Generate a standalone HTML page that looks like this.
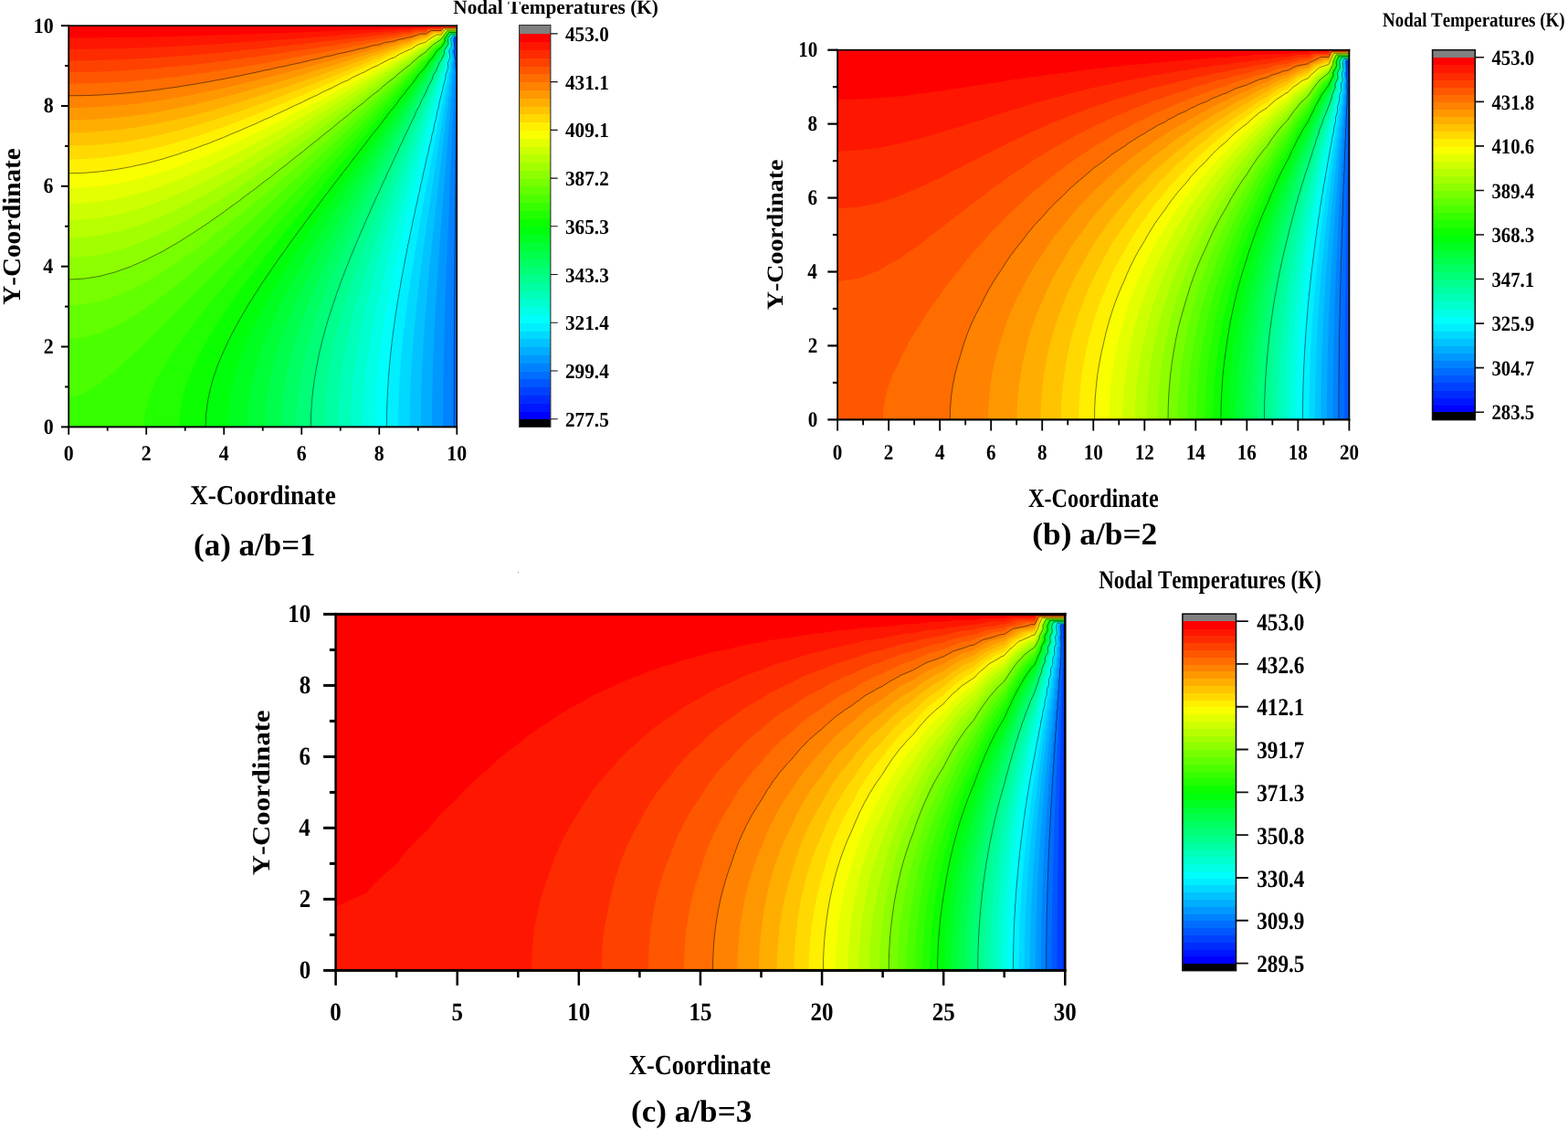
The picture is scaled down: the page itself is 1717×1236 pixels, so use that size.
<!DOCTYPE html>
<html lang="en"><head><meta charset="utf-8"><title>Nodal Temperatures</title>
<style>
html,body{margin:0;padding:0;background:#fff;}
body{width:1717px;height:1236px;overflow:hidden;}
svg{display:block;}
text{font-family:'Liberation Serif','Times New Roman',Times,serif;font-weight:bold;font-size:200px;fill:#000;font-kerning:none;font-variant-ligatures:none;text-rendering:geometricPrecision;}
</style></head><body>
<svg width="1717" height="1236" viewBox="0 0 1717 1236">
<rect width="1717" height="1236" fill="#fff"/>
<clipPath id="cpa"><rect x="75.2" y="28.1" width="425.1" height="439.3"/></clipPath>
<g clip-path="url(#cpa)" shape-rendering="geometricPrecision">
<rect x="74.2" y="27.1" width="427.1" height="441.3" fill="#0000ff"/>
<path fill="#0016ff" d="M500.3 48L499.7 42.2L499.9 41.9L500.3 41.9L500.3 28.9L75.2 28.9L75.2 467.4L500.3 467.4Z"/>
<path fill="#002bff" d="M500.3 53.8L499.2 42.2L499.6 41.6L500.3 41.6L500.3 28.9L75.2 28.9L75.2 467.4L500.3 467.4Z"/>
<path fill="#0041ff" d="M500.3 59.1L499.7 55.5L499.9 55.1L498.6 42.2L499.2 41.4L500.3 41.4L500.3 28.9L75.2 28.9L75.2 467.4L500.3 467.4Z"/>
<path fill="#0057ff" d="M500.3 64.2L498.8 55.5L499.3 54.7L498.1 42.2L498.9 41.1L500.3 41.1L500.3 28.9L75.2 28.9L75.2 467.4L500.3 467.4Z"/>
<path fill="#006dff" d="M500.3 70.6L500.2 68.7L497.9 55.5L498.7 54.2L497.5 42.2L498.5 40.8L500.3 40.8L500.3 28.9L75.2 28.9L75.2 467.4L500.3 467.4Z"/>
<path fill="#0082ff" d="M497.2 467.4L497.3 414.2L497.5 361.1L497.6 359L497.6 347.8L497.7 345.7L497.7 334.5L497.7 332.5L497.7 321.2L497.8 319.3L497.8 307.9L497.9 306.1L497.9 294.7L498 292.9L498 281.4L498.1 279.7L498.1 268.1L498.3 266.5L498.3 254.8L498.4 253.3L498.4 241.5L498.5 240.1L498.5 228.2L498.6 226.9L498.6 214.9L498.7 213.7L498.7 201.6L498.8 200.5L498.8 188.4L498.9 187.3L498.9 175.1L499.1 174.1L499.1 161.8L499.2 160.9L499.2 148.5L499.3 147.7L499.3 135.2L499.4 134.5L499.4 121.9L499.6 121.3L499.6 108.6L499.7 108.1L499.7 95.3L499.8 94.9L499.8 82.1L499.9 81.7L498.7 68.8L499.2 67.9L497 55.5L498.1 53.7L497 42.2L498.2 40.5L500.3 40.5L500.3 28.9L75.2 28.9L75.2 467.4Z"/>
<path fill="#0098ff" d="M485.1 467.4L485.2 440.8L485.5 414.2L486 387.7L486.6 363.7L486.6 361.1L487 350.7L487 347.8L487.4 337.7L487.4 334.5L487.8 324.7L487.8 321.2L488.2 311.8L488.2 307.9L488.7 298.9L488.7 294.7L489.2 286L489.2 281.4L489.7 273.1L489.7 268.1L490.3 260.2L490.3 254.8L490.8 247.4L490.8 241.5L491.4 234.5L491.4 228.2L491.9 221.7L491.9 214.9L492.5 208.8L492.5 201.6L493.1 196L493.1 188.4L493.7 183.2L493.7 175.1L494.3 170.3L494.3 161.8L494.9 157.5L494.9 148.5L495.4 144.7L495.4 135.2L496 131.9L496 121.9L496.6 119.1L496.6 108.6L497.2 106.2L497.2 95.3L497.8 93.4L497.8 82.1L498.4 80.6L497.3 68.8L498.1 67.1L496.1 55.5L497.5 53.3L496.4 42.2L497.8 40.3L500.3 40.3L500.3 28.9L75.2 28.9L75.2 467.4Z"/>
<path fill="#00aeff" d="M473 467.4L473.2 440.8L473.7 414.2L474 407L474.1 401L474.4 394L474.5 387.7L474.9 381.1L475 374.4L475.4 368.2L475.6 361.1L476 355.4L476.3 347.8L476.7 342.7L477 334.5L477.4 329.9L477.8 321.2L478.2 317.2L478.6 307.9L479 304.5L479.5 294.7L479.8 291.9L480.4 281.4L480.6 279.3L481.3 268.1L481.5 266.7L484.3 228.2L485.3 216.5L485.3 214.9L486.3 204L486.3 201.6L487.3 191.5L487.3 188.4L488.4 179.1L488.4 175.1L489.5 166.6L489.5 161.8L490.5 154.1L490.5 148.5L491.6 141.7L491.6 135.2L492.7 129.2L492.7 121.9L493.7 116.8L493.7 108.6L494.8 104.3L494.8 95.3L495.8 91.8L495.8 82.1L496.9 79.4L495.9 68.8L497.1 66.3L495.2 55.5L496.9 52.8L495.8 42.2L497.5 40L500.3 40L500.3 28.9L75.2 28.9L75.2 467.4Z"/>
<path fill="#00c3ff" d="M460.8 467.4L460.9 454.1L461.1 440.8L461.8 414.2L463 387.7L464.6 361.1L466.3 339L467.7 321.2L468.8 309.9L468.9 307.9L470 297.6L470.1 294.7L471.2 285.2L471.4 281.4L472.5 272.9L472.8 268.1L473.8 260.6L474.2 254.8L475.1 248.4L475.6 241.5L476.4 236.1L477 228.2L477.8 223.9L478.5 214.9L479.1 211.7L480 201.6L480.5 199.4L481.6 188.4L481.8 187.2L483.2 175L484.7 162.8L484.7 161.8L486.2 150.8L486.2 148.5L487.7 138.7L487.7 135.2L489.3 126.6L489.3 121.9L490.8 114.5L490.8 108.6L492.3 102.4L492.3 95.3L493.8 90.3L493.8 82.1L495.3 78.2L494.5 68.8L496.1 65.5L494.3 55.5L496.3 52.3L495.3 42.2L497.1 39.7L500.3 39.7L500.3 28.9L75.2 28.9L75.2 467.4Z"/>
<path fill="#00d9ff" d="M448.6 467.4L448.6 454.1L448.9 440.8L449.3 427.5L449.8 414.2L450.6 401L451.4 387.7L452.4 374.4L453.3 364.2L453.5 361.1L454.5 351.9L454.8 347.8L455.7 339.5L456.1 334.5L457 327.3L457.6 321.2L458.4 315.1L459.1 307.9L459.9 302.9L460.7 294.7L461.4 290.8L462.4 281.4L462.9 278.7L464.2 268.1L464.5 266.7L466.1 254.6L467.8 242.7L467.9 241.5L469.6 230.8L469.8 228.2L471.4 218.9L471.7 214.9L473.2 207.1L473.7 201.6L475 195.2L475.7 188.4L476.8 183.3L477.7 175.1L478.6 171.4L479.7 161.8L480.4 159.5L481.8 148.5L482.1 147.5L483.9 135.6L483.9 135.2L485.9 123.9L485.9 121.9L487.9 112.2L487.9 108.6L489.9 100.5L489.9 95.3L491.9 88.7L491.9 82.1L493.8 77L493.1 68.8L495 64.7L493.5 55.5L495.7 51.9L494.7 42.2L496.8 39.4L500.3 39.4L500.3 28.9L75.2 28.9L75.2 467.4Z"/>
<path fill="#00efff" d="M436.1 467.4L436.2 454.1L436.5 440.8L437 427.5L437.7 414.2L438.6 401L439.3 393.1L439.6 387.7L440.4 380.7L440.8 374.4L441.6 368.4L442.2 361.1L442.9 356.1L443.8 347.8L444.4 344L445.5 334.5L445.9 331.9L447.3 321.2L449.3 307.7L451.1 296.1L451.3 294.7L453 284.3L453.3 281.4L455 272.5L455.5 268.1L457 260.8L457.8 254.8L459 249.1L460.1 241.5L461.1 237.4L462.5 228.2L463.1 225.7L464.9 214.9L465.2 214L467.3 202.4L467.4 201.6L469.6 190.9L469.8 188.4L471.8 179.4L472.3 175.1L474 167.8L474.8 161.8L476.3 156.3L477.3 148.5L478.4 144.7L479.8 135.2L480.6 133.1L482.4 121.9L482.6 121.4L485 109.9L485 108.6L487.4 98.6L487.4 95.3L489.9 87.2L489.9 82.1L492.3 75.8L491.6 68.8L494 63.9L492.6 55.5L495.1 51.4L494.2 42.2L496.4 39.1L500.3 39.1L500.3 28.9L75.2 28.9L75.2 467.4Z"/>
<path fill="#00fffa" d="M423.4 467.4L423.5 454.1L423.9 440.8L424.5 427.5L425.3 414.2L426.4 401L426.9 396.7L427.7 387.7L428.1 384.4L429.2 374.4L430.9 361.1L432.7 347.8L434.7 334.5L436.4 324.5L436.9 321.2L438.5 312.8L439.1 307.9L440.6 301.1L441.6 294.7L442.7 289.5L444.1 281.4L444.9 278L446.7 268.1L447.2 266.4L449.5 254.9L451.9 243.6L452.2 241.5L454.4 232.2L455 228.2L456.9 220.9L457.9 214.9L459.4 209.5L460.8 201.6L461.9 198.2L463.8 188.4L464.3 186.8L466.8 175.5L469.5 164.3L469.8 161.8L472.2 153.1L472.8 148.5L474.8 141.8L475.8 135.2L477.4 130.6L478.8 121.9L479.9 119.2L481.9 108.6L482.3 107.8L485 96.7L485 95.3L487.9 85.6L487.9 82.1L490.8 74.6L490.2 68.8L493 63.1L491.7 55.5L494.5 50.9L493.6 42.2L496 38.9L500.3 38.9L500.3 28.9L75.2 28.9L75.2 467.4Z"/>
<path fill="#00ffe4" d="M410.5 467.4L410.7 454.1L411.1 440.8L411.8 427.5L412.8 414.2L414.1 401L415.6 387.7L417.3 374.4L418.9 363.9L419.2 361.1L420.8 352.1L421.3 347.8L422.8 340.4L423.7 334.5L424.9 328.8L426.2 321.2L427.2 317.2L428.9 307.9L429.5 305.8L431.9 294.3L434.4 283.1L434.7 281.4L437.1 271.8L437.8 268.1L439.7 260.6L440.9 254.8L442.4 249.4L444.1 241.5L445.2 238.3L447.5 228.2L447.9 227.1L450.7 216L450.9 214.9L453.6 205L454.2 201.6L456.5 194L457.7 188.4L459.4 183L461.1 175.1L462.3 171.9L464.7 161.8L465.1 160.8L468.1 149.9L468.2 148.5L471.1 139L471.7 135.2L474.1 128.1L475.2 121.9L477.1 117.1L478.7 108.6L479.9 106L482.4 95.3L482.7 94.9L485.9 84.1L485.9 82.1L489.2 73.4L488.8 68.8L492 62.2L490.8 55.5L493.9 50.4L493.1 42.2L495.7 38.6L500.3 38.6L500.3 28.9L75.2 28.9L75.2 467.4Z"/>
<path fill="#00ffce" d="M397.4 467.4L397.6 454.1L398.1 440.8L398.9 427.5L400 414.2L401.4 401L403.1 387.7L404.4 379.2L405 374.4L406.3 367.4L407.3 361.1L408.4 355.7L409.8 347.8L410.6 344.2L412.5 334.5L413 332.7L415.4 321.3L418.1 310.1L418.5 307.9L420.8 299L421.7 294.7L423.6 287.9L425.1 281.4L426.5 276.8L428.6 268.1L429.4 265.8L432.3 254.8L435.4 244L436 241.5L438.6 233.1L439.7 228.2L441.7 222.3L443.6 214.9L444.8 211.5L447.5 201.6L448 200.6L451.2 189.9L451.5 188.4L454.5 179.2L455.4 175.1L457.8 168.4L459.4 161.8L461.1 157.7L463.5 148.5L464.2 146.9L467.5 136.1L467.6 135.2L470.9 125.5L471.6 121.9L474.3 114.9L475.5 108.6L477.6 104.2L479.7 95.3L480.7 93.3L483.9 82.5L483.9 82.1L487.7 72.2L487.4 68.8L490.9 61.4L489.9 55.5L493.3 50L492.5 42.2L495.3 38.3L500.3 38.3L500.3 28.9L75.2 28.9L75.2 467.4Z"/>
<path fill="#00ffb8" d="M383.9 467.4L384.1 454.1L384.6 440.8L385.5 427.5L386.8 414.2L388.4 401L389.4 394.1L390.3 387.7L391.3 382.2L392.6 374.4L393.4 370.5L395.1 361.1L401 334.5L403.4 325.2L404.2 321.2L406.2 314.2L407.7 307.9L409.2 303.2L411.4 294.7L412.2 292.3L415.3 281.4L418.6 270.7L419.2 268.1L421.9 260L423.3 254.8L425.3 249.3L427.5 241.5L428.6 238.6L432 228L435.5 217.5L436.2 214.9L439.1 207L440.6 201.6L442.6 196.4L445.1 188.4L446.1 185.9L449.6 175.3L453.3 165L454.1 161.8L457 154.5L458.6 148.5L460.6 144L463.3 135.2L464.1 133.5L467.7 123L467.9 121.9L471.5 112.7L472.3 108.6L475.2 102.3L476.9 95.3L478.8 91.8L481.7 82.1L482.2 81.2L486.2 71L486 68.8L489.9 60.6L489 55.5L492.7 49.5L492 42.2L495 38L500.3 38L500.3 28.9L75.2 28.9L75.2 467.4Z"/>
<path fill="#00ffa3" d="M369.9 467.4L370.1 454.1L370.7 440.8L371.7 427.5L373.2 414.2L375 401L377.2 387.7L379.7 374.4L382.6 361.1L385.1 350.8L385.7 347.8L387.9 339.7L389.1 334.5L390.8 328.7L392.8 321.2L393.9 317.8L397.1 307L400.4 296.3L400.9 294.7L403.9 285.7L405.1 281.4L407.4 275.2L409.6 268.1L410.9 264.7L414.5 254.2L418.2 243.8L418.9 241.5L422 233.5L423.6 228.2L425.8 223.1L428.6 214.9L429.5 212.8L433.4 202.5L433.6 201.6L437.3 192.3L438.5 188.4L441.2 182.1L443.5 175.1L445.1 171.8L448.9 161.5L453 151.4L453.7 148.5L457 141.2L458.8 135.2L460.9 131L464 121.9L464.7 120.7L468.8 110.6L469.2 108.6L472.9 100.5L474.1 95.3L476.9 90.3L479.3 82.1L480.7 80L484.7 69.8L484.6 68.8L488.9 59.8L488.1 55.5L492.1 49L491.4 42.2L494.6 37.8L500.3 37.8L500.3 28.9L75.2 28.9L75.2 467.4Z"/>
<path fill="#00ff8d" d="M355.4 467.4L355.7 454.1L356.4 440.8L357.5 427.5L359.1 414.2L361.2 401L363.6 387.7L366.4 374.4L368.8 364.6L369.5 361.1L371.6 353.6L373 347.8L374.6 342.6L376.9 334.5L377.8 331.8L381.1 321.1L384.6 310.5L385.3 307.9L388.2 300.1L389.9 294.7L391.9 289.6L394.7 281.4L395.6 279.3L399.7 268.1L403.4 258.8L404.7 254.8L407.4 248.6L409.9 241.5L411.4 238.4L415.4 228.3L419.6 218.3L420.7 214.9L423.7 208.2L426.2 201.6L427.9 198.2L432 188.1L436.3 178.2L437.3 175.1L440.6 168.3L443 161.8L444.8 158.3L449 148.2L453.3 138.4L454.3 135.2L457.7 128.5L459.9 121.9L461.9 118.5L466 108.4L470.6 98.7L471.3 95.3L474.9 88.8L476.9 82.1L479.1 78.8L483.2 68.7L487.9 59L487.2 55.5L491.5 48.6L490.8 42.2L494.3 37.5L500.3 37.5L500.3 28.9L75.2 28.9L75.2 467.4Z"/>
<path fill="#00ff77" d="M340.4 467.4L340.6 454.1L341.4 440.8L342.7 427.5L344.5 414.2L346.8 401L349.4 387.7L352.5 374.4L354.6 366.8L356 361.1L357.6 355.9L359.9 347.8L364.3 334.5L367.9 324L368.7 321.2L371.6 313.7L373.5 307.9L375.4 303.4L378.6 294.7L381.3 288.3L383.9 281.4L387.5 272.9L389.3 268.1L391.7 262.9L395 254.8L395.9 252.9L400.2 243L400.8 241.5L404.6 233.2L406.6 228.2L409 223.3L412.6 214.9L413.4 213.5L417.9 203.7L418.7 201.6L422.5 194L424.7 188.4L427 184.2L431.1 175.1L432.3 172.7L436.1 164.7L437.1 161.8L440.7 155L443.4 148.5L445.2 145.3L449.7 135.5L454.4 125.9L455.8 121.9L459.1 116.3L462.2 108.6L463.6 106.5L466.3 101L468.2 96.8L468.6 95.3L473 87.3L474.5 82.1L477.5 77.5L481 68.8L481.9 67.7L483.3 65.5L486.8 58.2L486.3 55.5L490.9 48.1L490.3 42.2L493.9 37.2L500.3 37.2L500.3 28.9L75.2 28.9L75.2 467.4Z"/>
<path fill="#00ff62" d="M324.6 467.4L324.9 454.1L325.7 440.8L327.2 427.5L329.2 414.2L331.7 401L334.6 387.7L338 374.4L339.8 368.6L341.9 361.1L346.3 347.8L350.9 334.5L354 326.5L355.9 321.2L358 316.3L361.3 307.9L364.3 301.1L366.8 294.7L370.6 286.3L372.6 281.4L375 276.4L378.7 268.1L381.3 262.8L384 256.9L384.8 254.8L388.6 247.2L391.1 241.5L393.2 237.6L397.9 227.9L402.7 218.4L404.1 214.9L407.5 208.8L410.8 201.6L412.2 199.2L417 189.7L417.6 188.4L421.9 180.3L424.3 175.1L426.8 170.8L431.2 161.8L432.3 160L436.5 151.8L437.9 148.5L441.5 142.4L444.8 135.2L446.3 132.9L449.3 127.3L451.2 123.4L451.7 121.9L456.2 114L458.4 108.6L461.1 104.6L465.7 95.3L466.3 94.4L471 85.8L472.1 82.1L476 76.3L479 68.8L480.7 66.7L483.3 62.6L485.8 57.4L485.5 55.5L490.3 47.6L489.7 42.2L493.6 36.9L500.3 36.9L500.3 28.9L75.2 28.9L75.2 467.4Z"/>
<path fill="#00ff4c" d="M307.9 467.4L308.2 454.1L309.2 440.8L310.8 427.5L313.3 413.1L315.7 401L319 387.7L322.8 374.4L327.1 361.1L330.3 352.7L331.9 347.8L335.5 338.6L337 334.5L339.6 328.5L342.5 321.2L347.3 310.8L348.4 307.9L352.6 298.9L354.5 294.7L357.2 289.2L360.9 281.4L364.3 274.8L367.5 268.1L371.5 260.4L374.2 254.8L376.4 251L381.3 241.5L386.3 232.1L388.2 228.2L391.3 222.8L395.4 214.9L398.3 210.1L401.5 204.1L402.7 201.6L406.6 194.9L410 188.4L411.7 185.6L416.9 176.3L417.5 175.1L422.1 167.1L424.8 161.8L427.3 157.9L432.4 148.6L437.7 139.4L439.7 135.2L442.9 130.2L447.4 121.9L449.3 119L453.4 111.8L454.7 108.6L458.6 102.6L462.2 95.3L463.7 93.3L466.3 89.3L469.1 84.2L469.7 82.1L474.4 75.1L476.9 68.8L479.4 65.7L483.3 59.7L484.8 56.6L484.6 55.5L489.6 47.2L489.2 42.2L493.2 36.7L500.3 36.7L500.3 28.9L75.2 28.9L75.2 467.4Z"/>
<path fill="#00ff36" d="M290 467.4L290.3 454.1L291.4 440.8L293.2 427.5L295.7 414.2L298.7 401L302.3 387.7L306.6 374.4L311.4 361.1L313.3 356.7L316.6 347.8L320.1 339.9L322.3 334.5L329 320.2L333.6 310.6L334.8 307.9L338.4 301L341.5 294.7L343.3 291.5L353.3 272.8L355.7 268.1L358.4 263.5L368.8 245.1L370.6 241.5L374.1 235.9L378.4 228.2L381.3 223.7L384.8 217.7L386.2 214.9L390.2 208.6L394.1 201.6L395.6 199.5L398.3 195.2L401 190.5L402.1 188.4L406.5 181.5L410.1 175.1L411.9 172.5L415.3 167.2L417.4 163.5L418.3 161.8L423 154.5L426.3 148.5L428.4 145.5L432.3 139.4L434 136.5L434.6 135.2L439.5 127.6L442.5 121.9L445 118.6L449.3 111.8L450.5 109.6L450.9 108.6L456.1 100.7L458.8 95.3L461.6 91.7L466.3 84.3L467.1 82.7L467.3 82.1L472.8 73.9L474.8 68.8L478.2 64.8L483.3 56.8L483.7 55.8L483.7 55.5L489 46.7L488.6 42.2L492.9 36.4L500.3 36.4L500.3 28.9L75.2 28.9L75.2 467.4Z"/>
<path fill="#00ff21" d="M270.6 467.4L271 454.1L272.2 440.8L274.2 427.5L277 414.2L279.2 405.9L280.5 401L284.5 387.7L289.2 374.4L294.6 361.1L296.3 357.6L300.4 347.8L306.6 334.5L320.4 307.9L323.4 302.6L327.8 294.7L330.3 290.7L335.4 281.4L339.2 275.1L343.3 268.1L347.3 261.9L351.4 254.8L355.7 248.1L359.6 241.5L364.3 234.6L368.1 228.2L372.6 221.4L376.5 214.9L381.3 208L384 203.7L385.2 201.6L389.7 194.9L393.8 188.4L398.3 182L401.2 177.4L402.6 175.1L407 168.6L411.3 161.8L415.3 156.4L418.6 151.1L420.1 148.5L424.5 142.4L429 135.2L432.3 130.8L436.1 124.9L437.7 121.9L441.9 116.2L446.7 108.6L449.3 105.4L453.7 98.8L455.3 95.3L459.5 90L464.5 82.1L466.3 80L471.2 72.6L472.8 68.8L476.9 63.8L482.2 55.5L483.3 54.7L488.4 46.2L488.1 42.2L492.5 36.1L500.3 36.1L500.3 28.9L75.2 28.9L75.2 467.4Z"/>
<path fill="#00ff0b" d="M249.3 467.4L249.7 454.1L251.1 440.8L253.3 427.5L256.4 414.2L260.4 401L262.2 396.1L265.1 387.7L270.3 374.4L276.3 361.1L279.2 355.4L282.8 347.8L289.8 334.5L296.3 323.2L297.3 321.2L305 307.9L318.8 285.7L321.5 281.4L324.5 276.9L336.1 259.3L338.9 254.8L341.9 250.6L353.7 233.3L357.1 228.2L359.7 224.7L364.3 218.3L366.4 214.9L371.7 207.5L375.7 201.6L381.3 194.2L385.1 188.4L389.9 181.8L394.6 175.1L398.3 170.3L402.1 164.8L404 161.8L408.2 156.3L413.7 148.5L415.3 146.6L420.5 139.3L423.1 135.2L426.6 130.8L438.9 113.8L442.2 108.6L445 105.3L449.3 99.7L451.2 96.8L451.9 95.3L457.3 88.3L461.3 82.1L466.3 76.5L469.7 71.4L470.7 68.8L475.7 62.8L480.4 55.5L481.7 54.2L483.3 53.2L487.8 45.7L487.5 42.2L492.2 35.8L500.3 35.8L500.3 28.9L75.2 28.9L75.2 467.4Z"/>
<path fill="#0bff00" d="M225 467.4L225.6 454.1L227.2 440.8L228.2 436.1L229.9 427.5L233.4 414.2L237.9 401L243.4 387.7L245.2 383.9L249.4 374.4L256.2 361.1L262.2 350.5L263.7 347.8L271.4 334.5L288.3 307.9L296.3 296.5L297.4 294.7L306.6 281.4L313.3 272.3L316.1 268.1L321.3 261L325.7 254.8L330.3 249L335.5 241.5L352.5 219L355.5 214.9L364.3 203.7L365.7 201.6L371.6 194.1L375.8 188.4L381.3 181.7L384.4 177.5L386.1 175.1L390.8 169.2L396.5 161.8L398.3 159.7L403.6 152.7L406.6 148.5L410 144.4L415.3 137.9L417.1 135.2L422.9 127.9L427.3 121.9L432.3 116.2L435.8 111.4L437.6 108.6L442.2 103.1L448.2 95.3L449.3 94.3L455.2 86.6L458.1 82.1L461.5 78.3L466.3 72.9L468.1 70.2L468.7 68.8L474.5 61.9L478.5 55.5L480.7 53.5L483.3 51.7L487.2 45.3L486.9 42.2L491.8 35.5L500.3 35.5L500.3 28.9L75.2 28.9L75.2 467.4Z"/>
<path fill="#21ff00" d="M196.1 467.4L196.7 454.1L198.7 440.8L201.9 427.5L206.4 414.2L211.2 403.2L212.1 401L218.3 387.7L225.7 374.4L228.2 370.3L233.5 361.1L242 347.8L245.2 343.4L251 334.5L260.5 321.2L262.2 319L270.1 307.9L279.2 296.1L280.3 294.7L290.4 281.4L296.3 274.2L300.8 268.1L311.5 254.8L313.3 252.8L322.1 241.5L330.3 231.9L333.1 228.2L344 214.9L347.3 211.2L354.9 201.6L364.3 190.7L366.1 188.4L372.1 181.2L377.1 175.1L381.3 170.4L385.6 165.1L388.1 161.8L398.3 150.1L399.5 148.5L405.7 141L410.4 135.2L415.3 130L419.3 125L421.5 121.9L426 117L432.3 109.7L433 108.6L439.5 101L443.8 95.3L449.3 89.8L453 85L454.9 82.1L459.7 76.9L466.5 69L466.6 68.8L473.2 60.9L476.7 55.5L479.7 52.7L483.3 50.3L486.6 44.8L486.4 42.2L491.4 35.3L500.3 35.3L500.3 28.9L75.2 28.9L75.2 467.4Z"/>
<path fill="#36ff00" d="M157.5 467.4L158.6 454.1L160.2 447.5L161.6 440.8L166 427.5L172.2 414.2L177.2 405.8L179.7 401L187.9 387.7L194.2 379L197.2 374.4L206.9 361.1L211.2 355.8L217.1 347.8L228.2 334.1L238.6 321.2L245.2 313.7L249.8 307.9L262.2 293.6L272.6 281.4L279.2 274.1L284.2 268.1L296.3 254.6L307.7 241.5L313.3 235.6L319.5 228.2L330.3 216.5L331.6 214.9L343.5 201.6L347.3 197.7L355.3 188.4L364.3 178.9L367.4 175.1L379.5 161.8L381.3 160.1L391.4 148.5L398.3 141.4L403.4 135.2L415.3 122.5L427.5 108.6L432.3 104.1L436.7 98.8L439.4 95.3L449.3 85.3L450.9 83.3L451.7 82.1L457.8 75.4L463.6 68.8L464.9 67.7L466.3 66.7L472 59.9L474.8 55.5L478.7 51.9L483.3 48.8L486 44.3L485.8 42.2L491.1 35L500.3 35L500.3 28.9L75.2 28.9L75.2 467.4Z"/>
<path fill="#4cff00" d="M75.2 435.4L92.2 430.8L96.2 427.5L109.2 419.9L115 414.2L126.2 405.8L130.8 401L143.2 390.2L145.5 387.7L160.2 373.9L173 361.1L177.2 357.4L186.4 347.8L194.2 340.6L199.8 334.5L211.2 323.5L213.3 321.2L226.5 307.9L228.2 306.3L239.5 294.7L245.2 289.2L252.6 281.4L262.2 271.9L265.8 268.1L279.2 254.6L291.9 241.5L296.3 237.4L304.9 228.2L313.3 220.1L318 214.9L330.3 202.6L344.1 188.4L347.3 185.3L357 175.1L364.3 168L370 161.8L381.3 150.6L383.1 148.5L396.1 135.2L398.3 133.2L408.9 121.9L415.3 116L421.8 108.6L432.3 98.6L435 95.3L448.1 82.1L449.3 81.1L455.9 73.9L460.5 68.8L463.2 66.4L466.3 64.2L470.7 58.9L472.9 55.5L477.7 51.1L483.3 47.4L485.4 43.9L485.3 42.2L490.7 34.7L500.3 34.7L500.3 28.9L75.2 28.9Z"/>
<path fill="#62ff00" d="M75.2 370.7L92.2 369.2L109.2 364.5L116.8 361.1L126.2 357.4L143.3 347.8L160.2 337L163.3 334.5L177.2 324.7L181.4 321.2L194.2 311.5L198.2 307.9L211.2 297.5L214.3 294.7L228.2 282.9L229.9 281.4L245.2 267.9L259.8 254.8L262.2 252.8L274.3 241.5L279.2 237.3L288.8 228.2L296.3 221.7L303.1 214.9L313.3 205.8L317.4 201.6L330.3 189.9L331.7 188.4L345.9 175.1L347.3 173.9L359.8 161.8L364.3 157.9L373.8 148.5L381.3 141.9L387.8 135.2L392.6 130.8L398.3 125.8L401.9 121.9L408 116.2L415.3 109.6L416.1 108.6L423.3 101.6L430 95.3L432.3 93.6L443.7 82.1L446.4 79.8L449.3 77.7L454.1 72.5L457.3 68.8L461.6 65.1L466.3 61.8L469.5 58L471.1 55.5L476.7 50.3L483.3 45.9L484.8 43.4L484.7 42.2L490.4 34.4L500.3 34.4L500.3 28.9L75.2 28.9Z"/>
<path fill="#77ff00" d="M75.2 334.3L92.2 333.2L109.2 329.9L126.2 324.5L133.5 321.2L143.2 317.3L160.2 308.4L177.2 298.4L182.6 294.7L194.2 287.2L202.1 281.4L211.2 275.2L220.4 268.1L228.2 262.5L237.7 254.8L245.2 249.2L254.5 241.5L262.2 235.5L270.8 228.2L279.2 221.5L286.7 214.9L296.3 207.2L302.5 201.6L313.3 192.7L318 188.4L323.9 183.4L330.3 178.1L333.5 175.1L340 169.4L347.3 163.3L348.9 161.8L356.1 155.4L364.2 148.5L372.1 141.4L380.2 134.4L381.3 133.6L388.2 127.3L394.3 121.9L398.3 118.8L404.2 113.2L409.3 108.6L412.2 106.2L415.3 103.9L424.2 95.3L428.1 92.1L432.3 89.1L439.2 82.1L444.1 78L449.3 74.2L454.2 68.8L459.9 63.8L466.3 59.3L468.2 57L469.2 55.5L475.7 49.5L483.3 44.5L484.2 42.9L484.2 42.2L490 34.2L500.3 34.2L500.3 28.9L75.2 28.9Z"/>
<path fill="#8dff00" d="M75.2 306L92.2 305.1L109.2 302.4L126.2 297.9L134.9 294.7L143.2 291.8L160.2 284.3L165.7 281.4L177.2 275.7L190.2 268.1L194.2 265.9L211.8 254.8L228.2 244L231.5 241.5L245.2 232.1L250.2 228.2L262.2 219.7L268.2 214.9L279.2 206.9L285.8 201.6L291.1 197.6L296.3 193.9L302.9 188.4L308.1 184.3L313.3 180.6L319.8 175.1L325 171L330.3 167.1L336.5 161.8L341.8 157.5L347.3 153.5L353 148.5L358.6 144.1L364.3 139.8L369.5 135.2L375.3 130.5L381.3 126L385.8 121.9L391.9 117L398.3 112.2L402.2 108.6L408.6 103.4L415.3 98.4L418.5 95.3L425.2 89.8L432.3 84.6L434.8 82.1L441.8 76.2L449.3 70.7L451 68.8L458.3 62.5L466.3 56.9L467.3 55.5L474.6 48.7L483.3 43L483.6 42.5L483.6 42.2L489.7 33.9L500.3 33.9L500.3 28.9L75.2 28.9Z"/>
<path fill="#a3ff00" d="M75.2 281.8L92.2 281L109.2 278.7L126.2 274.9L143.2 269.6L146.9 268.1L160.2 263.1L177.2 255.3L194.2 246.8L203.4 241.5L211.2 237.3L226.1 228.2L228.2 227L236.7 221.5L245.2 216.2L255.3 209.5L262.2 205L266.8 201.6L273.5 197.1L279.2 193.3L286 188.4L291.4 184.6L296.3 181.4L304.6 175.1L309.2 171.9L313.3 169.1L318 165.5L326.8 159L330.3 156.7L335.5 152.6L344.3 146.2L347.3 144.2L352.9 139.6L361.7 133.2L364.3 131.5L370.3 126.6L379.1 120.2L381.3 118.8L387.7 113.6L396.4 107.2L398.3 106L404.9 100.6L413.7 94.1L415.3 93.2L422.2 87.5L431 81.1L432.3 80.4L439.4 74.4L448.3 68L449.3 67.6L456.6 61.2L465.6 54.9L466.3 54.7L473.6 47.9L482.9 41.9L483.3 41.9L489.3 33.6L500.3 33.6L500.3 28.9L75.2 28.9Z"/>
<path fill="#b8ff00" d="M75.2 260.5L92.2 259.8L109.2 257.7L126.2 254.2L143.2 249.6L160.2 243.8L165.6 241.5L177.2 237L194.9 228.8L205.2 223.5L211.2 220.6L221.4 214.9L228.2 211.4L235.3 207.2L245.1 201.6L254.6 195.7L262.2 191.3L266.6 188.4L273.6 184L279.2 180.6L283 178L292.3 172L296.3 169.6L301.5 165.9L310.8 159.8L313.3 158.4L319.9 153.7L329.1 147.6L330.3 146.9L338.1 141.3L347.3 135.2L356.2 128.9L364.3 123.7L366.5 121.9L374.2 116.4L381.3 112L385.6 108.6L392.2 103.9L398.3 100.2L401.3 97.7L404.5 95.3L410.2 91.4L415.3 88.4L419.2 85.2L423.5 82.1L428.2 78.8L432.3 76.6L437.1 72.6L442.4 68.8L446.1 66.3L449.3 64.8L455 59.9L461.2 55.5L464 53.7L466.3 53L472.6 47.1L481.9 41.1L483.3 41.1L489 33.3L500.3 33.3L500.3 28.9L75.2 28.9Z"/>
<path fill="#ceff00" d="M75.2 240.9L92.2 240.3L109.2 238.4L126.2 235.4L143.2 231.2L152.8 228.2L160.2 226L169.9 222.5L177.2 219.9L188.9 214.9L194.2 212.8L203.2 208.7L211.2 205.1L217.9 201.6L224.3 198.5L228.2 196.7L234.5 193.3L244.7 187.9L254.6 182.4L262.2 178.4L267.6 175.1L274.3 171.2L279.2 168.6L284.1 165.5L293.7 159.8L296.3 158.5L303.3 154L313 148.3L322.3 142.3L330.3 137.6L333.8 135.2L341.2 130.5L347.3 127.1L350.7 124.6L360.1 118.6L364.3 116.3L369.4 112.7L378.8 106.7L381.3 105.5L388.1 100.7L397.6 94.8L398.3 94.5L406.7 88.6L415.3 83.7L417.3 82.1L425.3 76.6L432.3 72.9L434.8 70.7L437.6 68.8L443.9 64.5L449.3 62.1L453.3 58.6L457.8 55.5L462.4 52.5L466.3 51.3L471.6 46.3L477.9 42.2L480.9 40.3L483.3 40.3L488.6 33.1L500.3 33.1L500.3 28.9L75.2 28.9Z"/>
<path fill="#e4ff00" d="M75.2 222.8L92.2 222.3L109.2 220.6L126.2 217.9L143.2 214.1L160.2 209.4L167.2 207.1L177.2 203.8L182.9 201.6L194.2 197.5L201.8 194.3L211.2 190.5L223.7 184.8L228.2 182.9L234.3 179.8L244.9 174.8L255.1 169.5L262.2 166.1L265.4 164.3L275.6 158.9L279.2 157.2L285.6 153.5L295.8 148.1L305.6 142.5L313.3 138.5L315.6 137L325.3 131.4L330.3 128.9L335.2 125.7L345 120.2L347.3 119.1L354.7 114.4L364.6 108.9L374.1 103L381.3 99.3L383.9 97.4L393.5 91.6L398.3 89.3L403.2 85.9L413 80.3L415.3 79.3L422.5 74.4L432.3 69.1L441.7 62.8L449.3 59.4L451.6 57.3L454.3 55.5L460.9 51.2L466.3 49.5L470.6 45.6L475.7 42.2L479.9 39.6L483.3 39.6L488.3 32.8L500.3 32.8L500.3 28.9L75.2 28.9Z"/>
<path fill="#faff00" d="M75.2 205.8L92.2 205.3L109.2 203.8L126.2 201.3L143.2 198L160.2 193.8L177.5 188.6L189.3 184.5L194.2 183L201 180.3L211.2 176.6L223.6 171.4L228.2 169.7L234.6 166.7L245.6 162L256.2 157L262.2 154.4L266.8 152L277.4 147L279.2 146.2L287.7 141.8L296.3 137.8L301.1 135.2L308.4 131.4L313.3 129.2L318.6 126.1L329 120.9L330.3 120.3L339 115.4L347.3 111.4L349.3 110.2L359.3 104.7L364.3 102.5L369.4 99.3L379.6 94L381.3 93.3L389.4 88.4L398.3 84.2L399.7 83.2L409.5 77.6L415.3 75.1L419.6 72.1L429.7 66.8L432.3 65.9L439.5 61.1L449.3 56.6L450.8 55.5L459.3 50L466.3 47.8L469.6 44.8L473.5 42.2L479 38.8L483.3 38.8L487.9 32.5L500.3 32.5L500.3 28.9L75.2 28.9Z"/>
<path fill="#ffef00" d="M75.2 189.7L92.2 189.3L109.2 187.9L126.2 185.7L143.2 182.7L150.7 180.9L160.2 178.9L177.2 174.3L188.7 170.7L194.2 169.1L200.7 166.8L211.2 163.3L224 158.5L228.2 157.1L235.4 154.1L245.2 150.3L257.7 144.9L262.2 143.2L268.7 140.2L279.7 135.5L290.3 130.6L296.3 128.2L301.1 125.7L311.8 120.8L313.3 120.2L322.3 115.7L330.3 112.3L333 110.7L343.5 105.7L347.3 104.1L353.9 100.5L364.6 95.6L374.8 90.3L381.3 87.7L385.3 85.2L395.8 80.2L398.3 79.3L406.1 74.9L415.3 70.9L416.8 69.9L426.9 64.5L432.3 62.7L437.3 59.4L448 54.5L449.3 54.2L457.7 48.8L466.3 46.1L468.6 44L471.3 42.2L478 38L483.3 38L487.5 32.2L500.3 32.2L500.3 28.9L75.2 28.9Z"/>
<path fill="#ffd900" d="M75.2 174.4L92.2 174L109.2 172.8L126.2 170.8L143.2 168.1L149.5 166.7L160.2 164.6L177.2 160.5L188.5 157.3L194.2 155.8L200.9 153.7L211.2 150.6L224.9 145.9L228.2 144.9L236.6 141.8L245.2 138.9L248.3 137.6L259.7 133.3L262.2 132.4L271 128.8L279.2 125.7L282.3 124.3L293.5 119.8L296.3 118.8L304.5 115.1L313.3 111.7L315.6 110.5L326.6 105.7L330.3 104.4L337.4 101L347.3 97L348.5 96.3L359.3 91.4L364.3 89.6L370.1 86.6L381.2 82L391.7 76.9L398.3 74.6L402.6 72.1L413.6 67.4L415.3 67L424 62.3L432.3 59.5L435.1 57.6L445.7 52.7L449.3 51.9L456.1 47.5L466.3 44.4L467.6 43.2L477 37.3L483.3 37.3L487.2 31.9L500.3 31.9L500.3 28.9L75.2 28.9Z"/>
<path fill="#ffc300" d="M75.2 159.6L92.2 159.3L109.2 158.2L126.2 156.4L143.2 154L148.8 152.9L160.2 150.9L177.2 147.2L188.8 144.3L194.2 143L201.5 140.9L211.2 138.3L214 137.4L226.3 133.7L228.2 133.2L238.4 129.8L245.2 127.8L250.3 125.9L262.3 122L273.9 117.7L279.2 116L285.5 113.5L296.3 109.7L308.5 104.9L313.3 103.4L319.9 100.5L330.3 96.8L342.6 91.7L347.3 90.2L353.9 87.2L364.3 83.5L365.4 82.9L376.4 78.3L381.3 76.8L387.6 73.7L398.3 69.9L399.1 69.4L410.1 64.7L415.3 63.2L421.2 60.1L432.3 56.3L432.9 55.9L443.5 50.9L449.3 49.7L454.6 46.3L466.3 42.6L466.9 42.2L476 36.5L483.3 36.5L486.8 31.7L500.3 31.7L500.3 28.9L75.2 28.9Z"/>
<path fill="#ffae00" d="M75.2 145.4L92.2 145.1L109.2 144.1L126.2 142.5L143.2 140.3L148.6 139.4L160.2 137.6L177.2 134.3L189.5 131.5L194.2 130.6L202.6 128.4L211.2 126.5L215.4 125.2L228.2 121.9L240.5 118.2L245.2 117.1L252.8 114.6L262.2 111.9L265.1 110.9L277.2 107.1L279.2 106.5L289.1 103.1L296.3 101L301.1 99.1L313.2 95.3L324.8 91.1L330.3 89.5L336.5 86.9L347.3 83.5L348.5 83L360 78.7L364.3 77.6L371.6 74.5L381.3 71.6L383.5 70.5L395.1 66.3L398.3 65.5L406.5 61.9L415.3 59.5L418.4 57.9L425.4 55.5L430.1 53.7L432.3 53.4L441.2 49.2L449.3 47.4L453 45.1L462.2 42.2L465 41.2L466.3 41.2L475.1 35.8L483.3 35.8L486.5 31.4L500.3 31.4L500.3 28.9L75.2 28.9Z"/>
<path fill="#ff9800" d="M75.2 131.5L92.2 131.2L109.2 130.4L126.2 129L143.2 127.1L148.8 126.2L160.2 124.7L177.2 121.8L190.7 119.1L194.2 118.5L204 116.3L211.2 114.9L217.2 113.3L228.2 110.9L230.3 110.3L243.2 107L245.2 106.6L255.8 103.6L262.2 102.1L268.4 100.1L279.2 97.3L281 96.7L293.4 93.1L296.3 92.5L305.6 89.4L313.3 87.5L318 85.7L330.4 82.2L342.4 78.3L347.3 77.1L354.5 74.4L364.3 71.8L366.8 70.8L379 67L381.3 66.5L390.8 63L398.3 61.2L403 59.2L415.5 55.7L427.1 51.4L432.3 50.6L439 47.4L449.3 45.2L451.4 43.8L456.7 42.2L463.3 39.8L466.3 39.8L474.1 35L483.3 35L486.1 31.1L500.3 31.1L500.3 28.9L75.2 28.9Z"/>
<path fill="#ff8200" d="M75.2 118L92.2 117.8L109.2 117.1L126.2 115.8L134.4 115L143.2 114.2L149.3 113.4L160.2 112.1L178.2 109.4L194.2 106.7L205.9 104.4L211.2 103.6L219.4 101.7L228.2 100.1L232.9 98.9L245.2 96.4L259.3 93L262.2 92.5L272.2 89.8L279.2 88.4L285.1 86.6L296.3 84.1L298.1 83.5L310.9 80.2L313.3 79.7L323.5 76.7L330.3 75.3L336.2 73.4L347.3 70.8L349 70.1L361.6 66.7L364.3 66.2L374 63.1L381.3 61.6L386.6 59.6L398.3 56.9L399.5 56.4L411.8 52.8L415.3 52.3L424.1 49.1L432.3 47.7L436.7 45.6L449.3 43L449.8 42.6L461.5 38.4L466.3 38.4L473.1 34.2L483.3 34.2L485.8 30.8L500.3 30.8L500.3 28.9L75.2 28.9Z"/>
<path fill="#ff6d00" d="M75.2 104.8L92.2 104.6L109.2 104L126.2 103L134.9 102.2L143.2 101.5L150.1 100.7L160.2 99.8L165 99.1L177.2 97.6L179.6 97.2L194.1 95.2L208.1 92.9L211.2 92.5L222 90.5L228.2 89.6L235.8 88L245.2 86.4L249.5 85.4L262.2 83L276.6 80L279.2 79.5L289.8 77L296.3 75.9L303.1 74.1L313.3 72.2L316.5 71.3L329.9 68.4L342.8 65.3L347.3 64.6L355.8 62.2L364.3 60.7L369 59.2L381.3 56.7L382.4 56.3L395.3 53.1L398.3 52.8L408.1 49.9L415.3 48.9L421.1 46.7L432.3 44.9L434.5 43.9L442.4 42.2L447.6 40.9L449.3 40.9L459.8 37.1L466.3 37.1L472.1 33.5L483.3 33.5L485.4 30.6L500.3 30.6L500.3 28.9L75.2 28.9Z"/>
<path fill="#ff5700" d="M75.2 91.8L92.2 91.6L109.2 91.1L126.2 90.3L135.8 89.6L143.2 89.1L151.3 88.3L160.2 87.6L166.4 86.9L177.2 85.9L181.4 85.3L194.2 83.9L211.2 81.6L225 79.5L228.2 79.2L239.2 77.3L245.2 76.6L253.3 75L262.2 73.8L267.3 72.7L279.2 70.9L281.3 70.4L296.3 67.9L308.9 65.4L313.3 64.8L322.6 62.8L330.3 61.7L336.3 60.2L347.3 58.5L350.1 57.7L364 55.2L377.3 52.4L381.3 52L390.8 49.6L398.3 48.7L404.3 46.9L415.3 45.5L418.1 44.4L432.2 42.1L445.1 38.9L449.3 38.9L458 35.7L466.3 35.7L471.2 32.7L483.3 32.7L485.1 30.3L500.3 30.3L500.3 28.9L75.2 28.9Z"/>
<path fill="#ff4100" d="M75.2 79L92.2 78.9L109.2 78.5L126.2 77.8L136.9 77.1L143.2 76.9L152.6 76.1L160.2 75.7L168.1 74.9L177.2 74.3L183.4 73.6L194.2 72.7L198.5 72.1L211.2 70.9L213.5 70.6L228.4 68.9L243 67L245.2 66.9L257.5 65.1L262.2 64.7L272 63.1L279.2 62.4L286.4 61.1L296.3 60L300.8 59.1L313.3 57.5L315.3 57.1L329.7 55L343.7 52.7L347.3 52.5L357.8 50.5L364.3 49.9L372 48.2L381.3 47.3L386.2 46.1L398.3 44.7L400.6 44L415.1 42L428.8 39.5L432.3 39.5L442.5 36.9L449.3 36.9L456.3 34.4L466.3 34.4L470.2 31.9L483.3 31.9L484.7 30L500.3 30L500.3 28.9L75.2 28.9Z"/>
<path fill="#ff2b00" d="M75.2 66.4L92.2 66.3L109.2 66L126.2 65.5L143.2 64.8L154.3 64.1L160.2 63.9L170.1 63.2L177.2 62.8L185.7 62.1L194.2 61.6L201.2 60.9L211.2 60.3L216.6 59.7L228.2 58.8L231.9 58.4L245.2 57.3L247.2 57L262.4 55.6L277.4 54L279.2 53.9L292.2 52.3L296.3 52.1L307.1 50.7L313.3 50.3L322 49L330.3 48.4L336.8 47.3L347.3 46.5L351.7 45.7L364.3 44.6L366.7 44.1L381.3 42.6L396.4 40.7L398.3 40.7L410.9 38.8L415.3 38.8L425.4 36.8L432.3 36.8L439.9 34.9L449.3 34.9L454.5 33L466.3 33L469.2 31.2L483.3 31.2L484.4 29.7L500.3 29.7L500.3 28.9L75.2 28.9Z"/>
<path fill="#ff1600" d="M75.2 53.8L92.2 53.7L109.2 53.5L126.2 53.2L143.2 52.7L156.1 52.2L160.2 52.2L172.2 51.6L177.2 51.5L188.3 50.8L194.2 50.7L204.2 50L211.2 49.8L220.1 49.1L228.2 48.8L235.9 48.2L245.2 47.8L251.6 47.2L262.2 46.7L267.3 46.1L279.2 45.5L283 45.1L296.3 44.3L298.6 44L313.3 43.1L314.3 43L329.8 41.9L345.2 40.6L347.3 40.6L360.6 39.3L364.3 39.3L376 38L381.3 38L391.3 36.8L398.3 36.8L406.7 35.5L415.3 35.5L422 34.2L432.3 34.2L437.4 32.9L449.3 32.9L452.8 31.6L466.3 31.6L468.2 30.4L483.3 30.4L484 29.5L500.3 29.5L500.3 28.9L75.2 28.9Z"/>
<path fill="#ff0000" d="M75.2 41.3L109.2 41.2L143.2 40.8L177.2 40.2L191.1 39.8L194.2 39.8L207.6 39.3L211.2 39.3L224 38.8L228.2 38.8L240.3 38.3L245.2 38.3L256.6 37.8L262.2 37.8L272.9 37.2L279.2 37.2L289.1 36.6L296.3 36.6L305.3 36L313.3 36L321.6 35.4L330.3 35.4L337.7 34.8L347.3 34.8L353.9 34.1L364.3 34.1L370.1 33.5L381.3 33.5L386.3 32.8L398.3 32.8L402.5 32.2L415.3 32.2L418.7 31.5L432.3 31.5L434.8 30.9L449.3 30.9L451 30.3L466.3 30.3L467.3 29.7L483.3 29.7L483.7 29.2L500.3 29.2L500.3 28.9L75.2 28.9Z"/>
<rect x="74.2" y="27.1" width="427.1" height="1.95" fill="#ff0000"/>
<path fill="none" stroke="#000" stroke-opacity="0.64" stroke-width="0.8" stroke-linejoin="round" d="M497.2 467.4L497.3 414.2L497.3 411.9L497.3 401L497.4 398.7L497.4 387.7L497.4 385.4L497.4 374.4L497.5 372.2L497.5 361.1L497.6 359L497.6 347.8L497.7 345.7L497.7 334.5L497.7 332.5L497.7 321.2L497.8 319.3L497.8 307.9L497.9 306.1L497.9 294.7L498 292.9L498 281.4L498.1 279.7L498.1 268.1L498.3 266.5L498.3 254.8L498.4 253.3L498.4 241.5L498.5 240.1L498.5 228.2L498.6 226.9L498.6 214.9L498.7 213.7L498.7 201.6L498.8 200.5L498.8 188.4L498.9 187.3L498.9 175.1L499.1 174.1L499.1 161.8L499.2 160.9L499.2 148.5L499.3 147.7L499.3 135.2L499.4 134.5L499.4 121.9L499.6 121.3L499.6 108.6L499.7 108.1L499.7 95.3L499.8 94.9L499.8 82.1L499.9 81.7L498.7 68.8L499.2 67.9L497 55.5L498.1 53.7L497 42.2L498.2 40.5L500.3 40.5M423.4 467.4L423.5 454.1L423.9 440.8L424.2 434.5L424.5 427.5L424.9 421.8L425.3 414.2L425.8 409.2L426.4 401L426.9 396.7L427.7 387.7L428.1 384.4L429.2 374.4L429.5 372.2L430.9 361.1L432.7 347.8L434.5 336.3L434.7 334.5L436.4 324.5L436.9 321.2L438.5 312.8L439.1 307.9L440.6 301.1L441.6 294.7L442.7 289.5L444.1 281.4L444.9 278L446.7 268.1L447.2 266.4L449.5 254.9L451.9 243.6L452.2 241.5L454.4 232.2L455 228.2L456.9 220.9L457.9 214.9L459.4 209.5L460.8 201.6L461.9 198.2L463.8 188.4L464.3 186.8L466.8 175.5L466.8 175.1L469.5 164.3L469.8 161.8L472.2 153.1L472.8 148.5L474.8 141.8L475.8 135.2L477.4 130.6L478.8 121.9L479.9 119.2L481.9 108.6L482.3 107.8L483.3 103.5L485 96.7L485 95.3L487.9 85.6L487.9 82.1L490.8 74.6L490.2 68.8L493 63.1L491.7 55.5L494.5 50.9L493.6 42.2L496 38.9L500.3 38.9M340.4 467.4L340.6 454.1L341.4 440.8L342.7 427.5L344.5 414.2L346.8 401L349.4 387.7L351.8 377.9L352.5 374.4L354.6 366.8L356 361.1L357.6 355.9L359.9 347.8L360.9 345.2L364.3 334.5L367.9 324L368.7 321.2L371.6 313.7L373.5 307.9L375.4 303.4L378.6 294.7L379.3 293.1L381.3 288.3L383.3 283L383.9 281.4L387.5 272.9L389.3 268.1L391.7 262.9L395 254.8L395.9 252.9L398.3 247.6L400.2 243L400.8 241.5L404.6 233.2L406.6 228.2L409 223.3L412.6 214.9L413.4 213.5L415.3 209.5L417.9 203.7L418.7 201.6L422.5 194L424.7 188.4L427 184.2L431.1 175.1L431.4 174.4L436.1 164.7L437.1 161.8L440.7 155L443.4 148.5L445.2 145.3L449.7 135.5L449.8 135.2L454.4 125.9L455.8 121.9L459.1 116.3L462.2 108.6L463.6 106.5L466.3 101L468.2 96.8L468.6 95.3L473 87.3L474.5 82.1L477.5 77.5L481 68.8L481.9 67.7L483.3 65.5L486.8 58.2L486.3 55.5L490.9 48.1L490.3 42.2L493.9 37.2L500.3 37.2M225 467.4L225.6 454.1L227.2 440.8L228.2 436.1L229.9 427.5L233.4 414.2L237.9 401L243.4 387.7L245.2 383.9L249.4 374.4L256.2 361.1L262.2 350.5L263.7 347.8L268.5 339.4L271.4 334.5L279.2 322.2L279.8 321.2L285.3 312.7L288.3 307.9L291.1 303.9L296.3 296.5L297.4 294.7L303 286.6L306.6 281.4L313.3 272.3L316.1 268.1L321.3 261L325.7 254.8L330.3 249L333.7 244.2L335.5 241.5L339.9 235.8L345.6 228.2L347.3 226.1L352.5 219L355.5 214.9L358.9 210.7L364.3 203.7L365.7 201.6L371.6 194.1L375.8 188.4L378 185.8L381.3 181.7L384.4 177.5L386.1 175.1L390.8 169.2L396.5 161.8L398.3 159.7L403.6 152.7L406.6 148.5L410 144.4L415.3 137.9L416.5 136.2L417.1 135.2L422.9 127.9L427.3 121.9L429.3 119.6L432.3 116.2L435.8 111.4L437.6 108.6L442.2 103.1L448.2 95.3L449.3 94.3L455.2 86.6L458.1 82.1L461.5 78.3L466.3 72.9L468.1 70.2L468.7 68.8L474.5 61.9L478.5 55.5L480.7 53.5L483.3 51.7L487.2 45.3L486.9 42.2L491.8 35.5L500.3 35.5M75.2 306L92.2 305.1L109.2 302.4L126.2 297.9L134.9 294.7L143.2 291.8L160.2 284.3L165.7 281.4L177.2 275.7L190.2 268.1L194.2 265.9L202.1 260.9L211.5 255L220.7 248.9L228.2 244L231.5 241.5L238.8 236.5L245.2 232.1L250.2 228.2L256.5 223.7L262.2 219.7L268.2 214.9L273.9 210.7L279.2 206.9L285.8 201.6L291.1 197.6L296.3 193.9L299.6 191L302.9 188.4L308.1 184.3L313.3 180.6L316.6 177.7L319.8 175.1L325 171L330.3 167.1L333.5 164.3L336.5 161.8L341.8 157.5L347.3 153.5L350.3 150.8L353 148.5L358.6 144.1L364.3 139.8L367 137.3L369.5 135.2L375.3 130.5L381.3 126L385.8 121.9L391.9 117L398.3 112.2L402.2 108.6L408.6 103.4L415.3 98.4L418.5 95.3L425.2 89.8L432.3 84.6L434.8 82.1L441.8 76.2L449.3 70.7L451 68.8L458.3 62.5L466.3 56.9L467 56L467.3 55.5L474.6 48.7L483.3 43L483.6 42.5L483.6 42.2L489.7 33.9L500.3 33.9M75.2 189.7L92.2 189.3L109.2 187.9L126.2 185.7L137.3 183.7L143.2 182.7L150.7 180.9L160.2 178.9L163.8 177.9L177.2 174.3L188.7 170.7L194.2 169.1L200.7 166.8L211.2 163.3L215.2 161.8L224 158.5L228.2 157.1L235.4 154.1L245.2 150.3L246.7 149.6L257.7 144.9L262.2 143.2L268.7 140.2L279.2 135.8L290.3 130.6L296.3 128.2L301.1 125.7L311.8 120.8L313.3 120.2L322.3 115.7L330.3 112.3L333 110.7L343.5 105.7L347.3 104.1L353.9 100.5L364.3 95.8L374.8 90.3L381.3 87.7L385.3 85.2L395.8 80.2L398.3 79.3L406.1 74.9L415.3 70.9L416.8 69.9L426.9 64.5L432.3 62.7L437.3 59.4L448 54.5L449.3 54.2L457.7 48.8L466.3 46.1L468.6 44L471.3 42.2L478 38L483.3 38L487.5 32.2L500.3 32.2M75.2 104.8L92.2 104.6L109.2 104L119.4 103.3L126.2 103L134.9 102.2L143.2 101.5L150.1 100.7L160.2 99.8L165 99.1L177.2 97.6L179.6 97.2L194.1 95.2L208.1 92.9L211.2 92.5L222 90.5L228.2 89.6L235.8 88L245.2 86.4L249.5 85.4L262.2 83L263.2 82.8L276.6 80L279.2 79.5L289.8 77L296.3 75.9L303.1 74.1L313.3 72.2L316.5 71.3L330.3 68.4L342.8 65.3L347.3 64.6L355.8 62.2L364.3 60.7L369 59.2L381.3 56.7L382.4 56.3L386 55.5L395.3 53.1L398.3 52.8L408.1 49.9L415.3 48.9L421.1 46.7L432.3 44.9L434.5 43.9L442.4 42.2L447.6 40.9L449.3 40.9L459.8 37.1L466.3 37.1L472.1 33.5L483.3 33.5L485.4 30.6L500.3 30.6"/>
</g>
<g fill="#000">
<rect x="74.33" y="27.30" width="1.75" height="441.10"/>
<rect x="499.55" y="27.30" width="1.50" height="441.10"/>
<rect x="74.33" y="27.30" width="426.73" height="1.60"/>
<rect x="74.33" y="466.40" width="426.73" height="2.00"/>
<rect x="66.90" y="466.40" width="8.30" height="2.00"/>
<rect x="71.00" y="422.47" width="4.20" height="2.00"/>
<rect x="66.90" y="378.54" width="8.30" height="2.00"/>
<rect x="71.00" y="334.61" width="4.20" height="2.00"/>
<rect x="66.90" y="290.68" width="8.30" height="2.00"/>
<rect x="71.00" y="246.75" width="4.20" height="2.00"/>
<rect x="66.90" y="202.82" width="8.30" height="2.00"/>
<rect x="71.00" y="158.89" width="4.20" height="2.00"/>
<rect x="66.90" y="114.96" width="8.30" height="2.00"/>
<rect x="71.00" y="71.03" width="4.20" height="2.00"/>
<rect x="66.90" y="27.10" width="8.30" height="2.00"/>
<rect x="74.33" y="467.40" width="1.75" height="8.40"/>
<rect x="116.84" y="467.40" width="1.75" height="4.30"/>
<rect x="159.35" y="467.40" width="1.75" height="8.40"/>
<rect x="201.86" y="467.40" width="1.75" height="4.30"/>
<rect x="244.37" y="467.40" width="1.75" height="8.40"/>
<rect x="286.88" y="467.40" width="1.75" height="4.30"/>
<rect x="329.39" y="467.40" width="1.75" height="8.40"/>
<rect x="371.90" y="467.40" width="1.75" height="4.30"/>
<rect x="414.41" y="467.40" width="1.75" height="8.40"/>
<rect x="456.92" y="467.40" width="1.75" height="4.30"/>
<rect x="499.43" y="467.40" width="1.75" height="8.40"/>
</g>
<g>
<text transform="matrix(0.10966 0 0 0.11852 47.81 474.80)">0</text>
<text transform="matrix(0.10966 0 0 0.11852 47.81 386.94)">2</text>
<text transform="matrix(0.10966 0 0 0.11852 47.37 299.08)">4</text>
<text transform="matrix(0.10966 0 0 0.11852 47.59 211.22)">6</text>
<text transform="matrix(0.10966 0 0 0.11852 47.70 123.36)">8</text>
<text transform="matrix(0.10966 0 0 0.11852 36.85 35.50)">10</text>
<text transform="matrix(0.10966 0 0 0.11852 69.72 503.66)">0</text>
<text transform="matrix(0.10966 0 0 0.11852 154.74 503.66)">2</text>
<text transform="matrix(0.10966 0 0 0.11852 239.76 503.66)">4</text>
<text transform="matrix(0.10966 0 0 0.11852 324.78 503.66)">6</text>
<text transform="matrix(0.10966 0 0 0.11852 409.80 503.66)">8</text>
<text transform="matrix(0.10966 0 0 0.11852 489.33 503.66)">10</text>
</g>
<text transform="matrix(0.13534 0 0 0.15038 208.26 551.50)">X-Coordinate</text>
<text transform="matrix(0.17477 0 0 0.17197 212.03 608.30)">(a) a/b=1</text>
<text transform="matrix(0.00000 -0.14548 0.13893 0.00000 22.00 333.74)">Y-Coordinate</text>
<g shape-rendering="crispEdges">
<rect x="568.6" y="27.5" width="34.3" height="9.4" fill="#808080"/>
<rect x="568.6" y="449.91" width="34.3" height="9.39" fill="#0000ff"/>
<rect x="568.6" y="441.12" width="34.3" height="9.39" fill="#0016ff"/>
<rect x="568.6" y="432.34" width="34.3" height="9.39" fill="#002bff"/>
<rect x="568.6" y="423.55" width="34.3" height="9.39" fill="#0041ff"/>
<rect x="568.6" y="414.76" width="34.3" height="9.39" fill="#0057ff"/>
<rect x="568.6" y="405.97" width="34.3" height="9.39" fill="#006dff"/>
<rect x="568.6" y="397.19" width="34.3" height="9.39" fill="#0082ff"/>
<rect x="568.6" y="388.40" width="34.3" height="9.39" fill="#0098ff"/>
<rect x="568.6" y="379.61" width="34.3" height="9.39" fill="#00aeff"/>
<rect x="568.6" y="370.82" width="34.3" height="9.39" fill="#00c3ff"/>
<rect x="568.6" y="362.04" width="34.3" height="9.39" fill="#00d9ff"/>
<rect x="568.6" y="353.25" width="34.3" height="9.39" fill="#00efff"/>
<rect x="568.6" y="344.46" width="34.3" height="9.39" fill="#00fffa"/>
<rect x="568.6" y="335.67" width="34.3" height="9.39" fill="#00ffe4"/>
<rect x="568.6" y="326.89" width="34.3" height="9.39" fill="#00ffce"/>
<rect x="568.6" y="318.10" width="34.3" height="9.39" fill="#00ffb8"/>
<rect x="568.6" y="309.31" width="34.3" height="9.39" fill="#00ffa3"/>
<rect x="568.6" y="300.52" width="34.3" height="9.39" fill="#00ff8d"/>
<rect x="568.6" y="291.74" width="34.3" height="9.39" fill="#00ff77"/>
<rect x="568.6" y="282.95" width="34.3" height="9.39" fill="#00ff62"/>
<rect x="568.6" y="274.16" width="34.3" height="9.39" fill="#00ff4c"/>
<rect x="568.6" y="265.38" width="34.3" height="9.39" fill="#00ff36"/>
<rect x="568.6" y="256.59" width="34.3" height="9.39" fill="#00ff21"/>
<rect x="568.6" y="247.80" width="34.3" height="9.39" fill="#00ff0b"/>
<rect x="568.6" y="239.01" width="34.3" height="9.39" fill="#0bff00"/>
<rect x="568.6" y="230.22" width="34.3" height="9.39" fill="#21ff00"/>
<rect x="568.6" y="221.44" width="34.3" height="9.39" fill="#36ff00"/>
<rect x="568.6" y="212.65" width="34.3" height="9.39" fill="#4cff00"/>
<rect x="568.6" y="203.86" width="34.3" height="9.39" fill="#62ff00"/>
<rect x="568.6" y="195.07" width="34.3" height="9.39" fill="#77ff00"/>
<rect x="568.6" y="186.29" width="34.3" height="9.39" fill="#8dff00"/>
<rect x="568.6" y="177.50" width="34.3" height="9.39" fill="#a3ff00"/>
<rect x="568.6" y="168.71" width="34.3" height="9.39" fill="#b8ff00"/>
<rect x="568.6" y="159.92" width="34.3" height="9.39" fill="#ceff00"/>
<rect x="568.6" y="151.14" width="34.3" height="9.39" fill="#e4ff00"/>
<rect x="568.6" y="142.35" width="34.3" height="9.39" fill="#faff00"/>
<rect x="568.6" y="133.56" width="34.3" height="9.39" fill="#ffef00"/>
<rect x="568.6" y="124.78" width="34.3" height="9.39" fill="#ffd900"/>
<rect x="568.6" y="115.99" width="34.3" height="9.39" fill="#ffc300"/>
<rect x="568.6" y="107.20" width="34.3" height="9.39" fill="#ffae00"/>
<rect x="568.6" y="98.41" width="34.3" height="9.39" fill="#ff9800"/>
<rect x="568.6" y="89.62" width="34.3" height="9.39" fill="#ff8200"/>
<rect x="568.6" y="80.84" width="34.3" height="9.39" fill="#ff6d00"/>
<rect x="568.6" y="72.05" width="34.3" height="9.39" fill="#ff5700"/>
<rect x="568.6" y="63.26" width="34.3" height="9.39" fill="#ff4100"/>
<rect x="568.6" y="54.47" width="34.3" height="9.39" fill="#ff2b00"/>
<rect x="568.6" y="45.69" width="34.3" height="9.39" fill="#ff1600"/>
<rect x="568.6" y="36.90" width="34.3" height="9.39" fill="#ff0000"/>
<rect x="568.6" y="458.7" width="34.3" height="8.8" fill="#000"/>
</g>
<rect x="568.6" y="27.5" width="34.3" height="440" fill="none" stroke="#333" stroke-width="1.1"/>
<path stroke="#111" stroke-width="1.1" fill="none" d="M602.9 36.90H610.7M602.9 89.62H610.7M602.9 142.35H610.7M602.9 195.08H610.7M602.9 247.80H610.7M602.9 300.52H610.7M602.9 353.25H610.7M602.9 405.97H610.7M602.9 458.70H610.7"/>
<text transform="matrix(0.10615 0 0 0.11471 618.98 44.90)">453.0</text>
<text transform="matrix(0.10615 0 0 0.11471 618.98 97.62)">431.1</text>
<text transform="matrix(0.10615 0 0 0.11471 618.98 150.35)">409.1</text>
<text transform="matrix(0.10615 0 0 0.11471 618.98 203.08)">387.2</text>
<text transform="matrix(0.10615 0 0 0.11471 618.98 255.80)">365.3</text>
<text transform="matrix(0.10615 0 0 0.11471 618.98 308.52)">343.3</text>
<text transform="matrix(0.10615 0 0 0.11471 618.98 361.25)">321.4</text>
<text transform="matrix(0.10615 0 0 0.11471 618.98 413.97)">299.4</text>
<text transform="matrix(0.10615 0 0 0.11471 618.98 466.70)">277.5</text>
<text transform="matrix(0.10643 0 0 0.10916 496.27 14.80)">Nodal Temperatures (K)</text>
<rect x="555.3" y="0" width="15.4" height="1.9" fill="#fff"/>
<clipPath id="cpb"><rect x="917.1" y="54.7" width="560.3" height="404.7"/></clipPath>
<g clip-path="url(#cpb)" shape-rendering="geometricPrecision">
<rect x="916.1" y="53.7" width="562.3" height="406.7" fill="#0000ff"/>
<path fill="#0016ff" d="M1477.4 74.8L1476.8 67.5L1476.9 67.3L1477.4 67.3L1477.4 55.3L917.1 55.3L917.1 459.4L1477.4 459.4Z"/>
<path fill="#002bff" d="M1477.4 81.8L1477.2 79.8L1477.2 79.7L1476.2 67.5L1476.5 67L1477.4 67L1477.4 55.3L917.1 55.3L917.1 459.4L1477.4 459.4Z"/>
<path fill="#0041ff" d="M1477.4 88.3L1476.4 79.8L1476.6 79.3L1475.6 67.5L1476 66.8L1477.4 66.8L1477.4 55.3L917.1 55.3L917.1 459.4L1477.4 459.4Z"/>
<path fill="#0057ff" d="M1477.4 100L1477 92L1477 91.8L1475.6 79.8L1476 79L1475 67.5L1475.5 66.5L1477.4 66.5L1477.4 55.3L917.1 55.3L917.1 459.4L1477.4 459.4Z"/>
<path fill="#006dff" d="M1472.4 459.4L1472.4 410.4L1472.7 361.4L1472.8 358.9L1472.8 349.2L1472.9 346.7L1472.9 336.9L1473 334.6L1473 324.7L1473.2 322.4L1473.2 312.5L1473.3 310.2L1473.3 300.2L1473.4 298L1473.4 288L1473.6 285.9L1473.6 275.7L1473.7 273.7L1473.7 263.5L1473.9 261.6L1473.9 251.2L1474.1 249.4L1474.1 239L1474.3 237.3L1474.3 226.7L1474.5 225.1L1474.5 214.5L1474.7 213L1474.7 202.2L1474.9 200.9L1474.9 190L1475.1 188.7L1475.1 177.8L1475.3 176.6L1475.3 165.5L1475.5 164.5L1475.5 153.3L1475.7 152.3L1475.7 141L1475.9 140.2L1475.9 128.8L1476.1 128.1L1476.1 116.5L1476.3 115.9L1476.3 104.3L1476.5 103.8L1475.9 92L1476.2 91.4L1474.8 79.8L1475.4 78.7L1474.4 67.5L1475.1 66.3L1477.4 66.3L1477.4 55.3L917.1 55.3L917.1 459.4Z"/>
<path fill="#0082ff" d="M1465.9 459.4L1466.1 410.4L1466.4 392.1L1466.4 385.9L1466.5 380L1466.5 373.7L1466.7 367.8L1466.7 361.4L1466.9 355.7L1466.9 349.2L1467.2 343.6L1467.2 336.9L1467.4 331.5L1467.4 324.7L1467.7 319.4L1467.7 312.5L1468 307.3L1468 300.2L1468.3 295.3L1468.3 288L1468.7 283.2L1468.7 275.7L1469.1 271.2L1469.1 263.5L1469.4 259.1L1469.4 251.2L1469.8 247.1L1469.8 239L1470.3 235.1L1470.3 226.7L1470.7 223.1L1470.7 214.5L1471.1 211.1L1471.1 202.2L1471.6 199.1L1471.6 190L1472.1 187.1L1472.1 177.8L1472.5 175.1L1472.5 165.5L1473 163.1L1473 153.3L1473.5 151.1L1473.5 141L1474 139.2L1474 128.8L1474.5 127.2L1474.5 116.5L1475 115.2L1475 104.3L1475.4 103.2L1474.8 92L1475.4 90.9L1474 79.8L1474.7 78.3L1473.9 67.5L1474.6 66L1477.4 66L1477.4 55.3L917.1 55.3L917.1 459.4Z"/>
<path fill="#0098ff" d="M1459.4 459.4L1459.5 434.9L1459.8 410.4L1460.2 385.9L1460.4 376.6L1460.4 373.7L1460.7 364.6L1460.7 361.4L1461.1 352.5L1461.1 349.2L1461.4 340.5L1461.4 336.9L1461.8 328.4L1461.8 324.7L1462.3 316.4L1462.3 312.5L1462.8 304.5L1462.8 300.2L1463.3 292.5L1463.3 288L1463.8 280.5L1463.8 275.7L1464.4 268.6L1464.4 263.5L1465 256.7L1465 251.2L1465.6 244.8L1465.6 239L1466.2 232.9L1466.2 226.7L1466.9 221L1466.9 214.5L1467.6 209.1L1467.6 202.2L1468.3 197.3L1468.3 190L1469.1 185.4L1469.1 177.8L1469.8 173.6L1469.8 165.5L1470.6 161.8L1470.6 153.3L1471.3 149.9L1471.3 141L1472.1 138.1L1472.1 128.8L1472.8 126.3L1472.8 116.5L1473.6 114.4L1473.6 104.3L1474.3 102.6L1473.7 92L1474.5 90.5L1473.2 79.8L1474.1 78L1473.3 67.5L1474.1 65.8L1477.4 65.8L1477.4 55.3L917.1 55.3L917.1 459.4Z"/>
<path fill="#00aeff" d="M1452.9 459.4L1453 434.9L1453.4 410.4L1453.9 385.9L1455.2 349.2L1456.2 324.7L1457.5 301.6L1457.5 300.2L1458.2 289.7L1458.2 288L1458.9 277.9L1458.9 275.7L1459.7 266L1459.7 263.5L1460.5 254.2L1460.5 251.2L1461.4 242.5L1461.4 239L1462.2 230.7L1462.2 226.7L1463.2 219L1463.2 214.5L1464.1 207.2L1464.1 202.2L1465.1 195.5L1465.1 190L1466.1 183.8L1466.1 177.8L1467.1 172.1L1467.1 165.5L1468.1 160.4L1468.1 153.3L1469.1 148.7L1469.1 141L1470.2 137.1L1470.2 128.8L1471.2 125.4L1471.2 116.5L1472.2 113.7L1472.2 104.3L1473.2 102L1472.7 92L1473.7 90L1472.4 79.8L1473.5 77.7L1472.7 67.5L1473.7 65.5L1477.4 65.5L1477.4 55.3L917.1 55.3L917.1 459.4Z"/>
<path fill="#00c3ff" d="M1446.4 459.4L1446.5 434.9L1446.9 410.4L1447.2 398.2L1447.4 394L1447.6 385.9L1447.8 382L1448.1 373.7L1448.3 370L1448.6 361.4L1448.8 358.1L1449.2 349.2L1449.4 346.1L1449.8 336.9L1450.1 334.3L1450.5 324.7L1450.8 322.4L1451.3 312.5L1451.5 310.6L1452.1 300.2L1452.3 298.8L1453 288L1456 251.8L1457.1 240.1L1457.1 239L1458.2 228.5L1458.2 226.7L1459.4 216.9L1459.4 214.5L1460.6 205.3L1460.6 202.2L1461.8 193.7L1461.8 190L1463.1 182.2L1463.1 177.8L1464.3 170.6L1464.3 165.5L1465.6 159.1L1465.6 153.3L1466.9 147.5L1466.9 141L1468.3 136L1468.3 128.8L1469.6 124.5L1469.6 116.5L1470.9 113L1470.9 104.3L1472.1 101.4L1471.6 92L1472.8 89.5L1471.6 79.8L1472.9 77.3L1472.1 67.5L1473.2 65.2L1477.4 65.2L1477.4 55.3L917.1 55.3L917.1 459.4Z"/>
<path fill="#00d9ff" d="M1439.8 459.4L1440 434.9L1440.5 410.4L1440.8 398.2L1441.2 390.6L1441.3 385.9L1441.7 378.7L1441.8 373.7L1442.3 366.7L1442.5 361.4L1442.9 354.9L1443.2 349.2L1443.7 343L1443.9 336.9L1444.5 331.2L1444.8 324.7L1445.3 319.4L1445.7 312.5L1446.3 307.7L1446.7 300.2L1447.2 296L1447.8 288L1448.3 284.3L1448.9 275.7L1449.4 272.7L1450.1 263.5L1450.5 261L1451.4 251.2L1451.7 249.4L1452.7 239L1453 237.9L1455.6 214.8L1457.1 203.4L1457.1 202.2L1458.5 191.9L1458.5 190L1460 180.5L1460 177.8L1461.6 169.1L1461.6 165.5L1463.2 157.7L1463.2 153.3L1464.7 146.4L1464.7 141L1466.3 135L1466.3 128.8L1467.9 123.6L1467.9 116.5L1469.5 112.2L1469.5 104.3L1471 100.8L1470.5 92L1472 89.1L1470.8 79.8L1472.3 77L1471.5 67.5L1472.7 65L1477.4 65L1477.4 55.3L917.1 55.3L917.1 459.4Z"/>
<path fill="#00efff" d="M1433.2 459.4L1433.4 434.9L1434 410.4L1435 385.9L1436.3 361.4L1437.1 351.6L1437.1 349.2L1437.9 339.9L1438 336.9L1438.9 328.1L1439 324.7L1439.9 316.5L1440.1 312.5L1441 304.8L1441.3 300.2L1442.2 293.2L1442.5 288L1443.4 281.6L1443.8 275.7L1444.7 270.1L1445.2 263.5L1446.1 258.6L1446.7 251.2L1447.5 247.1L1448.3 239L1448.9 235.7L1449.9 226.7L1450.4 224.3L1451.6 214.5L1452 212.9L1453.4 202.2L1453.6 201.5L1455.3 190.2L1457 178.9L1457 177.8L1458.9 167.6L1458.9 165.5L1460.7 156.4L1460.7 153.3L1462.6 145.2L1462.6 141L1464.4 133.9L1464.4 128.8L1466.3 122.7L1466.3 116.5L1468.1 111.5L1468.1 104.3L1469.9 100.2L1469.4 92L1471.1 88.6L1470 79.8L1471.6 76.6L1470.9 67.5L1472.3 64.7L1477.4 64.7L1477.4 55.3L917.1 55.3L917.1 459.4Z"/>
<path fill="#00fffa" d="M1426.5 459.4L1426.7 434.9L1427.4 410.4L1428.5 385.9L1430.1 361.4L1432.1 336.9L1434.5 312.5L1435.7 301.9L1435.8 300.2L1437.1 290.4L1437.3 288L1438.5 279L1438.8 275.7L1440 267.5L1440.3 263.5L1441.6 256.1L1442 251.2L1443.2 244.8L1443.8 239L1444.9 233.5L1445.6 226.7L1446.6 222.2L1447.5 214.5L1448.4 210.9L1449.6 202.2L1450.3 199.7L1451.7 190L1452.2 188.4L1453.9 177.8L1454.1 177.3L1456.1 166.1L1456.1 165.5L1458.2 155L1458.2 153.3L1460.4 144L1460.4 141L1462.5 132.9L1462.5 128.8L1464.6 121.8L1464.6 116.5L1466.7 110.7L1466.7 104.3L1468.8 99.6L1468.3 92L1470.3 88.1L1469.2 79.8L1471 76.3L1470.3 67.5L1471.8 64.5L1477.4 64.5L1477.4 55.3L917.1 55.3L917.1 459.4Z"/>
<path fill="#00ffe4" d="M1419.7 459.4L1419.8 447.2L1419.9 434.9L1420.3 422.7L1420.7 410.4L1421.3 398.2L1422 385.9L1422.4 380.4L1422.8 373.7L1423.3 368.6L1423.7 361.4L1424.2 356.9L1424.8 349.2L1425.3 345.2L1426 336.9L1426.4 333.6L1427.3 324.7L1427.7 322L1428.7 312.5L1429 310.5L1430.3 300.2L1433.7 275.7L1435.3 265L1435.5 263.5L1437.1 253.7L1437.3 251.2L1439 242.5L1439.3 239L1440.9 231.3L1441.3 226.7L1442.8 220.1L1443.5 214.5L1444.9 209L1445.7 202.2L1446.9 197.8L1448.1 190L1449 186.8L1450.5 177.8L1451.2 175.7L1453.1 165.5L1453.4 164.7L1455.8 153.7L1455.8 153.3L1458.2 142.8L1458.2 141L1460.6 131.8L1460.6 128.8L1463 120.9L1463 116.5L1465.4 110L1465.4 104.3L1467.7 99L1467.3 92L1469.4 87.7L1468.4 79.8L1470.4 76L1469.7 67.5L1471.3 64.2L1477.4 64.2L1477.4 55.3L917.1 55.3L917.1 459.4Z"/>
<path fill="#00ffce" d="M1412.9 459.4L1413 447.2L1413.2 434.9L1413.5 422.7L1414 410.4L1414.7 398.2L1415.4 385.9L1416.3 373.7L1417.1 365.2L1417.4 361.4L1418.2 353.6L1418.5 349.2L1419.4 342L1419.8 336.9L1420.7 330.5L1421.3 324.7L1422.1 319L1422.8 312.5L1423.6 307.6L1424.5 300.2L1425.2 296.2L1426.3 288L1427 284.9L1428.3 275.7L1428.8 273.6L1430.4 263.5L1430.6 262.4L1434.7 240.1L1434.8 239L1436.8 229.1L1437.1 226.7L1439 218L1439.4 214.5L1441.3 207L1441.9 202.2L1443.6 196L1444.5 190L1445.9 185.1L1447.1 177.8L1448.3 174.1L1450 165.5L1450.8 163.2L1453 153.3L1453.3 152.4L1455 146L1456 141.6L1456 141L1458.7 130.8L1458.7 128.8L1461.4 120L1461.4 116.5L1464 109.2L1464 104.3L1466.5 98.4L1466.2 92L1468.6 87.2L1467.6 79.8L1469.8 75.6L1469.1 67.5L1470.9 64L1477.4 64L1477.4 55.3L917.1 55.3L917.1 459.4Z"/>
<path fill="#00ffb8" d="M1406 459.4L1406 447.2L1406.3 434.9L1406.7 422.7L1407.2 410.4L1407.9 398.2L1408.8 385.9L1411 361.4L1412.2 349.2L1413.7 336.9L1415 327.3L1415.2 324.7L1416.5 315.9L1416.9 312.5L1418.2 304.6L1418.7 300.2L1420 293.3L1420.7 288L1421.9 282.1L1422.8 275.7L1423.9 271L1425.1 263.5L1426 259.9L1427.5 251.2L1428.1 248.8L1430.1 239L1430.4 237.8L1435.2 215.9L1435.4 214.5L1437.7 205L1438.1 202.2L1440.2 194.2L1440.9 190L1442.8 183.4L1443.8 177.8L1445.5 172.6L1446.8 165.5L1448.2 161.8L1450 153.3L1450.9 151L1453.5 141L1453.8 140.4L1455 136.5L1456.8 129.7L1456.8 128.8L1459.7 119.1L1459.7 116.5L1462.6 108.5L1462.6 104.3L1465.4 97.7L1465.1 92L1467.7 86.7L1466.9 79.8L1469.2 75.3L1468.5 67.5L1470.4 63.7L1477.4 63.7L1477.4 55.3L917.1 55.3L917.1 459.4Z"/>
<path fill="#00ffa3" d="M1398.9 459.4L1398.9 447.2L1399.2 434.9L1399.6 422.7L1400.2 410.4L1401 398.2L1401.9 385.9L1403 373.7L1404.3 361.4L1405.7 349.2L1407.3 336.9L1411 312.5L1413 300.2L1414.8 290.5L1415.1 288L1416.8 279.4L1417.4 275.7L1419 268.3L1419.8 263.5L1421.3 257.3L1422.4 251.2L1423.7 246.4L1425.1 239L1426.1 235.5L1428 226.7L1428.7 224.6L1431.2 214.5L1432.6 209.4L1434.1 203.1L1434.2 202.2L1436.9 192.4L1437.2 190L1439.7 181.7L1440.4 177.8L1442.6 171L1443.6 165.5L1445.5 160.3L1447.1 153.3L1448.5 149.7L1450.7 141L1451.6 139.2L1458.1 118.2L1458.1 116.5L1461.3 107.7L1461.3 104.3L1464.3 97.1L1464 92L1466.9 86.3L1466.1 79.8L1468.6 75L1467.9 67.5L1469.9 63.5L1477.4 63.5L1477.4 55.3L917.1 55.3L917.1 459.4Z"/>
<path fill="#00ff8d" d="M1391.8 459.4L1391.9 447.2L1392.1 434.9L1392.6 422.7L1393.2 410.4L1394 398.2L1395 385.9L1396.2 373.7L1397 366.5L1397.5 361.4L1398.4 355L1399 349.2L1399.9 343.6L1400.7 336.9L1401.5 332.2L1402.6 324.7L1403.3 321L1404.7 312.5L1405.3 309.8L1407 300.2L1411.9 275.7L1414.1 265.6L1414.5 263.5L1416.6 254.8L1417.2 251.2L1419.2 243.9L1420.1 239L1421.8 233.1L1423.2 226.7L1424.6 222.4L1426.5 214.5L1427.5 211.7L1430 202.2L1430.5 201.1L1432.6 194.2L1433.6 190L1436.6 180L1437 177.8L1439.7 169.4L1440.5 165.5L1442.9 158.9L1444.1 153.3L1446.1 148.4L1448 141L1449.4 138L1452.2 128.8L1452.9 127.6L1455 122.1L1456.5 117.3L1456.5 116.5L1459.9 107L1459.9 104.3L1463.2 96.5L1463 92L1466 85.8L1465.3 79.8L1467.9 74.6L1467.4 67.5L1469.5 63.2L1477.4 63.2L1477.4 55.3L917.1 55.3L917.1 459.4Z"/>
<path fill="#00ff77" d="M1384.5 459.4L1384.6 447.2L1384.9 434.9L1385.4 422.7L1386.1 410.4L1387 398.2L1388.1 385.9L1389.3 373.7L1390.7 361.4L1392.4 349.2L1393.7 340.2L1394.1 336.9L1395.5 328.9L1396.1 324.7L1397.5 317.8L1398.3 312.5L1399.5 306.7L1400.7 300.2L1401.8 295.6L1403.3 288L1404.1 284.7L1406.1 275.7L1406.6 273.8L1411.9 252.2L1412.1 251.2L1414.7 241.5L1415.2 239L1417.6 230.8L1418.4 226.7L1420.5 220.2L1421.9 214.5L1423.6 209.6L1425.6 202.2L1426.8 199.1L1429.5 190L1430.1 188.6L1432.6 181.4L1433.6 177.8L1436.9 167.8L1437.3 165.5L1440.3 157.5L1441.2 153.3L1443.7 147.1L1445.2 141L1447.2 136.8L1449.7 128.8L1450.9 126.5L1454.8 116.4L1458.5 106.2L1458.5 104.3L1462.1 95.9L1461.9 92L1465.2 85.3L1464.5 79.8L1467.3 74.3L1466.8 67.5L1469 63L1477.4 63L1477.4 55.3L917.1 55.3L917.1 459.4Z"/>
<path fill="#00ff62" d="M1376.9 459.4L1377.1 447.2L1377.4 434.9L1377.9 422.7L1378.6 410.4L1379.6 398.2L1380.7 385.9L1382.1 373.7L1383.7 361.4L1385.5 349.2L1389.7 324.7L1391.9 312.5L1393.8 303.5L1394.4 300.2L1396.2 292.6L1397.1 288L1398.7 281.7L1400 275.7L1401.4 270.9L1403.2 263.5L1404.2 260.2L1406.6 251.2L1413.3 228.4L1413.6 226.7L1416.4 217.9L1417.3 214.5L1419.7 207.5L1421.1 202.2L1423.1 197.1L1425.2 190L1426.6 186.7L1429.7 177.8L1430.3 176.5L1432.6 170.6L1434 166.3L1434.1 165.5L1437.6 156L1438.2 153.3L1441.3 145.8L1442.5 141L1445 135.6L1447.1 128.8L1448.9 125.4L1452.3 116.5L1453 115.4L1455 111.5L1457.2 105.5L1457.2 104.3L1461 95.3L1460.8 92L1464.3 84.9L1463.7 79.8L1466.7 73.9L1466.2 67.5L1468.5 62.7L1477.4 62.7L1477.4 55.3L917.1 55.3L917.1 459.4Z"/>
<path fill="#00ff4c" d="M1369.4 459.4L1369.5 447.2L1369.9 434.9L1370.4 422.7L1371.2 410.4L1372.1 398.2L1373.3 385.9L1374.8 373.7L1376.4 361.4L1378.3 349.2L1380.4 336.9L1382.8 324.7L1385.3 312.5L1391 288L1393.3 278.8L1394 275.7L1396.2 268.1L1397.3 263.5L1399.1 257.4L1400.8 251.2L1402.2 246.9L1404.6 239L1405.5 236.4L1408.9 226.1L1410.2 222.6L1412.4 215.7L1412.7 214.5L1415.8 205.3L1416.7 202.2L1419.4 195L1420.9 190L1423.1 184.8L1425.5 177.8L1426.9 174.7L1430.5 165.5L1432.6 161.1L1435 154.6L1435.3 153.3L1438.9 144.5L1439.7 141L1442.8 134.4L1444.5 128.8L1446.9 124.3L1449.9 116.5L1451.1 114.4L1455 106.9L1455.8 104.7L1455.8 104.3L1459.9 94.7L1459.7 92L1463.5 84.4L1462.9 79.8L1466.1 73.6L1465.6 67.5L1468.1 62.4L1477.4 62.4L1477.4 55.3L917.1 55.3L917.1 459.4Z"/>
<path fill="#00ff36" d="M1361.6 459.4L1361.8 447.2L1362.1 434.9L1362.7 422.7L1363.6 410.4L1364.7 398.2L1366 385.9L1367.4 373.7L1369.1 361.4L1371.1 349.2L1373.3 336.9L1375.7 324.7L1377 318.8L1378.3 312.5L1379.5 307.9L1381.3 300.2L1384.5 288L1390.9 265.2L1391.4 263.5L1394.1 254.7L1395 251.2L1397.3 244.2L1398.9 239L1400.8 233.8L1403.1 226.7L1404.4 223.6L1407.6 214.5L1410.2 208.3L1411.9 203.2L1412.2 202.2L1415.7 193L1416.6 190L1419.6 182.9L1421.4 177.8L1423.6 172.9L1426.5 165.5L1427.8 162.9L1432.3 153.1L1436.4 143.1L1437 141L1440.6 133.2L1442 128.8L1444.8 123.2L1447.5 116.5L1449.3 113.4L1454.3 103.9L1455 103L1458.8 94.1L1458.7 92L1462.6 84L1462.1 79.8L1465.5 73.3L1465 67.5L1467.6 62.2L1477.4 62.2L1477.4 55.3L917.1 55.3L917.1 459.4Z"/>
<path fill="#00ff21" d="M1353.6 459.4L1353.7 447.2L1354 434.9L1354.7 422.7L1355.5 410.4L1356.7 398.2L1358 385.9L1359.7 373.7L1361.6 361.4L1363.7 349.2L1368.6 324.7L1371.3 312.5L1373.3 304.6L1374.3 300.2L1376.1 293.9L1377.6 288L1379.1 283.2L1381.2 275.7L1385.1 263.5L1387.8 256L1389.2 251.2L1392.4 241.5L1393.2 239L1396 231.3L1397.5 226.7L1399.8 221.1L1402.2 214.5L1403.7 211L1407.2 202.2L1410.2 195.9L1412 191L1412.3 190L1416.1 181L1417.2 177.8L1420.3 171L1422.5 165.5L1424.7 161.2L1428.3 153.3L1432.6 145.4L1434 141.8L1434.2 141L1438.4 132L1439.4 128.8L1442.8 122.1L1445 116.5L1447.5 112.4L1451.7 104.3L1455 99.8L1457.7 93.5L1457.6 92L1461.8 83.5L1461.3 79.8L1464.8 72.9L1464.4 67.5L1467.1 61.9L1477.4 61.9L1477.4 55.3L917.1 55.3L917.1 459.4Z"/>
<path fill="#00ff0b" d="M1345.5 459.4L1345.6 447.2L1346 434.9L1346.6 422.7L1347.5 410.4L1348.6 398.2L1350 385.9L1351.7 373.7L1353.6 361.4L1355.8 349.2L1358.3 336.9L1361.1 324.7L1364.2 312.5L1365.3 308.5L1367.4 300.2L1370.8 288L1374.4 275.7L1376.5 269.6L1378.4 263.5L1382.7 251.2L1387.8 238.4L1391.3 228.7L1391.9 226.7L1395.2 218.6L1396.7 214.5L1399.3 208.6L1401.9 202.2L1403.6 198.6L1407.5 190L1410.2 184.9L1412.6 179.1L1413 177.8L1417 169.2L1418.4 165.5L1421.5 159.5L1424.3 153.3L1431.4 140.4L1432.6 138.7L1436.2 130.8L1436.8 128.8L1440.8 121L1442.6 116.5L1445.6 111.4L1449.3 104.3L1450.9 102L1455 96.6L1456.6 92.9L1456.5 92L1460.9 83L1460.5 79.8L1464.2 72.6L1463.8 67.5L1466.7 61.7L1477.4 61.7L1477.4 55.3L917.1 55.3L917.1 459.4Z"/>
<path fill="#0bff00" d="M1336.9 459.4L1337.1 447.2L1337.5 434.9L1338.2 422.7L1339.1 410.4L1340.4 398.2L1342 385.9L1343.7 373.7L1345.7 361.4L1347.9 349.2L1350.5 336.9L1353.3 324.7L1356.4 312.5L1359.9 300.2L1363.7 288L1365.3 283.3L1367.6 275.7L1371.7 263.5L1376.1 251.2L1380.9 239L1386.1 226.7L1387.8 223.3L1391.2 214.5L1394.9 206.1L1396.5 202.2L1399.3 196.3L1402.2 190L1408.5 177.8L1410.2 175L1413.7 167.4L1414.4 165.5L1418.4 157.8L1420.4 153.3L1423.3 148.2L1427.2 141L1432.6 132.7L1434 129.6L1434.3 128.8L1438.8 120L1440.2 116.5L1443.8 110.4L1447 104.3L1449.2 101.1L1455 93.4L1455.4 92.3L1455.4 92L1460.1 82.6L1459.7 79.8L1463.6 72.3L1463.2 67.5L1466.2 61.4L1477.4 61.4L1477.4 55.3L917.1 55.3L917.1 459.4Z"/>
<path fill="#21ff00" d="M1328.1 459.4L1328.3 447.2L1328.7 434.9L1329.4 422.7L1330.4 410.4L1331.7 398.2L1333.2 385.9L1335.1 373.7L1337.3 361.4L1339.8 349.2L1345.5 324.7L1348.7 312.5L1352.2 300.2L1356 288L1360.2 275.7L1365.3 262.5L1369.4 251.2L1374.3 239L1379.5 226.7L1385.4 214.5L1387.8 209.9L1391.1 202.2L1395.1 194L1396.9 190L1403.2 177.8L1410.4 165.5L1415.2 156L1416.5 153.3L1420.3 146.6L1423.3 141L1431.2 128.8L1432.6 127.1L1436.8 118.9L1437.8 116.5L1442 109.4L1444.6 104.3L1447.5 100.2L1454 91.5L1455 90.7L1459.2 82.1L1458.9 79.8L1463 71.9L1462.6 67.5L1465.7 61.2L1477.4 61.2L1477.4 55.3L917.1 55.3L917.1 459.4Z"/>
<path fill="#36ff00" d="M1319.3 459.4L1319.4 447.2L1319.9 434.9L1320.6 422.7L1321.6 410.4L1322.9 398.2L1324.5 385.9L1326.3 373.7L1328.5 361.4L1331 349.2L1333.9 336.9L1337 324.7L1340.6 312.5L1342.9 305.3L1344.4 300.2L1348.3 288L1352.5 275.7L1357.2 263.5L1362.3 251.2L1365.3 244.8L1367.6 239L1372.9 226.7L1378.8 214.5L1385.2 202.2L1387.8 198L1391.5 190L1398 177.8L1405.1 165.5L1410.2 158L1412.6 153.3L1417.3 144.9L1419.4 141L1427.3 128.8L1428.8 126.7L1432.6 122.1L1434.8 117.8L1435.3 116.5L1440.2 108.4L1442.3 104.3L1445.8 99.2L1451.2 92L1452.4 90.6L1455 88.5L1458.4 81.6L1458.1 79.8L1462.4 71.6L1462 67.5L1465.3 60.9L1477.4 60.9L1477.4 55.3L917.1 55.3L917.1 459.4Z"/>
<path fill="#4cff00" d="M1309.6 459.4L1309.8 447.2L1310.3 434.9L1311 422.7L1312.1 410.4L1313.5 398.2L1315.2 385.9L1317.3 373.7L1319.7 361.4L1322.3 349.2L1325.1 336.9L1328.3 324.7L1331.9 312.5L1335.8 300.2L1340.2 288L1342.9 281.1L1344.8 275.7L1349.5 263.5L1354.6 251.2L1360.3 239L1365.3 229.1L1366.4 226.7L1372.2 214.5L1378.6 202.2L1385.8 190L1387.8 187.1L1392.7 177.8L1399.8 165.5L1402.5 161.3L1408.6 152.4L1410.2 150.5L1415.5 141L1423.4 128.8L1426 125.2L1432.6 117.2L1438.3 107.4L1439.9 104.3L1444.1 98.3L1448.8 92L1450.7 89.7L1455 86.3L1457.5 81.2L1457.4 79.8L1461.7 71.2L1461.4 67.5L1464.8 60.7L1477.4 60.7L1477.4 55.3L917.1 55.3L917.1 459.4Z"/>
<path fill="#62ff00" d="M1300 459.4L1300.2 447.2L1300.6 434.9L1301.4 422.7L1302.5 410.4L1303.9 398.2L1305.6 385.9L1307.6 373.7L1310 361.4L1312.8 349.2L1315.9 336.9L1319.5 324.7L1320.5 321.5L1323.1 312.5L1327.1 300.2L1331.4 288L1336.2 275.7L1341.6 263.5L1342.9 260.6L1346.9 251.2L1352.5 239L1358.7 226.7L1365.6 214.5L1372 202.2L1375.8 195.7L1379.2 190L1381.4 186.5L1387.8 177.1L1394.5 165.5L1398.6 159.2L1402.7 153.3L1404.8 150.3L1410.2 143.6L1411.6 141L1419.5 128.8L1423.3 123.7L1430.2 115.2L1432.6 113L1436.5 106.4L1437.6 104.3L1442.4 97.4L1446.4 92L1449.1 88.8L1455 84.2L1456.7 80.7L1456.6 79.8L1461.1 70.9L1460.9 67.5L1464.3 60.4L1477.4 60.4L1477.4 55.3L917.1 55.3L917.1 459.4Z"/>
<path fill="#77ff00" d="M1289.6 459.4L1289.8 447.2L1290.3 434.9L1291.1 422.7L1292.3 410.4L1293.8 398.2L1295.7 385.9L1300.3 361.4L1303.1 349.2L1306.2 336.9L1309.7 324.7L1313.6 312.5L1318 300.2L1320.5 293.9L1322.6 288L1327.4 275.7L1332.6 263.5L1334.7 259L1339.4 249.3L1342.9 242.9L1344.7 239L1350.9 226.7L1354.2 220.6L1359.6 211.3L1365.4 202.3L1370.7 192.9L1376.4 183.8L1382.5 174.9L1387.8 168L1389.2 165.5L1394.7 157.1L1397.3 153.3L1400.9 148.2L1407.8 139.7L1410.2 137.3L1415.6 128.8L1420.5 122.2L1427.4 113.7L1432.6 108.9L1435.3 104.3L1440.7 96.5L1444 92L1447.4 87.9L1455 82L1455.8 80.2L1455.8 79.8L1460.5 70.6L1460.3 67.5L1463.9 60.1L1477.4 60.1L1477.4 55.3L917.1 55.3L917.1 459.4Z"/>
<path fill="#8dff00" d="M1279 459.4L1279.2 447.2L1279.6 434.9L1280.5 422.7L1281.6 410.4L1283.1 398.2L1285 385.9L1287.2 373.7L1289.8 361.4L1292.8 349.2L1296.2 336.9L1298.1 330.9L1299.9 324.7L1303.7 312.5L1308 300.2L1310.2 294.6L1314.3 284.5L1318.7 274.7L1320.5 271L1323.7 263.5L1327.6 255.1L1332.4 245.5L1337.5 236L1343 226.8L1348.1 217.3L1353.6 208.1L1359.4 199L1365.3 190.8L1371.4 181.1L1377.5 172.2L1384.2 163.6L1387.8 159.6L1391.9 153.3L1397.1 146.1L1404 137.6L1410.2 131.2L1411.7 128.8L1417.7 120.6L1424.7 112.2L1432.6 104.9L1439 95.5L1441.6 92L1445.8 87L1455 79.8L1459.9 70.2L1459.7 67.5L1463.4 59.9L1477.4 59.9L1477.4 55.3L917.1 55.3L917.1 459.4Z"/>
<path fill="#a3ff00" d="M1267.5 459.4L1267.7 447.2L1268.3 434.9L1269.2 422.7L1270.4 410.4L1272 398.2L1274.1 385.9L1276.4 373.7L1279 361.4L1281.9 349.2L1285.2 336.9L1289 324.7L1290.4 320.5L1294.1 310.3L1298.1 300.2L1301.9 290.1L1306.1 280.1L1310.5 270.3L1315.3 260.6L1320.4 251.2L1325.3 241.6L1330.4 232.2L1336 222.9L1341.9 214L1342.9 212.6L1347.6 204.8L1353.5 195.8L1359.8 187L1365.3 180.2L1366.9 177.8L1372.6 169.5L1379.3 160.9L1386.6 152.6L1387.8 151.5L1393.2 144L1400.1 135.5L1407.9 127.5L1410.2 125.6L1414.9 119.1L1421.9 110.7L1430.2 103L1432.6 101.4L1437.3 94.6L1439.2 92L1444.1 86.1L1452.1 79.8L1453.2 78.8L1455 78.2L1459.3 69.9L1459.1 67.5L1462.9 59.6L1477.4 59.6L1477.4 55.3L917.1 55.3L917.1 459.4Z"/>
<path fill="#b8ff00" d="M1255.7 459.4L1255.9 447.2L1256.4 434.9L1257.3 422.7L1258.5 410.4L1260.1 398.2L1262.1 385.9L1264.4 373.7L1267.2 361.4L1270.4 349.2L1274.1 336.9L1275.7 332.1L1277.9 324.7L1282.1 312.5L1284.8 305.2L1288.8 295.1L1293.2 285.3L1297.9 275.6L1302.4 265.8L1307.2 256.2L1312.3 246.7L1317.9 237.5L1320.5 233.6L1324.3 226.7L1329 219.1L1334.9 210.1L1341.4 201.4L1342.9 199.5L1347.5 192.5L1353.8 183.7L1360.7 175.2L1365.3 170.2L1368.7 165.5L1374.4 158.2L1381.7 149.9L1387.8 144.1L1390.1 141L1396.3 133.4L1404 125.4L1410.2 120.3L1413 116.5L1419.2 109.2L1424.5 104.3L1427.4 101.4L1432.6 98L1436.8 92L1442.5 85.2L1449.4 79.8L1451.5 77.9L1455 76.7L1458.7 69.6L1458.5 67.5L1462.5 59.4L1477.4 59.4L1477.4 55.3L917.1 55.3L917.1 459.4Z"/>
<path fill="#ceff00" d="M1242.8 459.4L1243 447.2L1243.6 434.9L1244.5 422.7L1245.8 410.4L1247.5 398.2L1249.7 385.9L1252.2 373.7L1253.3 369.4L1255 361.4L1258.1 349.2L1261.7 336.9L1263.7 330.4L1267.3 320.1L1271.2 310L1275.4 300.1L1279.5 290L1283.9 280.2L1288.6 270.5L1293.7 261.1L1298.1 253.6L1299.3 251.2L1304.2 242.3L1309.7 233.1L1315.7 224.1L1320.5 217.6L1322.4 214.5L1327.9 206.3L1334.3 197.5L1341.2 189.1L1342.9 187.3L1347.9 180.4L1354.7 171.9L1362.2 163.8L1365.3 160.8L1369.5 155.5L1376.7 147.2L1384.8 139.4L1387.8 137L1392.4 131.3L1400.1 123.3L1409 115.9L1410.2 115.1L1416.4 107.7L1420.1 104.3L1424.6 99.9L1432.6 94.6L1434.4 92L1440.8 84.3L1446.6 79.8L1449.7 76.9L1455 75.1L1458 69.2L1457.9 67.5L1462 59.1L1477.4 59.1L1477.4 55.3L917.1 55.3L917.1 459.4Z"/>
<path fill="#e4ff00" d="M1229.4 459.4L1229.6 447.2L1230.2 434.9L1231.2 422.7L1232.5 410.4L1234.1 398.2L1236.2 385.9L1238.6 373.7L1241.5 361.4L1243 355.8L1246 345.2L1249.4 334.8L1256.8 314.4L1260.7 304.2L1264.9 294.3L1269.5 284.6L1274.5 275.1L1275.7 273L1279.3 265.5L1284.4 256L1289.9 246.7L1295.8 237.7L1298.1 234.5L1301.6 228.7L1307.5 219.6L1313.9 210.9L1320.8 202.4L1327.2 193.7L1334.1 185.2L1341.7 177.1L1342.9 175.9L1348.7 168.7L1356.1 160.5L1364.4 152.7L1365.3 151.9L1371.8 144.5L1375.5 141L1379.8 136.7L1387.8 130.3L1389.1 128.8L1396.2 121.2L1401.8 116.5L1405 113.7L1410.2 110.4L1413.7 106.2L1421.8 98.4L1431.9 91.6L1432.6 91.3L1439.2 83.4L1443.8 79.8L1448 76L1455 73.6L1457.4 68.9L1457.3 67.5L1461.5 58.9L1477.4 58.9L1477.4 55.3L917.1 55.3L917.1 459.4Z"/>
<path fill="#faff00" d="M1214.6 459.4L1214.7 447.2L1215.3 434.9L1216.3 422.7L1217.7 410.4L1219.4 398.2L1221.6 385.9L1224.3 373.7L1227.4 361.4L1234.6 336.9L1237.5 328.3L1241.2 318.1L1245.3 308.1L1249.7 298.3L1253.3 291.2L1254.7 288L1259 278.8L1263.9 269.3L1269.3 260L1275.7 250L1280.6 241.6L1286.4 232.6L1292.7 223.8L1298.1 217.1L1299.9 214.5L1305.7 206.4L1312.6 197.9L1320.5 189.3L1327 181.3L1330.3 177.8L1334.4 173.1L1342.6 165.4L1350 157.1L1354.2 153.3L1358.1 149.3L1365.3 143.6L1366.8 141.8L1374.8 133.9L1381.2 128.8L1383.7 126.6L1387.8 123.9L1392.4 119L1395.4 116.5L1401 111.5L1410.2 105.6L1411.4 104.3L1419 96.8L1426.2 92L1428.9 90L1432.6 88.5L1437.5 82.5L1441 79.8L1446.2 75L1455 72.1L1456.8 68.5L1456.7 67.5L1461.1 58.6L1477.4 58.6L1477.4 55.3L917.1 55.3L917.1 459.4Z"/>
<path fill="#ffef00" d="M1198.5 459.4L1198.7 447.2L1199.3 434.9L1200.4 422.7L1201.8 410.4L1203.7 398.2L1206.1 385.9L1208.9 373.7L1211.8 361.4L1214.3 352.4L1217.5 341.9L1221 331.6L1224.9 321.4L1229.1 311.5L1230.9 307.9L1234.1 300.2L1237.8 291.8L1242.6 282.1L1247.8 272.7L1253.4 263.5L1258.7 254.2L1264.4 245.1L1270.6 236.2L1275.7 229.6L1277.6 226.7L1283.3 218.6L1290 210.1L1298.1 201.1L1304.2 193.3L1307.3 190L1311.6 185.1L1319.7 177.3L1320.5 176.6L1327.2 169.1L1331 165.5L1335.2 161.3L1342.9 155L1351.9 145.9L1358.1 141L1360.9 138.6L1365.3 135.6L1369.7 131.2L1372.7 128.8L1378.5 123.7L1387.8 117.7L1397 109.3L1404.9 104.3L1407.1 102.6L1410.2 101.2L1416.2 95.3L1421.1 92L1425.9 88.4L1432.6 85.6L1435.9 81.6L1438.2 79.8L1444.5 74.1L1455 70.5L1456.2 68.2L1456.1 67.5L1460.6 58.4L1477.4 58.4L1477.4 55.3L917.1 55.3L917.1 459.4Z"/>
<path fill="#ffd900" d="M1181.1 459.4L1181.3 447.2L1182 434.9L1183.1 422.7L1184.6 410.4L1186.6 398.2L1188.8 385.9L1191.4 373.7L1193.5 365.5L1196.4 354.9L1199.7 344.4L1203.4 334.2L1207.4 324.1L1208.5 321.8L1212.1 312.5L1215.7 304.1L1220.2 294.4L1225.2 284.9L1230.7 275.6L1235.8 266.2L1241.3 256.9L1247.3 248L1253.3 239.9L1259.8 230.3L1266.3 221.6L1273.5 213.3L1275.7 210.9L1280.4 204.8L1282.7 202.2L1287.6 196.5L1295.5 188.6L1298.1 186.2L1303.1 180.5L1306 177.8L1311 172.6L1320.5 164.5L1327.8 157.2L1332.7 153.3L1336.6 149.8L1342.9 145.3L1345.7 142.6L1347.7 141L1354.5 135.1L1364.5 128.3L1365.3 127.8L1373.3 120.9L1380.1 116.5L1383.4 114.1L1387.8 111.9L1393 107.2L1397.5 104.3L1402.9 100.3L1410.2 96.9L1413.4 93.8L1416 92L1422.9 86.7L1432.6 82.7L1434.2 80.7L1435.4 79.8L1442.8 73.1L1455 69L1455.6 67.9L1455.5 67.5L1460.1 58.1L1477.4 58.1L1477.4 55.3L917.1 55.3L917.1 459.4Z"/>
<path fill="#ffc300" d="M1161.7 459.4L1161.9 447.2L1162.6 434.9L1163.7 422.7L1165.2 410.4L1167.1 398.2L1169.4 385.9L1171.2 377.8L1173.9 367.1L1177 356.5L1180.4 346.1L1184.2 335.9L1186 331.6L1188.6 324.7L1192.1 315.8L1196.5 305.9L1201.3 296.3L1206.5 286.9L1208.5 283.6L1211.6 277.5L1216.9 268.1L1222.7 259L1228.9 250.2L1230.9 247.7L1235 241.3L1241.4 232.5L1246.1 226.7L1248.2 224L1253.3 218.5L1255.4 215.6L1262.3 207.2L1267.1 202.2L1269.9 199.1L1275.7 193.7L1277.8 191.2L1285.5 183.1L1291.5 177.8L1293.9 175.5L1298.1 172.2L1302.3 167.8L1305.1 165.5L1310.8 160.2L1320.4 153.2L1328.9 145.6L1335.5 141L1338.6 138.6L1342.9 136.1L1348.1 131.6L1352.3 128.8L1357.8 124.7L1365.3 120.5L1368.2 118.1L1370.5 116.5L1377.9 111.1L1387.8 106.1L1389 105L1390.1 104.3L1398.7 98L1410.2 92.6L1419.9 85.1L1432.6 79.8L1441 72.2L1455 67.5L1459.7 57.9L1477.4 57.9L1477.4 55.3L917.1 55.3L917.1 459.4Z"/>
<path fill="#ffae00" d="M1139.5 459.4L1139.7 447.2L1140.5 434.9L1141.6 422.7L1143.2 410.4L1145.1 398.2L1147.6 385.9L1149.4 378.1L1152.2 367.4L1155.4 356.9L1159 346.6L1162.9 336.6L1163.6 334.9L1166.8 326.4L1171 316.5L1175.5 306.7L1180.5 297.2L1185.9 287.9L1191 278.4L1196.5 269.2L1202.4 260.2L1208.8 251.4L1214.9 242.5L1217.7 239L1221.5 233.9L1228.6 225.5L1230.9 223.2L1235.6 217.1L1238 214.5L1242.9 208.8L1250.8 200.9L1253.3 198.7L1258.5 192.9L1261.6 190L1266.6 185L1275.5 177.6L1283.6 169.9L1289.2 165.5L1292.7 162.5L1298.1 158.8L1301.9 155.3L1304.7 153.3L1311.1 148.1L1320.5 142.1L1330.6 134.3L1339.9 128.8L1341.3 127.9L1342.9 127.1L1351.1 121L1359.2 116.5L1362.1 114.8L1365.3 113.4L1372.5 108.2L1380.1 104.3L1383.8 102.1L1387.8 100.6L1394.5 95.7L1402.3 92L1406.2 89.9L1410.2 88.7L1416.9 83.5L1425.8 79.8L1429.2 78L1432.6 77.3L1439.3 71.2L1450.1 67.5L1452.6 66.2L1455 66.2L1459.2 57.6L1477.4 57.6L1477.4 55.3L917.1 55.3L917.1 459.4Z"/>
<path fill="#ff9800" d="M1113.5 459.4L1113.7 447.2L1114.5 434.9L1115.8 422.7L1117.6 410.4L1118.8 404.2L1119.8 398.2L1122.4 385.9L1124.6 376.8L1127.6 366.2L1130.9 355.8L1134.6 345.6L1138.8 335.6L1141.2 330.4L1143.5 324.7L1147.4 315.8L1152.1 306.1L1157.2 296.7L1162.8 287.5L1163.6 286.2L1168.1 278.2L1173.8 269L1180 260.2L1186 252.4L1192.8 242.7L1195.9 239L1199.6 234.2L1207 226L1208.5 224.5L1214.1 217.6L1217.1 214.5L1221.6 209.4L1229.8 201.7L1230.9 200.8L1237.6 193.7L1241.8 190L1246 186L1253.3 180.3L1254.9 178.6L1263.4 171L1271 165.5L1272.9 164L1275.7 162.2L1282.1 156.7L1287.2 153.3L1291.8 149.8L1298.1 146.1L1301.8 143.1L1305.1 141L1311.8 136.3L1320.5 131.6L1322.7 129.9L1324.6 128.8L1332.9 123.3L1342.9 118.5L1344.4 117.3L1345.9 116.5L1355 110.9L1365.3 106.4L1367 105.2L1368.8 104.3L1377.9 98.9L1387.8 95.2L1390.3 93.4L1393.2 92L1401.6 87.3L1410.2 84.7L1413.9 81.9L1418.9 79.8L1425.8 76.1L1432.6 74.7L1437.5 70.2L1445.5 67.5L1450.4 65L1455 65L1458.7 57.3L1477.4 57.3L1477.4 55.3L917.1 55.3L917.1 459.4Z"/>
<path fill="#ff8200" d="M1081.9 459.4L1082.2 447.2L1083 434.9L1084.3 422.7L1086.2 410.4L1088.7 398.2L1091.8 385.9L1095.5 373.7L1096.4 371.2L1099.4 361.4L1102.5 352.5L1106.4 342.4L1110.8 332.6L1115.6 322.9L1118.8 317L1121 312.5L1125.4 303.8L1130.7 294.5L1136.5 285.4L1141.2 278.6L1143 275.7L1148.4 267.4L1154.7 258.6L1161.6 250.1L1163.6 247.8L1168.3 241.5L1170.5 239L1175.2 233.1L1182.8 225L1186 221.9L1190.3 216.8L1192.7 214.5L1198 208.8L1206.5 201.2L1208.5 199.6L1214.6 193.4L1218.6 190L1223.2 185.8L1230.9 180L1232.4 178.6L1241.2 171.1L1249.3 165.5L1251 164.2L1253.3 162.8L1260.4 157.1L1266.4 153.3L1270.5 150.4L1275.7 147.5L1280.7 143.8L1285.4 141L1291.2 137.2L1298.1 133.8L1302.1 131L1306.2 128.8L1313 124.7L1320.5 121.4L1324.6 118.7L1329.1 116.5L1336 112.7L1342.9 110.1L1347.9 107L1354.2 104.3L1360 101.4L1365.3 99.7L1372.1 95.7L1381.9 92L1385.1 90.6L1387.8 90L1397 84.8L1410.2 80.8L1410.9 80.2L1412 79.8L1422.4 74.2L1432.6 72.2L1435.8 69.3L1441 67.5L1448.2 63.8L1455 63.8L1458.3 57.1L1477.4 57.1L1477.4 55.3L917.1 55.3L917.1 459.4Z"/>
<path fill="#ff6d00" d="M1040.2 459.4L1040.5 447.2L1041.5 434.9L1043.2 422.7L1045.6 410.4L1048.8 398.2L1051.6 389.3L1052.5 385.9L1056.3 373.7L1059.2 365.6L1063.3 355.6L1067.8 345.8L1072.8 336.3L1074 334.2L1077.6 326.7L1082.6 317.2L1088.1 307.9L1094 298.9L1096.4 295.7L1099.9 289.9L1105.8 280.9L1112.3 272.2L1118.8 264.3L1125.7 255L1128.9 251.2L1132.7 246.6L1141.2 237.7L1147.6 230.2L1151 226.7L1155.3 222.2L1163.7 214.5L1171.5 206.5L1176.5 202.2L1180 199L1186 194.3L1188.9 191.6L1190.9 190L1197.6 184.1L1207.3 177.1L1208.5 176.4L1216.4 169.9L1223 165.5L1226.4 163.1L1230.9 160.5L1236.4 156.3L1241.3 153.3L1246.7 149.7L1253.3 146.2L1257.4 143.3L1261.6 141L1268.2 136.9L1275.7 133.5L1279.6 130.9L1283.9 128.8L1290.9 124.9L1298.1 121.9L1302.8 119.1L1308.7 116.5L1314.9 113.4L1320.5 111.5L1327.1 107.9L1336.4 104.3L1340 102.7L1342.9 101.9L1352.3 97.2L1365.3 93L1366.2 92.5L1367.5 92L1378.7 87.1L1387.8 84.8L1392.3 82.3L1400.6 79.8L1406.2 77.6L1410.2 77.1L1419 72.4L1432.6 69.7L1434 68.3L1436.4 67.5L1445.9 62.6L1455 62.6L1457.8 56.8L1477.4 56.8L1477.4 55.3L917.1 55.3L917.1 459.4Z"/>
<path fill="#ff5700" d="M966.9 459.4L967.5 447.2L969.5 434.9L972.8 422.7L977.5 410.4L983.7 398.2L984.3 397.1L989.3 385.9L993.1 378.5L995.8 373.7L998.5 369.2L1004.4 360.1L1006.7 356.9L1011.1 349.2L1015.7 341.8L1021.8 332.9L1029.2 323.5L1034.5 315.4L1041 306.7L1047.9 298.2L1051.6 294.1L1054.7 289.7L1061.5 281.1L1068.7 272.9L1074 267.5L1076.2 264.7L1083.4 256.4L1091.1 248.3L1096.4 243.5L1099 240.4L1106.8 232.4L1113.1 226.7L1115.2 224.7L1118.8 221.8L1123.5 217L1126.4 214.5L1131.9 209.4L1141.2 202.2L1149.7 194.7L1156.1 190L1159.2 187.6L1163.6 184.6L1168.6 180.5L1172.6 177.8L1178.3 173.5L1186 168.8L1188.5 166.9L1190.6 165.5L1198.5 160.1L1208.5 154.5L1219.8 147.2L1230.9 141.7L1242.4 135L1253.3 130.2L1254.5 129.4L1256 128.8L1266.1 123.5L1275.7 119.8L1278.7 118.2L1282.6 116.5L1291 112.7L1298.1 110.4L1303.9 107.5L1313.1 104.3L1317.4 102.6L1320.5 101.8L1330.4 97.4L1342.9 93.9L1344.7 93L1347.7 92L1358.1 88.1L1365.3 86.6L1372.2 83.5L1387.7 79.7L1400.9 74.7L1410.2 73.4L1415.6 70.5L1430.5 67.5L1431.9 67.2L1432.6 67.2L1443.7 61.4L1455 61.4L1457.3 56.6L1477.4 56.6L1477.4 55.3L917.1 55.3L917.1 459.4Z"/>
<path fill="#ff4100" d="M917.1 308.1L939.5 305.1L951.7 300.2L961.9 296.5L969.3 292L980.3 285.8L984.3 283.7L990.5 279.1L1000.3 272.2L1006.7 268.2L1010.1 265.3L1019.2 258.1L1029 251.1L1037.8 243.7L1047.2 236.6L1051.6 233.6L1056.4 229.4L1065.6 222.2L1074 216.4L1084.4 208L1094.4 201.1L1096.4 199.9L1103.8 194.1L1110 190L1113.8 187.3L1118.8 184.4L1123.9 180.5L1128.4 177.8L1134.1 173.9L1141.2 170L1144.8 167.4L1148.1 165.5L1155.3 161L1163.6 156.7L1166.5 154.8L1169.5 153.3L1177.5 148.6L1186 144.7L1189.2 142.7L1192.8 141L1200.8 136.8L1208.5 133.7L1212.9 131.2L1218.7 128.8L1225.2 125.7L1230.9 123.7L1237.8 120.3L1248.2 116.5L1251.1 115.3L1253.3 114.7L1263.9 110.1L1275.7 106.5L1277.9 105.5L1281.6 104.3L1291.5 100.7L1298.1 99.1L1305.5 96.1L1320.7 92.1L1334.7 87.5L1342.9 86L1349.7 83.5L1365.3 80.2L1380.3 75.7L1387.8 74.8L1395.6 71.8L1410.2 69.7L1412.1 68.6L1417.6 67.5L1427.5 64.8L1432.6 64.8L1441.5 60.2L1455 60.2L1456.9 56.3L1477.4 56.3L1477.4 55.3L917.1 55.3Z"/>
<path fill="#ff2b00" d="M917.1 228.5L939.8 226.7L955.8 223.4L961.9 222.2L970.5 219.2L984.6 214.7L997.1 209.2L1006.7 205.6L1009.8 203.9L1021.7 198.1L1029.2 194.9L1033.6 192.4L1045.1 186.5L1051.6 183.6L1056.8 180.6L1062.4 177.8L1068.3 174.7L1074 172.1L1079.9 168.7L1086.5 165.5L1091.6 162.9L1096.4 160.8L1103.2 157L1111.5 153.3L1115.3 151.4L1118.8 150L1127.2 145.6L1139.8 140.3L1141.2 139.8L1151.9 134.6L1163.6 130.3L1165.1 129.6L1167.1 128.8L1177.7 124.2L1186 121.5L1191.1 119.3L1199.3 116.5L1204.7 114.5L1208.5 113.5L1218.3 109.7L1230.9 106.2L1232.9 105.4L1236.7 104.3L1247.1 100.9L1253.3 99.6L1261.7 96.6L1275.7 93.5L1277.3 92.9L1280.9 92L1292.3 88.9L1298.1 88L1307.8 85.1L1320.5 82.9L1324.1 81.7L1334.4 79.8L1340.5 78.5L1342.9 78.2L1356.3 74.9L1365.3 73.9L1372.9 71.7L1387.8 69.9L1390.3 68.9L1399.6 67.5L1407.4 66L1410.2 66L1423.2 62.4L1432.6 62.4L1439.3 58.9L1455 58.9L1456.4 56.1L1477.4 56.1L1477.4 55.3L917.1 55.3Z"/>
<path fill="#ff1600" d="M917.1 165.5L939.5 164.6L956.3 162.5L961.9 161.9L973.4 159.5L984.3 157.6L989.6 156.1L1006.7 152L1019.6 148.1L1029.2 145.6L1034.2 143.8L1048.7 139.4L1051.6 138.7L1062.6 134.8L1074 131.6L1076.9 130.4L1082.2 128.8L1091 125.8L1096.4 124.4L1105.1 121.3L1118.8 117.5L1119.9 117.1L1134.1 112.6L1141.2 111L1148.8 108.4L1164.2 104.6L1179 100.4L1186 99.1L1194.4 96.6L1208.5 93.8L1210.6 93.2L1216.2 92L1226.5 89.6L1230.9 89L1242.6 86.2L1253.3 84.7L1259.3 83.1L1275.7 80.6L1276.7 80.4L1280.3 79.8L1293.6 77.3L1298.1 77L1310.8 74.5L1320.5 73.6L1328.5 71.9L1342.9 70.5L1346.7 69.6L1365.5 67.6L1383.1 65L1387.8 65L1400.8 62.5L1410.2 62.5L1418.8 60L1432.6 60L1437 57.7L1455 57.7L1455.9 55.8L1477.4 55.8L1477.4 55.3L917.1 55.3Z"/>
<path fill="#ff0000" d="M917.1 109.1L939.5 108.7L946.7 108.2L961.9 107.4L966.7 106.9L984.3 105.4L1004.4 103L1006.7 102.8L1022.2 100.5L1029.2 99.7L1039.8 97.9L1051.6 96.4L1057.5 95.2L1074 93L1075.2 92.7L1092.5 89.9L1096.4 89.5L1109.8 87.1L1118.8 86.2L1127.4 84.5L1141.2 82.9L1145.4 82.1L1163.8 79.9L1181.6 77.4L1186 77.1L1199.8 75.1L1208.5 74.5L1218.4 73L1230.9 72.1L1237.3 71.1L1253.3 69.9L1256.6 69.4L1276.2 67.8L1295.5 66.1L1298.1 66.1L1314.9 64.5L1320.5 64.5L1334.4 62.9L1342.9 62.9L1354.2 61.5L1365.3 61.5L1374.2 60.1L1387.8 60.1L1394.3 58.9L1410.2 58.9L1414.5 57.7L1432.6 57.7L1434.8 56.5L1455 56.5L1455.5 55.6L1477.4 55.6L1477.4 55.3L917.1 55.3Z"/>
<rect x="916.1" y="53.7" width="562.3" height="1.75" fill="#ff0000"/>
<path fill="none" stroke="#000" stroke-opacity="0.64" stroke-width="0.8" stroke-linejoin="round" d="M1465.9 459.4L1465.9 434.9L1466 428.7L1466 422.7L1466.1 416.5L1466.1 410.4L1466.2 404.3L1466.2 398.2L1466.4 392.1L1466.4 385.9L1466.5 380L1466.5 373.7L1466.7 367.8L1466.7 361.4L1466.9 355.7L1466.9 349.2L1467.2 343.6L1467.2 336.9L1467.4 331.5L1467.4 324.7L1467.7 319.4L1467.7 312.5L1468 307.3L1468 300.2L1468.3 295.3L1468.3 288L1468.7 283.2L1468.7 275.7L1469.1 271.2L1469.1 263.5L1469.4 259.1L1469.4 251.2L1469.8 247.1L1469.8 239L1470.3 235.1L1470.3 226.7L1470.7 223.1L1470.7 214.5L1471.1 211.1L1471.1 202.2L1471.6 199.1L1471.6 190L1472.1 187.1L1472.1 177.8L1472.5 175.1L1472.5 165.5L1473 163.1L1473 153.3L1473.5 151.1L1473.5 141L1474 139.2L1474 128.8L1474.5 127.2L1474.5 116.5L1475 115.2L1475 104.3L1475.4 103.2L1474.8 92L1475.4 90.9L1474 79.8L1474.7 78.3L1473.9 67.5L1474.6 66L1477.4 66M1426.5 459.4L1426.5 447.2L1426.7 434.9L1427 422.7L1427.4 410.4L1427.5 407.7L1427.9 398.2L1428.1 395.7L1428.5 385.9L1428.7 383.8L1429.3 373.7L1429.4 372L1430.1 361.4L1430.2 360.2L1431.1 349.2L1432.1 336.9L1433.3 324.7L1434.5 313.5L1434.5 312.5L1435.7 301.9L1435.8 300.2L1437.1 290.4L1437.3 288L1438.5 279L1438.8 275.7L1440 267.5L1440.3 263.5L1441.6 256.1L1442 251.2L1443.2 244.8L1443.8 239L1444.9 233.5L1445.6 226.7L1446.6 222.2L1447.5 214.5L1448.4 210.9L1449.6 202.2L1450.3 199.7L1451.7 190L1452.2 188.4L1453.9 177.8L1454.1 177.3L1456.1 166.1L1456.1 165.5L1458.2 155L1458.2 153.3L1460.4 144L1460.4 141L1462.5 132.9L1462.5 128.8L1464.6 121.8L1464.6 116.5L1466.7 110.7L1466.7 104.3L1468.8 99.6L1468.3 92L1470.3 88.1L1469.2 79.8L1471 76.3L1470.3 67.5L1471.8 64.5L1477.4 64.5M1384.5 459.4L1384.6 447.2L1384.9 434.9L1385.4 422.7L1386.1 410.4L1387 398.2L1388.1 385.9L1389.3 373.7L1390.7 361.4L1392.1 351.6L1392.4 349.2L1393.7 340.2L1394.1 336.9L1395.5 328.9L1396.1 324.7L1397.5 317.8L1398.3 312.5L1399.5 306.7L1400.7 300.2L1401.8 295.6L1403.3 288L1404.1 284.7L1406.1 275.7L1406.6 273.8L1409.1 263.5L1410.2 259.5L1411.9 252.2L1412.1 251.2L1414.7 241.5L1415.2 239L1417.6 230.8L1418.4 226.7L1420.5 220.2L1421.9 214.5L1423.6 209.6L1425.6 202.2L1426.8 199.1L1429.5 190L1430.1 188.6L1432.6 181.4L1433.5 178.3L1433.6 177.8L1436.9 167.8L1437.3 165.5L1440.3 157.5L1441.2 153.3L1443.7 147.1L1445.2 141L1447.2 136.8L1449.7 128.8L1450.9 126.5L1454.8 116.4L1455 116L1458.5 106.2L1458.5 104.3L1462.1 95.9L1461.9 92L1465.2 85.3L1464.5 79.8L1467.3 74.3L1466.8 67.5L1469 63L1477.4 63M1336.9 459.4L1337.1 447.2L1337.5 434.9L1338.2 422.7L1339.1 410.4L1340.4 398.2L1342 385.9L1342.9 379.6L1343.7 373.7L1345.7 361.4L1347.9 349.2L1350.5 336.9L1353.3 324.7L1356.4 312.5L1359.9 300.2L1363.7 288L1365.3 283.3L1367.6 275.7L1370.8 266.4L1371.7 263.5L1374.4 256.2L1376.1 251.2L1378.2 246L1380.9 239L1386.1 226.7L1387.8 223.3L1390.7 216.1L1391.2 214.5L1394.9 206.1L1396.5 202.2L1399.3 196.3L1402.2 190L1408.5 177.8L1410.2 175L1413.7 167.4L1414.4 165.5L1418.4 157.8L1420.4 153.3L1423.3 148.2L1427.2 141L1432.6 132.7L1434 129.6L1434.3 128.8L1438.8 120L1440.2 116.5L1443.8 110.4L1447 104.3L1449.2 101.1L1455 93.4L1455.4 92.3L1455.4 92L1460.1 82.6L1459.7 79.8L1463.6 72.3L1463.2 67.5L1466.2 61.4L1477.4 61.4M1279 459.4L1279.2 447.2L1279.6 434.9L1280.5 422.7L1281.6 410.4L1283.1 398.2L1285 385.9L1287.2 373.7L1288.3 368.3L1289.8 361.4L1290.7 357.4L1292.8 349.2L1293.5 346.7L1296.5 336.1L1298.1 330.9L1299.9 324.7L1303.7 312.5L1306.4 304.7L1308 300.2L1310.2 294.6L1312.8 288L1314.3 284.5L1318.7 274.7L1320.5 271L1323.7 263.5L1327.6 255.1L1329.5 251.2L1332.4 245.5L1337.5 236L1343 226.8L1348.1 217.3L1349.8 214.5L1353.6 208.1L1359.4 199L1365.3 190.8L1365.8 190L1371.4 181.1L1373.7 177.8L1377.5 172.2L1384.2 163.6L1387.8 159.6L1390.8 154.9L1391.9 153.3L1397.1 146.1L1404 137.6L1410.2 131.2L1411.7 128.8L1417.7 120.6L1421 116.5L1424.7 112.2L1432.6 104.9L1432.9 104.3L1439 95.5L1441.6 92L1445.8 87L1455 79.8L1459.9 70.2L1459.7 67.5L1463.4 59.9L1477.4 59.9M1198.5 459.4L1198.7 447.2L1199.3 434.9L1200.4 422.7L1201.8 410.4L1202.3 407.1L1203.7 398.2L1204.2 395.8L1206.3 384.8L1208.5 375.7L1208.9 373.7L1211.4 363L1214.3 352.4L1217.5 341.9L1221 331.6L1224.9 321.4L1229.1 311.5L1230.9 307.9L1233.4 301.6L1237.8 291.8L1242.6 282.1L1247.8 272.7L1253.4 263.5L1258.7 254.2L1260.6 251.2L1264.4 245.1L1268.7 239L1270.6 236.2L1275.7 229.6L1277 227.5L1283.3 218.6L1286.6 214.5L1290 210.1L1297.4 201.8L1298.1 201.1L1304.2 193.3L1307.3 190L1311.6 185.1L1319.7 177.3L1320.5 176.6L1327.2 169.1L1331 165.5L1335.2 161.3L1342.9 155L1344 153.8L1351.9 145.9L1358.1 141L1360.9 138.6L1365.3 135.6L1369.7 131.2L1372.7 128.8L1378.5 123.7L1387.8 117.7L1388.5 116.9L1397 109.3L1404.9 104.3L1407.1 102.6L1410.2 101.2L1416.2 95.3L1421.1 92L1425.9 88.4L1432.6 85.6L1435.9 81.6L1438.2 79.8L1444.5 74.1L1455 70.5L1456.2 68.2L1456.1 67.5L1460.6 58.4L1477.4 58.4M1040.2 459.4L1040.5 447.2L1041.5 434.9L1042.2 429.8L1043.2 422.7L1044 418.5L1045.6 410.4L1046.3 407.5L1048.8 398.2L1051.6 389.3L1052.5 385.9L1055.6 375.9L1056.3 373.7L1059.2 365.6L1060.9 361.4L1063.3 355.6L1067.8 345.8L1072.8 336.3L1074 334.2L1077.6 326.7L1082.6 317.2L1088.1 307.9L1094 298.9L1096.4 295.7L1099.9 289.9L1105.8 280.9L1109.7 275.7L1112.3 272.2L1118.8 264.3L1125.7 255L1128.9 251.2L1132.7 246.6L1140.4 238.5L1141.2 237.7L1147.6 230.2L1151 226.7L1155.3 222.2L1163.7 214.5L1171.5 206.5L1176.5 202.2L1180 199L1186 194.3L1188.9 191.6L1190.9 190L1197.6 184.1L1206.5 177.8L1207.3 177.1L1208.5 176.4L1216.4 169.9L1223 165.5L1226.4 163.1L1230.9 160.5L1236.4 156.3L1241.3 153.3L1246.7 149.7L1253.3 146.2L1257.4 143.3L1261.6 141L1268.2 136.9L1275.7 133.5L1279.6 130.9L1283.9 128.8L1290.9 124.9L1298.1 121.9L1302.8 119.1L1308.7 116.5L1314.9 113.4L1320.5 111.5L1327.1 107.9L1336.4 104.3L1340 102.7L1342.9 101.9L1352.3 97.2L1365.3 93L1366.2 92.5L1367.5 92L1378.7 87.1L1387.8 84.8L1392.3 82.3L1400.6 79.8L1406.2 77.6L1410.2 77.1L1419 72.4L1432.6 69.7L1434 68.3L1436.4 67.5L1445.9 62.6L1455 62.6L1457.8 56.8L1477.4 56.8"/>
</g>
<g fill="#000">
<rect x="916.20" y="53.85" width="1.80" height="406.65"/>
<rect x="1476.50" y="53.85" width="1.80" height="406.65"/>
<rect x="916.20" y="53.85" width="562.10" height="1.70"/>
<rect x="916.20" y="458.30" width="562.10" height="2.20"/>
<rect x="906.30" y="458.30" width="10.80" height="2.20"/>
<rect x="911.90" y="417.83" width="5.20" height="2.20"/>
<rect x="906.30" y="377.36" width="10.80" height="2.20"/>
<rect x="911.90" y="336.89" width="5.20" height="2.20"/>
<rect x="906.30" y="296.42" width="10.80" height="2.20"/>
<rect x="911.90" y="255.95" width="5.20" height="2.20"/>
<rect x="906.30" y="215.48" width="10.80" height="2.20"/>
<rect x="911.90" y="175.01" width="5.20" height="2.20"/>
<rect x="906.30" y="134.54" width="10.80" height="2.20"/>
<rect x="911.90" y="94.07" width="5.20" height="2.20"/>
<rect x="906.30" y="53.60" width="10.80" height="2.20"/>
<rect x="916.20" y="459.40" width="1.80" height="12.20"/>
<rect x="944.22" y="459.40" width="1.80" height="6.00"/>
<rect x="972.23" y="459.40" width="1.80" height="12.20"/>
<rect x="1000.25" y="459.40" width="1.80" height="6.00"/>
<rect x="1028.26" y="459.40" width="1.80" height="12.20"/>
<rect x="1056.27" y="459.40" width="1.80" height="6.00"/>
<rect x="1084.29" y="459.40" width="1.80" height="12.20"/>
<rect x="1112.30" y="459.40" width="1.80" height="6.00"/>
<rect x="1140.32" y="459.40" width="1.80" height="12.20"/>
<rect x="1168.34" y="459.40" width="1.80" height="6.00"/>
<rect x="1196.35" y="459.40" width="1.80" height="12.20"/>
<rect x="1224.37" y="459.40" width="1.80" height="6.00"/>
<rect x="1252.38" y="459.40" width="1.80" height="12.20"/>
<rect x="1280.39" y="459.40" width="1.80" height="6.00"/>
<rect x="1308.41" y="459.40" width="1.80" height="12.20"/>
<rect x="1336.42" y="459.40" width="1.80" height="6.00"/>
<rect x="1364.44" y="459.40" width="1.80" height="12.20"/>
<rect x="1392.45" y="459.40" width="1.80" height="6.00"/>
<rect x="1420.47" y="459.40" width="1.80" height="12.20"/>
<rect x="1448.49" y="459.40" width="1.80" height="6.00"/>
<rect x="1476.50" y="459.40" width="1.80" height="12.20"/>
</g>
<g>
<text transform="matrix(0.10511 0 0 0.11926 884.73 466.56)">0</text>
<text transform="matrix(0.10511 0 0 0.11926 884.73 385.62)">2</text>
<text transform="matrix(0.10511 0 0 0.11926 884.31 304.68)">4</text>
<text transform="matrix(0.10511 0 0 0.11926 884.52 223.74)">6</text>
<text transform="matrix(0.10511 0 0 0.11926 884.62 142.80)">8</text>
<text transform="matrix(0.10511 0 0 0.11926 874.22 61.86)">10</text>
<text transform="matrix(0.10511 0 0 0.11926 911.84 502.86)">0</text>
<text transform="matrix(0.10511 0 0 0.11926 967.87 502.86)">2</text>
<text transform="matrix(0.10511 0 0 0.11926 1023.90 502.86)">4</text>
<text transform="matrix(0.10511 0 0 0.11926 1079.93 502.86)">6</text>
<text transform="matrix(0.10511 0 0 0.11926 1135.96 502.86)">8</text>
<text transform="matrix(0.10511 0 0 0.11926 1186.74 502.86)">10</text>
<text transform="matrix(0.10511 0 0 0.11926 1242.77 502.86)">12</text>
<text transform="matrix(0.10511 0 0 0.11926 1298.80 502.86)">14</text>
<text transform="matrix(0.10511 0 0 0.11926 1354.83 502.86)">16</text>
<text transform="matrix(0.10511 0 0 0.11926 1410.86 502.86)">18</text>
<text transform="matrix(0.10511 0 0 0.11926 1466.89 502.86)">20</text>
</g>
<text transform="matrix(0.12114 0 0 0.14504 1126.02 554.70)">X-Coordinate</text>
<text transform="matrix(0.17673 0 0 0.17197 1130.21 596.00)">(b) a/b=2</text>
<text transform="matrix(0.00000 -0.13984 0.12519 0.00000 856.70 339.22)">Y-Coordinate</text>
<g shape-rendering="crispEdges">
<rect x="1568.6" y="54.7" width="46.7" height="8.1" fill="#808080"/>
<rect x="1568.6" y="443.11" width="46.7" height="8.69" fill="#0000ff"/>
<rect x="1568.6" y="435.02" width="46.7" height="8.69" fill="#0016ff"/>
<rect x="1568.6" y="426.93" width="46.7" height="8.69" fill="#002bff"/>
<rect x="1568.6" y="418.83" width="46.7" height="8.69" fill="#0041ff"/>
<rect x="1568.6" y="410.74" width="46.7" height="8.69" fill="#0057ff"/>
<rect x="1568.6" y="402.65" width="46.7" height="8.69" fill="#006dff"/>
<rect x="1568.6" y="394.56" width="46.7" height="8.69" fill="#0082ff"/>
<rect x="1568.6" y="386.47" width="46.7" height="8.69" fill="#0098ff"/>
<rect x="1568.6" y="378.38" width="46.7" height="8.69" fill="#00aeff"/>
<rect x="1568.6" y="370.28" width="46.7" height="8.69" fill="#00c3ff"/>
<rect x="1568.6" y="362.19" width="46.7" height="8.69" fill="#00d9ff"/>
<rect x="1568.6" y="354.10" width="46.7" height="8.69" fill="#00efff"/>
<rect x="1568.6" y="346.01" width="46.7" height="8.69" fill="#00fffa"/>
<rect x="1568.6" y="337.92" width="46.7" height="8.69" fill="#00ffe4"/>
<rect x="1568.6" y="329.82" width="46.7" height="8.69" fill="#00ffce"/>
<rect x="1568.6" y="321.73" width="46.7" height="8.69" fill="#00ffb8"/>
<rect x="1568.6" y="313.64" width="46.7" height="8.69" fill="#00ffa3"/>
<rect x="1568.6" y="305.55" width="46.7" height="8.69" fill="#00ff8d"/>
<rect x="1568.6" y="297.46" width="46.7" height="8.69" fill="#00ff77"/>
<rect x="1568.6" y="289.37" width="46.7" height="8.69" fill="#00ff62"/>
<rect x="1568.6" y="281.27" width="46.7" height="8.69" fill="#00ff4c"/>
<rect x="1568.6" y="273.18" width="46.7" height="8.69" fill="#00ff36"/>
<rect x="1568.6" y="265.09" width="46.7" height="8.69" fill="#00ff21"/>
<rect x="1568.6" y="257.00" width="46.7" height="8.69" fill="#00ff0b"/>
<rect x="1568.6" y="248.91" width="46.7" height="8.69" fill="#0bff00"/>
<rect x="1568.6" y="240.82" width="46.7" height="8.69" fill="#21ff00"/>
<rect x="1568.6" y="232.73" width="46.7" height="8.69" fill="#36ff00"/>
<rect x="1568.6" y="224.63" width="46.7" height="8.69" fill="#4cff00"/>
<rect x="1568.6" y="216.54" width="46.7" height="8.69" fill="#62ff00"/>
<rect x="1568.6" y="208.45" width="46.7" height="8.69" fill="#77ff00"/>
<rect x="1568.6" y="200.36" width="46.7" height="8.69" fill="#8dff00"/>
<rect x="1568.6" y="192.27" width="46.7" height="8.69" fill="#a3ff00"/>
<rect x="1568.6" y="184.18" width="46.7" height="8.69" fill="#b8ff00"/>
<rect x="1568.6" y="176.08" width="46.7" height="8.69" fill="#ceff00"/>
<rect x="1568.6" y="167.99" width="46.7" height="8.69" fill="#e4ff00"/>
<rect x="1568.6" y="159.90" width="46.7" height="8.69" fill="#faff00"/>
<rect x="1568.6" y="151.81" width="46.7" height="8.69" fill="#ffef00"/>
<rect x="1568.6" y="143.72" width="46.7" height="8.69" fill="#ffd900"/>
<rect x="1568.6" y="135.62" width="46.7" height="8.69" fill="#ffc300"/>
<rect x="1568.6" y="127.53" width="46.7" height="8.69" fill="#ffae00"/>
<rect x="1568.6" y="119.44" width="46.7" height="8.69" fill="#ff9800"/>
<rect x="1568.6" y="111.35" width="46.7" height="8.69" fill="#ff8200"/>
<rect x="1568.6" y="103.26" width="46.7" height="8.69" fill="#ff6d00"/>
<rect x="1568.6" y="95.17" width="46.7" height="8.69" fill="#ff5700"/>
<rect x="1568.6" y="87.07" width="46.7" height="8.69" fill="#ff4100"/>
<rect x="1568.6" y="78.98" width="46.7" height="8.69" fill="#ff2b00"/>
<rect x="1568.6" y="70.89" width="46.7" height="8.69" fill="#ff1600"/>
<rect x="1568.6" y="62.80" width="46.7" height="8.69" fill="#ff0000"/>
<rect x="1568.6" y="451.2" width="46.7" height="8.4" fill="#000"/>
</g>
<rect x="1568.6" y="54.7" width="46.7" height="404.9" fill="none" stroke="#111" stroke-width="1.6"/>
<path stroke="#111" stroke-width="1.6" fill="none" d="M1615.3 62.80H1625M1615.3 111.35H1625M1615.3 159.90H1625M1615.3 208.45H1625M1615.3 257.00H1625M1615.3 305.55H1625M1615.3 354.10H1625M1615.3 402.65H1625M1615.3 451.20H1625"/>
<text transform="matrix(0.10342 0 0 0.11765 1633.49 70.96)">453.0</text>
<text transform="matrix(0.10342 0 0 0.11765 1633.49 119.51)">431.8</text>
<text transform="matrix(0.10342 0 0 0.11765 1633.49 168.06)">410.6</text>
<text transform="matrix(0.10342 0 0 0.11765 1633.49 216.61)">389.4</text>
<text transform="matrix(0.10342 0 0 0.11765 1633.49 265.16)">368.3</text>
<text transform="matrix(0.10342 0 0 0.11765 1633.49 313.71)">347.1</text>
<text transform="matrix(0.10342 0 0 0.11765 1633.49 362.26)">325.9</text>
<text transform="matrix(0.10342 0 0 0.11765 1633.49 410.81)">304.7</text>
<text transform="matrix(0.10342 0 0 0.11765 1633.49 459.36)">283.5</text>
<text transform="matrix(0.09442 0 0 0.10992 1514.12 29.40)">Nodal Temperatures (K)</text>
<clipPath id="cpc"><rect x="367.6" y="672.4" width="798.7" height="390"/></clipPath>
<g clip-path="url(#cpc)" shape-rendering="geometricPrecision">
<rect x="366.6" y="671.4" width="800.7" height="392" fill="#0000ff"/>
<path fill="#0016ff" d="M1166.3 697L1165.5 685.2L1165.6 684.9L1166.3 684.9L1166.3 673.4L367.6 673.4L367.6 1062.4L1166.3 1062.4Z"/>
<path fill="#002bff" d="M1166.3 707.5L1165.3 697L1165.5 696.7L1164.7 685.2L1164.9 684.7L1166.3 684.7L1166.3 673.4L367.6 673.4L367.6 1062.4L1166.3 1062.4Z"/>
<path fill="#0041ff" d="M1163.3 1062.4L1163.5 968.1L1163.7 932.7L1163.8 931.8L1163.8 920.9L1163.9 920.1L1163.9 909.2L1163.9 908.3L1163.9 897.4L1164 896.6L1164 885.6L1164.1 884.8L1164.1 873.8L1164.2 873.1L1164.2 862L1164.3 861.3L1164.3 850.2L1164.4 849.6L1164.4 838.4L1164.5 837.8L1164.5 826.6L1164.6 826.1L1164.6 814.9L1164.8 814.3L1164.8 803.1L1164.9 802.6L1164.9 791.3L1165 790.8L1165 779.5L1165.1 779.1L1165.1 767.7L1165.2 767.3L1165.2 755.9L1165.4 755.6L1165.4 744.1L1165.5 743.8L1165.5 732.3L1165.6 732.1L1165.6 720.6L1165.7 720.3L1165.2 708.8L1165.4 708.4L1164.3 697L1164.6 696.4L1163.9 685.2L1164.2 684.5L1166.3 684.5L1166.3 673.4L367.6 673.4L367.6 1062.4Z"/>
<path fill="#0057ff" d="M1157.4 1062.4L1157.6 1015.2L1157.7 1012.2L1157.7 1003.5L1157.8 1000.4L1157.8 991.7L1157.9 988.7L1157.9 979.9L1158.1 977L1158.1 968.1L1158.2 965.2L1158.2 956.3L1158.4 953.5L1158.4 944.5L1158.6 941.8L1158.6 932.7L1158.8 930.1L1158.8 920.9L1159 918.4L1159 909.2L1159.3 906.7L1159.3 897.4L1159.5 895L1159.5 885.6L1159.8 883.3L1159.8 873.8L1160.1 871.6L1160.1 862L1160.4 859.9L1160.4 850.2L1160.7 848.2L1160.7 838.4L1161 836.6L1161 826.6L1161.4 824.9L1161.4 814.9L1161.7 813.2L1161.7 803.1L1162.1 801.6L1162.1 791.3L1162.4 789.9L1162.4 779.5L1162.8 778.2L1162.8 767.7L1163.1 766.6L1163.1 755.9L1163.5 754.9L1163.5 744.1L1163.8 743.2L1163.8 732.3L1164.2 731.6L1164.2 720.6L1164.5 719.9L1164.1 708.8L1164.4 708.1L1163.4 697L1163.8 696.1L1163.1 685.2L1163.5 684.2L1166.3 684.2L1166.3 673.4L367.6 673.4L367.6 1062.4Z"/>
<path fill="#006dff" d="M1151.5 1062.4L1151.6 1038.8L1151.8 1015.2L1152 1010.2L1152 1003.5L1152.1 998.4L1152.1 991.7L1152.3 986.7L1152.3 979.9L1152.6 975L1152.6 968.1L1152.8 963.3L1152.8 956.3L1153.1 951.6L1153.1 944.5L1153.5 940L1153.5 932.7L1153.8 928.3L1153.8 920.9L1154.2 916.7L1154.2 909.2L1154.6 905L1154.6 897.4L1155 893.4L1155 885.6L1155.5 881.8L1155.5 873.8L1156 870.1L1156 862L1156.5 858.5L1156.5 850.2L1157 846.9L1157 838.4L1157.5 835.3L1157.5 826.6L1158.1 823.7L1158.1 814.9L1158.7 812.1L1158.7 803.1L1159.2 800.6L1159.2 791.3L1159.8 789L1159.8 779.5L1160.4 777.4L1160.4 767.7L1161 765.8L1161 755.9L1161.6 754.2L1161.6 744.1L1162.2 742.7L1162.2 732.3L1162.7 731.1L1162.7 720.6L1163.3 719.5L1162.9 708.8L1163.4 707.7L1162.4 697L1163 695.8L1162.3 685.2L1162.8 684L1166.3 684L1166.3 673.4L367.6 673.4L367.6 1062.4Z"/>
<path fill="#0082ff" d="M1145.7 1062.4L1145.7 1038.8L1146 1015.2L1146.2 1008.1L1146.2 1003.5L1146.5 996.4L1146.5 991.7L1146.8 984.8L1146.8 979.9L1147.1 973.1L1147.1 968.1L1147.5 961.4L1147.5 956.3L1147.9 949.8L1147.9 944.5L1148.3 938.2L1148.3 932.7L1148.8 926.6L1148.8 920.9L1149.4 915L1149.4 909.2L1150 903.4L1150 897.4L1150.6 891.8L1150.6 885.6L1151.2 880.2L1151.2 873.8L1151.9 868.7L1151.9 862L1152.6 857.1L1152.6 850.2L1153.3 845.6L1153.3 838.4L1154 834.1L1154 826.6L1154.8 822.6L1154.8 814.9L1155.6 811.1L1155.6 803.1L1156.4 799.6L1156.4 791.3L1157.2 788.1L1157.2 779.5L1158.1 776.6L1158.1 767.7L1158.9 765.1L1158.9 755.9L1159.7 753.6L1159.7 744.1L1160.5 742.1L1160.5 732.3L1161.3 730.6L1161.3 720.6L1162 719L1161.7 708.8L1162.4 707.4L1161.4 697L1162.2 695.5L1161.4 685.2L1162.1 683.7L1166.3 683.7L1166.3 673.4L367.6 673.4L367.6 1062.4Z"/>
<path fill="#0098ff" d="M1139.8 1062.4L1139.9 1038.8L1140.5 1003.5L1140.8 994.4L1140.8 991.7L1141.2 982.8L1141.2 979.9L1141.6 971.1L1141.6 968.1L1142.1 959.5L1142.1 956.3L1142.6 947.9L1142.6 944.5L1143.2 936.3L1143.2 932.7L1143.9 924.8L1143.9 920.9L1144.6 913.2L1144.6 909.2L1145.3 901.7L1145.3 897.4L1146.1 890.2L1146.1 885.6L1146.9 878.7L1146.9 873.8L1147.7 867.2L1147.7 862L1148.6 855.8L1148.6 850.2L1149.6 844.3L1149.6 838.4L1150.5 832.8L1150.5 826.6L1151.5 821.4L1151.5 814.9L1152.6 810L1152.6 803.1L1153.6 798.6L1153.6 791.3L1154.6 787.2L1154.6 779.5L1155.7 775.7L1155.7 767.7L1156.8 764.3L1156.8 755.9L1157.8 752.9L1157.8 744.1L1158.9 741.5L1158.9 732.3L1159.9 730.1L1159.9 720.6L1160.8 718.6L1160.5 708.8L1161.4 707L1160.4 697L1161.3 695.2L1160.6 685.2L1161.4 683.5L1166.3 683.5L1166.3 673.4L367.6 673.4L367.6 1062.4Z"/>
<path fill="#00aeff" d="M1133.9 1062.4L1134 1038.8L1134.4 1015.2L1135.2 991.7L1136.1 968.1L1136.7 957.6L1136.7 956.3L1137.4 946.1L1137.4 944.5L1138.1 934.5L1138.1 932.7L1138.9 923L1138.9 920.9L1139.7 911.5L1139.7 909.2L1140.6 900.1L1140.6 897.4L1141.6 888.6L1141.6 885.6L1142.6 877.2L1142.6 873.8L1143.6 865.8L1143.6 862L1144.7 854.4L1144.7 850.2L1145.9 843L1145.9 838.4L1147 831.6L1147 826.6L1148.3 820.3L1148.3 814.9L1149.5 808.9L1149.5 803.1L1150.8 797.6L1150.8 791.3L1152.1 786.2L1152.1 779.5L1153.4 774.9L1153.4 767.7L1154.7 763.6L1154.7 755.9L1156 752.3L1156 744.1L1157.2 740.9L1157.2 732.3L1158.5 729.6L1158.5 720.6L1159.6 718.2L1159.3 708.8L1160.4 706.7L1159.4 697L1160.5 694.9L1159.8 685.2L1160.8 683.2L1166.3 683.2L1166.3 673.4L367.6 673.4L367.6 1062.4Z"/>
<path fill="#00c3ff" d="M1127.8 1062.4L1128 1038.8L1128.5 1015.2L1129.3 991.7L1130.5 968.1L1132.1 944.5L1134.9 909.2L1136 898.4L1136 897.4L1137.1 887L1137.1 885.6L1138.3 875.7L1138.3 873.8L1139.5 864.3L1139.5 862L1140.8 853L1140.8 850.2L1142.1 841.7L1142.1 838.4L1143.5 830.4L1143.5 826.6L1145 819.1L1145 814.9L1146.4 807.8L1146.4 803.1L1147.9 796.6L1147.9 791.3L1149.5 785.3L1149.5 779.5L1151 774.1L1151 767.7L1152.6 762.8L1152.6 755.9L1154.1 751.6L1154.1 744.1L1155.6 740.3L1155.6 732.3L1157 729.1L1157 720.6L1158.4 717.8L1158.1 708.8L1159.3 706.3L1158.5 697L1159.7 694.6L1159 685.2L1160.1 683L1166.3 683L1166.3 673.4L367.6 673.4L367.6 1062.4Z"/>
<path fill="#00d9ff" d="M1121.7 1062.4L1121.9 1038.8L1122.5 1015.2L1122.7 1011.6L1122.9 1003.5L1123.1 1000L1123.4 991.7L1123.7 988.4L1124.1 979.9L1124.3 976.8L1124.8 968.1L1125.1 965.3L1125.6 956.3L1125.9 953.8L1126.5 944.5L1126.8 942.3L1127.5 932.7L1127.8 930.9L1128.6 920.9L1128.9 919.5L1129.8 909.2L1130 908.1L1132.6 885.4L1135.4 862.8L1135.4 862L1136.9 851.6L1136.9 850.2L1138.4 840.3L1138.4 838.4L1140 829.1L1140 826.6L1141.7 817.9L1141.7 814.9L1143.4 806.7L1143.4 803.1L1145.1 795.6L1145.1 791.3L1146.9 784.4L1146.9 779.5L1148.7 773.2L1148.7 767.7L1150.4 762.1L1150.4 755.9L1152.2 750.9L1152.2 744.1L1153.9 739.7L1153.9 732.3L1155.6 728.6L1155.6 720.6L1157.2 717.3L1156.9 708.8L1158.3 705.9L1157.5 697L1158.8 694.3L1158.2 685.2L1159.4 682.7L1166.3 682.7L1166.3 673.4L367.6 673.4L367.6 1062.4Z"/>
<path fill="#00efff" d="M1115.6 1062.4L1115.8 1038.8L1116.4 1015.2L1116.7 1009.5L1116.9 1003.5L1117.3 997.9L1117.5 991.7L1117.9 986.3L1118.2 979.9L1118.7 974.8L1119 968.1L1119.5 963.3L1119.9 956.3L1120.5 951.9L1121 944.5L1121.5 940.4L1122.1 932.7L1122.6 929.1L1123.3 920.9L1123.9 917.7L1124.7 909.2L1125.2 906.4L1126.1 897.4L1126.6 895.1L1127.6 885.6L1128 883.8L1129.3 873.8L1129.6 872.6L1131.1 862L1131.2 861.4L1134.7 839L1134.7 838.4L1136.5 827.9L1136.5 826.6L1138.4 816.8L1138.4 814.9L1140.3 805.7L1140.3 803.1L1142.3 794.6L1142.3 791.3L1144.3 783.5L1144.3 779.5L1146.3 772.4L1146.3 767.7L1148.3 761.3L1148.3 755.9L1150.3 750.3L1150.3 744.1L1152.3 739.2L1152.3 732.3L1154.2 728.1L1154.2 720.6L1156 716.9L1155.7 708.8L1157.3 705.6L1156.5 697L1158 694L1157.4 685.2L1158.7 682.5L1166.3 682.5L1166.3 673.4L367.6 673.4L367.6 1062.4Z"/>
<path fill="#00fffa" d="M1109.4 1062.4L1109.5 1050.6L1109.7 1038.8L1110.4 1015.2L1110.8 1007.4L1110.9 1003.5L1111.5 995.8L1111.6 991.7L1112.2 984.3L1112.4 979.9L1113 972.8L1113.3 968.1L1114 961.4L1114.3 956.3L1115.1 949.9L1115.4 944.5L1116.2 938.6L1116.6 932.7L1117.5 927.2L1118 920.9L1118.8 915.9L1119.5 909.2L1120.3 904.6L1121 897.4L1121.8 893.4L1122.7 885.6L1123.5 882.2L1124.5 873.8L1125.2 871L1126.5 862L1127 859.9L1128.5 850.2L1128.9 848.8L1130.7 838.4L1130.9 837.7L1135.1 815.6L1135.1 814.9L1137.3 804.6L1137.3 803.1L1139.5 793.6L1139.5 791.3L1141.7 782.6L1141.7 779.5L1144 771.6L1144 767.7L1146.2 760.6L1146.2 755.9L1148.4 749.6L1148.4 744.1L1150.6 738.6L1150.6 732.3L1152.8 727.5L1152.8 720.6L1154.8 716.5L1154.5 708.8L1156.3 705.2L1155.5 697L1157.2 693.7L1156.6 685.2L1158 682.2L1166.3 682.2L1166.3 673.4L367.6 673.4L367.6 1062.4Z"/>
<path fill="#00ffe4" d="M1103.3 1062.4L1103.4 1050.6L1103.6 1038.8L1103.9 1027L1104.4 1015.2L1105 1003.5L1105.7 991.7L1106.4 982.3L1106.5 979.9L1107.4 970.8L1107.5 968.1L1108.4 959.4L1108.6 956.3L1109.6 948L1109.9 944.5L1110.9 936.7L1111.2 932.7L1112.3 925.4L1112.7 920.9L1113.8 914.1L1114.3 909.2L1115.4 902.9L1116 897.4L1117.1 891.7L1117.8 885.6L1118.9 880.6L1119.8 873.8L1120.8 869.5L1121.8 862L1122.8 858.4L1124.1 850.2L1124.9 847.3L1126.4 838.4L1127.1 836.3L1128.9 826.6L1129.4 825.3L1131.6 814.9L1133 809.3L1134.2 803.5L1134.2 803.1L1136.7 792.6L1136.7 791.3L1139.1 781.7L1139.1 779.5L1141.6 770.7L1141.6 767.7L1144.1 759.8L1144.1 755.9L1146.6 748.9L1146.6 744.1L1149 738L1149 732.3L1151.3 727L1151.3 720.6L1153.6 716L1153.3 708.8L1155.3 704.9L1154.6 697L1156.4 693.5L1155.8 685.2L1157.3 682L1166.3 682L1166.3 673.4L367.6 673.4L367.6 1062.4Z"/>
<path fill="#00ffce" d="M1097 1062.4L1097.1 1050.6L1097.3 1038.8L1097.7 1027L1098.2 1015.2L1098.9 1003.5L1100.7 979.9L1101.8 968.1L1103 956.3L1104.2 946.1L1104.3 944.5L1105.6 934.8L1105.8 932.7L1107.1 923.6L1107.4 920.9L1108.8 912.4L1109.1 909.2L1110.5 901.2L1110.9 897.4L1112.4 890.1L1112.9 885.6L1114.4 879L1115 873.8L1116.4 867.9L1117.2 862L1118.6 856.9L1119.6 850.2L1120.8 845.9L1122.1 838.4L1123.2 835L1124.8 826.6L1125.7 824L1127.7 814.9L1128.3 813.2L1130.7 803.1L1131 802.4L1133 795.1L1133.8 791.6L1133.8 791.3L1136.5 780.7L1136.5 779.5L1139.3 769.9L1139.3 767.7L1142 759.1L1142 755.9L1144.7 748.3L1144.7 744.1L1147.4 737.4L1147.4 732.3L1149.9 726.5L1149.9 720.6L1152.3 715.6L1152.1 708.8L1154.3 704.5L1153.6 697L1155.5 693.2L1155 685.2L1156.6 681.7L1166.3 681.7L1166.3 673.4L367.6 673.4L367.6 1062.4Z"/>
<path fill="#00ffb8" d="M1090.4 1062.4L1090.5 1050.6L1090.8 1038.8L1091.2 1027L1091.7 1015.2L1092.5 1003.5L1093.4 991.7L1094.4 979.9L1095.7 968.1L1097.1 956.3L1102 920.9L1103.8 910.6L1103.9 909.2L1105.7 899.5L1105.9 897.4L1107.7 888.4L1108 885.6L1109.8 877.4L1110.2 873.8L1112 866.4L1112.6 862L1114.4 855.4L1115.2 850.2L1116.8 844.5L1117.8 838.4L1119.3 833.6L1120.7 826.6L1122 822.7L1123.7 814.9L1124.8 811.9L1126.9 803.1L1127.7 801.2L1130.4 791.3L1130.8 790.5L1133 783.4L1133.9 779.8L1133.9 779.5L1136.9 769.1L1136.9 767.7L1139.9 758.3L1139.9 755.9L1142.8 747.6L1142.8 744.1L1145.7 736.8L1145.7 732.3L1148.5 726L1148.5 720.6L1151.1 715.2L1150.9 708.8L1153.3 704.1L1152.6 697L1154.7 692.9L1154.2 685.2L1155.9 681.5L1166.3 681.5L1166.3 673.4L367.6 673.4L367.6 1062.4Z"/>
<path fill="#00ffa3" d="M1083.9 1062.4L1083.9 1050.6L1084.2 1038.8L1084.6 1027L1085.2 1015.2L1086 1003.5L1086.9 991.7L1087.4 987.3L1088.1 979.9L1088.6 975.9L1089.3 968.1L1089.9 964.6L1090.8 956.3L1091.3 953.3L1092.5 944.5L1092.9 942.1L1094.3 932.7L1094.7 930.9L1096.3 920.9L1098.5 909.2L1099.7 903.4L1100.8 897.4L1103 886.7L1103.1 885.6L1105.2 875.7L1105.5 873.8L1107.6 864.8L1108 862L1110.2 853.9L1110.7 850.2L1112.8 843L1113.6 838.4L1115.5 832.2L1116.6 826.6L1118.3 821.4L1119.7 814.9L1121.3 810.7L1123.1 803.1L1124.4 800L1126.8 791.3L1127.6 789.4L1130.8 779.5L1131.1 778.8L1133 773.6L1134.6 768.2L1134.6 767.7L1137.8 757.6L1137.8 755.9L1140.9 746.9L1140.9 744.1L1144.1 736.2L1144.1 732.3L1147.1 725.5L1147.1 720.6L1149.9 714.7L1149.7 708.8L1152.3 703.8L1151.6 697L1153.9 692.6L1153.4 685.2L1155.2 681.3L1166.3 681.3L1166.3 673.4L367.6 673.4L367.6 1062.4Z"/>
<path fill="#00ff8d" d="M1077.3 1062.4L1077.4 1050.6L1077.6 1038.8L1078.1 1027L1078.7 1015.2L1079.5 1003.5L1080.5 991.7L1081.2 985.1L1081.7 979.9L1082.5 973.8L1083 968.1L1083.9 962.5L1084.6 956.3L1085.4 951.2L1086.3 944.5L1087.1 940.1L1088.2 932.7L1089 928.9L1090.3 920.9L1091 917.9L1092.6 909.2L1093.2 906.8L1095.2 897.4L1098.1 885L1099.7 878.4L1100.7 873.8L1103.3 863.3L1103.4 862L1105.9 852.4L1106.3 850.2L1108.7 841.6L1109.3 838.4L1111.6 830.9L1112.4 826.6L1114.6 820.1L1115.8 814.9L1117.8 809.4L1119.3 803.1L1121 798.8L1123.1 791.3L1124.4 788.2L1127.2 779.5L1128.1 777.7L1132 767.3L1133 765.1L1135.6 756.8L1135.6 755.9L1139.1 746.3L1139.1 744.1L1142.4 735.7L1142.4 732.3L1145.7 725L1145.7 720.6L1148.7 714.3L1148.5 708.8L1151.2 703.4L1150.6 697L1153 692.3L1152.6 685.2L1154.5 681L1166.3 681L1166.3 673.4L367.6 673.4L367.6 1062.4Z"/>
<path fill="#00ff77" d="M1070.7 1062.4L1070.8 1050.6L1071.1 1038.8L1071.6 1027L1072.2 1015.2L1073.1 1003.5L1074.1 991.7L1075.3 979.9L1076.4 971.6L1076.7 968.1L1077.9 960.3L1078.3 956.3L1079.5 949.1L1080.1 944.5L1081.3 938L1082.1 932.7L1083.3 926.9L1084.3 920.9L1085.5 915.9L1086.7 909.2L1087.8 904.9L1089.3 897.4L1090.2 894L1092.2 885.6L1092.9 883.2L1095.3 873.8L1098.6 862L1099.7 858.5L1101.7 850.9L1101.8 850.2L1104.7 840.2L1105 838.4L1107.8 829.5L1108.3 826.6L1111 818.8L1111.8 814.9L1114.3 808.2L1115.5 803.1L1117.7 797.6L1119.4 791.3L1121.3 787.1L1123.7 779.5L1125.1 776.7L1128.4 767.7L1129.1 766.3L1133 757.7L1133.5 755.9L1137.2 745.6L1137.2 744.1L1140.8 735.1L1140.8 732.3L1144.2 724.5L1144.2 720.6L1147.5 713.9L1147.3 708.8L1150.2 703.1L1149.7 697L1152.2 692L1151.7 685.2L1153.8 680.8L1166.3 680.8L1166.3 673.4L367.6 673.4L367.6 1062.4Z"/>
<path fill="#00ff62" d="M1063.9 1062.4L1064 1050.6L1064.3 1038.8L1064.8 1027L1065.6 1015.2L1067.7 991.7L1068.9 979.9L1070.4 968.1L1072.1 956.3L1073.6 947.1L1074 944.5L1075.6 936L1076 932.7L1077.7 924.9L1078.3 920.9L1079.9 913.9L1080.8 909.2L1082.3 903L1083.5 897.4L1084.9 892.1L1086.4 885.6L1087.7 881.3L1089.6 873.8L1090.7 870.6L1093.1 862L1093.8 859.9L1096.8 850.2L1099.7 841.9L1100.7 838.4L1103.9 828.1L1104.2 826.6L1107.3 817.5L1107.8 814.9L1110.8 807L1111.7 803.1L1114.4 796.5L1115.8 791.3L1118.1 786L1120.2 779.5L1122.1 775.6L1125 767.7L1126.3 765.3L1130.5 755.9L1133 751.4L1135.3 744.9L1135.3 744.1L1139.1 734.5L1139.1 732.3L1142.8 724L1142.8 720.6L1146.3 713.5L1146.1 708.8L1149.2 702.7L1148.7 697L1151.4 691.7L1150.9 685.2L1153.1 680.5L1166.3 680.5L1166.3 673.4L367.6 673.4L367.6 1062.4Z"/>
<path fill="#00ff4c" d="M1056.6 1062.4L1056.7 1050.6L1057 1038.8L1057.6 1027L1058.4 1015.2L1059.4 1003.5L1060.6 991.7L1062.1 979.9L1063.8 968.1L1065.8 956.3L1066.5 952.6L1067.8 944.5L1069.9 932.7L1072 922.9L1072.3 920.9L1074.4 912L1074.9 909.2L1076.9 901.1L1077.7 897.4L1079.6 890.2L1080.7 885.6L1082.5 879.5L1084 873.8L1085.6 868.8L1087.5 862L1088.9 858.2L1091.4 850.2L1092.4 847.6L1095.5 838.4L1099.7 827.7L1103.6 816.2L1103.9 814.9L1107.2 805.7L1107.9 803.1L1111 795.3L1112.1 791.3L1114.9 784.9L1116.7 779.5L1119 774.5L1121.6 767.7L1123.4 764.3L1127.2 755.9L1133 745.4L1133.4 744.1L1137.5 733.9L1137.5 732.3L1141.4 723.5L1141.4 720.6L1145.1 713L1144.9 708.8L1148.2 702.4L1147.7 697L1150.6 691.4L1150.1 685.2L1152.4 680.3L1166.3 680.3L1166.3 673.4L367.6 673.4L367.6 1062.4Z"/>
<path fill="#00ff36" d="M1049.3 1062.4L1049.4 1050.6L1049.7 1038.8L1050.3 1027L1051.1 1015.2L1052.1 1003.5L1053.4 991.7L1054.9 979.9L1056.6 968.1L1058.6 956.3L1060.9 944.5L1063.4 932.7L1066.5 920.2L1069 909.2L1071.5 899.1L1071.8 897.4L1074.3 888.4L1074.9 885.6L1077.3 877.6L1078.3 873.8L1080.5 867L1081.9 862L1083.9 856.4L1085.9 850.2L1087.5 845.9L1090.1 838.4L1091.4 835.5L1094.8 826.6L1099.9 814.9L1103.7 804.5L1104.1 803.1L1107.7 794.1L1108.5 791.3L1111.8 783.8L1113.1 779.5L1116 773.5L1118.2 767.7L1120.5 763.3L1123.8 755.9L1125.4 753.2L1130.4 744.1L1133 740.4L1135.8 733.3L1135.8 732.3L1140 723L1140 720.6L1143.8 712.6L1143.7 708.8L1147.2 702L1146.7 697L1149.7 691.1L1149.3 685.2L1151.7 680L1166.3 680L1166.3 673.4L367.6 673.4L367.6 1062.4Z"/>
<path fill="#00ff21" d="M1042 1062.4L1042.1 1050.6L1042.5 1038.8L1043 1027L1043.8 1015.2L1044.9 1003.5L1046.2 991.7L1047.7 979.9L1049.5 968.1L1051.5 956.3L1053.8 944.5L1056.4 932.7L1059.2 920.9L1062.4 909.2L1066.5 895.7L1069.2 885.6L1072.2 875.8L1072.7 873.8L1075.5 865.2L1076.4 862L1079 854.7L1080.4 850.2L1082.7 844.2L1084.7 838.4L1086.7 833.8L1089.5 826.6L1094.7 814.9L1099.7 804.6L1104.4 792.9L1104.8 791.3L1108.6 782.6L1109.6 779.5L1113 772.4L1114.8 767.7L1117.7 762.3L1120.5 755.9L1122.7 752.2L1127.1 744.1L1133 735.7L1134.2 732.8L1134.2 732.3L1138.5 722.5L1138.5 720.6L1142.6 712.2L1142.5 708.8L1146.2 701.6L1145.8 697L1148.9 690.8L1148.5 685.2L1151 679.8L1166.3 679.8L1166.3 673.4L367.6 673.4L367.6 1062.4Z"/>
<path fill="#00ff0b" d="M1034.7 1062.4L1034.8 1050.6L1035.2 1038.8L1035.8 1027L1036.6 1015.2L1037.7 1003.5L1039 991.7L1040.5 979.9L1042.3 968.1L1044.4 956.3L1046.7 944.5L1049.3 932.7L1052.2 920.9L1055.4 909.2L1058.9 897.4L1062.8 885.6L1066.5 875.6L1070.8 862L1074.1 852.9L1074.9 850.2L1077.9 842.5L1079.3 838.4L1082 832.1L1084.1 826.6L1086.3 821.9L1089.4 814.9L1095.2 803.1L1099.7 794.9L1101.2 791.3L1105.4 781.5L1106.1 779.5L1110 771.3L1111.4 767.7L1114.8 761.2L1117.2 755.9L1119.9 751.3L1123.8 744.1L1125.6 741.5L1132.2 732.1L1133 731.2L1137.1 722L1137.1 720.6L1141.4 711.7L1141.3 708.8L1145.2 701.3L1144.8 697L1148.1 690.5L1147.7 685.2L1150.4 679.5L1166.3 679.5L1166.3 673.4L367.6 673.4L367.6 1062.4Z"/>
<path fill="#0bff00" d="M1026.6 1062.4L1026.7 1050.6L1027.1 1038.8L1027.8 1027L1028.8 1015.2L1030 1003.5L1031.5 991.7L1035.2 968.1L1037.3 956.3L1039.6 944.5L1042.3 932.7L1045.2 920.9L1048.4 909.2L1051.9 897.4L1055.9 885.6L1060.2 873.8L1064.9 862L1066.5 858.6L1069.4 850.2L1073.1 840.8L1073.9 838.4L1077.3 830.5L1078.7 826.6L1081.7 820.2L1084 814.9L1089.9 803.1L1096.5 791.3L1099.7 786.2L1102.3 780.4L1102.6 779.5L1107 770.3L1108 767.7L1111.9 760.2L1113.9 755.9L1117.2 750.3L1120.6 744.1L1122.9 740.5L1129.6 731.1L1133 727.5L1135.7 721.5L1135.7 720.6L1140.2 711.3L1140.1 708.8L1144.2 700.9L1143.8 697L1147.2 690.2L1146.9 685.2L1149.7 679.3L1166.3 679.3L1166.3 673.4L367.6 673.4L367.6 1062.4Z"/>
<path fill="#21ff00" d="M1018.3 1062.4L1018.4 1050.6L1018.9 1038.8L1019.5 1027L1020.5 1015.2L1021.7 1003.5L1023.2 991.7L1025.1 979.9L1027.2 968.1L1029.6 956.3L1032.4 944.5L1033.2 941.6L1035.2 932.7L1038.1 920.9L1041.4 909.2L1045 897.4L1048.9 885.6L1053.2 873.8L1058 862L1063.2 850.2L1066.5 843.7L1068.5 838.4L1073.4 826.6L1078.7 814.9L1084.6 803.1L1091.2 791.3L1092.7 788.8L1098.9 779.2L1099.7 778L1104 769.2L1104.6 767.7L1109.1 759.2L1110.5 755.9L1114.4 749.3L1117.3 744.1L1120.2 739.6L1126.9 730.2L1133 723.8L1134.3 721L1134.3 720.6L1139 710.9L1138.9 708.8L1143.2 700.6L1142.8 697L1146.4 689.9L1146.1 685.2L1149 679L1166.3 679L1166.3 673.4L367.6 673.4L367.6 1062.4Z"/>
<path fill="#36ff00" d="M1010 1062.4L1010.2 1050.6L1010.6 1038.8L1011.2 1027L1012.2 1015.2L1013.4 1003.5L1014.9 991.7L1016.8 979.9L1018.9 968.1L1021.3 956.3L1024.1 944.5L1027.2 932.7L1030.7 920.9L1033.2 913.5L1034.4 909.2L1038 897.4L1041.9 885.6L1046.2 873.8L1051 862L1056.2 850.2L1062 838.4L1066.5 830.4L1068 826.6L1073.4 814.9L1079.3 803.1L1085.8 791.3L1088.3 787.2L1094.5 777.6L1099.7 770.7L1101.1 767.7L1106.2 758.2L1107.2 755.9L1111.6 748.3L1114 744.1L1117.6 738.6L1122 732.3L1124.3 729.2L1132.7 720.4L1133 720.2L1137.8 710.4L1137.7 708.8L1142.1 700.2L1141.8 697L1145.6 689.6L1145.3 685.2L1148.3 678.8L1166.3 678.8L1166.3 673.4L367.6 673.4L367.6 1062.4Z"/>
<path fill="#4cff00" d="M1001.7 1062.4L1001.9 1050.6L1002.3 1038.8L1002.9 1027L1003.9 1015.2L1005.1 1003.5L1006.6 991.7L1008.4 979.9L1010.6 968.1L1013 956.3L1015.7 944.5L1018.8 932.7L1022.3 920.9L1026.2 909.2L1030.5 897.4L1033.2 890.8L1034.9 885.6L1039.3 873.8L1044 862L1049.2 850.2L1051.7 845L1056.7 835L1062.2 825.2L1066.5 818.4L1068.1 814.9L1074 803.1L1080.5 791.3L1083.9 785.7L1090.2 776.1L1097.2 766.8L1099.7 763.9L1103.3 757.2L1103.9 755.9L1108.9 747.4L1110.7 744.1L1114.9 737.7L1118.7 732.3L1121.6 728.3L1130 719.5L1133 717.3L1136.6 710L1136.5 708.8L1141.1 699.8L1140.9 697L1144.8 689.3L1144.5 685.2L1147.6 678.6L1166.3 678.6L1166.3 673.4L367.6 673.4L367.6 1062.4Z"/>
<path fill="#62ff00" d="M992.4 1062.4L992.6 1050.6L993 1038.8L993.8 1027L994.9 1015.2L996.3 1003.5L998.1 991.7L1002.2 968.1L1004.6 956.3L1007.4 944.5L1010.4 932.7L1013.9 920.9L1017.7 909.2L1019.4 904.3L1023.3 893.9L1027.6 883.6L1032.2 873.5L1033.2 871.5L1037 862L1042.2 850.2L1045.7 842.9L1050.8 832.9L1056.3 823L1062.3 813.4L1066.5 807.5L1068.7 803.1L1075.2 791.3L1079.5 784.1L1085.8 774.5L1092.8 765.2L1099.7 757.5L1100.6 755.9L1107.4 744.1L1112.2 736.8L1115.3 732.3L1119 727.4L1125.5 720.6L1127.3 718.5L1133 714.4L1135.3 709.6L1135.3 708.8L1140.1 699.5L1139.9 697L1143.9 689L1143.7 685.2L1146.9 678.3L1166.3 678.3L1166.3 673.4L367.6 673.4L367.6 1062.4Z"/>
<path fill="#77ff00" d="M982.8 1062.4L982.9 1050.6L983.4 1038.8L984.2 1027L985.2 1015.2L986.6 1003.5L988.4 991.7L990.4 979.9L992.8 968.1L995.6 956.3L998.9 944.5L999.9 941.1L1002.1 932.7L1005.5 920.9L1009.3 909.2L1011.9 901.6L1015.8 891.2L1020.1 880.9L1024.7 870.8L1029.8 860.8L1033.2 854.7L1035.2 850.2L1040.8 838.4L1044.8 830.8L1050.3 820.9L1056.3 811.3L1063 801.8L1066.5 797.5L1069.9 791.3L1075.1 782.6L1081.4 773L1088.4 763.7L1096.4 754.7L1099.7 751.6L1104.1 744.1L1109.5 735.8L1112 732.3L1116.4 726.4L1122 720.6L1124.6 717.6L1133 711.4L1134.1 709.2L1134.1 708.8L1139.1 699.1L1138.9 697L1143.1 688.8L1142.8 685.2L1146.2 678.1L1166.3 678.1L1166.3 673.4L367.6 673.4L367.6 1062.4Z"/>
<path fill="#8dff00" d="M973.2 1062.4L973.3 1050.6L973.8 1038.8L974.5 1027L975.6 1015.2L977 1003.5L978.6 991.7L980.7 979.9L983 968.1L986.9 951.7L989.9 941L993.2 930.4L996.8 919.9L999.9 911.9L1000.8 909.2L1004.9 897.4L1008.3 888.6L1012.6 878.3L1017.2 868.1L1022.2 858.1L1027.7 848.3L1033.2 839.6L1038.8 828.6L1044.3 818.8L1050.3 809.1L1056.9 799.7L1064.3 790.5L1066.5 788.1L1071.7 779.5L1077.1 771.5L1084 762.1L1089.6 755.9L1091.9 753.1L1099.7 745.9L1100.8 744.1L1106.9 734.9L1113.7 725.5L1118.4 720.6L1121.8 716.6L1133 708.6L1138.1 698.8L1137.9 697L1142.3 688.5L1142 685.2L1145.5 677.8L1166.3 677.8L1166.3 673.4L367.6 673.4L367.6 1062.4Z"/>
<path fill="#a3ff00" d="M963 1062.4L963.2 1050.6L963.7 1038.8L964.6 1027L965.8 1015.2L967.3 1003.5L968.9 991.7L970.9 979.9L973.2 968.1L975.9 956.3L977.8 948.5L980.8 937.8L984.1 927.1L987.8 916.6L991.8 906.3L996.2 896L999.9 888.2L1000.9 885.6L1005.9 873.8L1009.7 865.5L1014.7 855.5L1020.2 845.6L1026.1 835.9L1033.2 825.9L1038.4 816.7L1044.4 807L1050.9 797.6L1055.9 791.3L1058.1 788.3L1066.3 779.4L1072.7 769.9L1079.6 760.6L1083.8 755.9L1087.5 751.6L1095.5 744.1L1096.6 743L1099.7 740.7L1105.3 732.3L1111.1 724.6L1114.9 720.6L1119.1 715.6L1128.7 708.8L1129.9 707.6L1133 706.3L1137.1 698.4L1136.9 697L1141.4 688.2L1141.2 685.2L1144.8 677.6L1166.3 677.6L1166.3 673.4L367.6 673.4L367.6 1062.4Z"/>
<path fill="#b8ff00" d="M951.7 1062.4L951.9 1050.6L952.4 1038.8L953.2 1027L954.4 1015.2L955.9 1003.5L957.8 991.7L960.1 979.9L962.8 968.1L965.9 956.3L966.6 953.8L969 944.5L972.3 932.7L975.1 923.9L978.7 913.4L982.7 903.1L987 892.8L991.8 882.7L997 872.8L999.9 867.8L1002.6 862L1007.2 852.8L1012.6 842.9L1015.4 838.4L1018.5 833.2L1023.1 826.6L1025 823.7L1032.1 814.5L1033.2 813.3L1038.4 804.9L1044.9 795.4L1048.2 791.3L1052 786.2L1058.1 779.5L1060 777.2L1066.5 771.2L1068.8 767.7L1075.3 759L1078.1 755.9L1083 750L1089.4 744.1L1092 741.4L1099.7 735.7L1102 732.3L1108.4 723.6L1111.3 720.6L1116.4 714.7L1124.6 708.8L1126.9 706.6L1133 703.9L1136.1 698.1L1136 697L1140.6 687.9L1140.4 685.2L1144.1 677.3L1166.3 677.3L1166.3 673.4L367.6 673.4L367.6 1062.4Z"/>
<path fill="#ceff00" d="M940.4 1062.4L940.6 1050.6L941.1 1038.8L941.9 1027L943 1015.2L944.5 1003.5L946.3 991.7L947.5 984.9L949.7 973.9L952.2 963L955.1 952.2L958.3 941.6L961.9 931.1L965.9 920.7L966.6 918.9L970 909.2L973.6 899.8L977.9 889.6L982.6 879.5L985.6 873.8L987.7 869.5L992.1 862L993.4 859.7L999.9 849.7L1005 840.2L1010.9 830.5L1013.6 826.6L1017.2 821L1022 814.9L1024.3 811.7L1032.1 802.7L1033.2 801.6L1038.8 793.3L1040.4 791.3L1045.9 784L1050 779.5L1053.8 775L1061.5 767.7L1062.8 766.4L1066.5 763.4L1070.9 757.5L1072.3 755.9L1078.5 748.4L1083.2 744.1L1087.4 739.7L1097.4 732.3L1098.1 731.8L1099.7 730.8L1105.8 722.7L1107.8 720.6L1113.7 713.7L1120.6 708.8L1124 705.6L1133 701.6L1135.1 697.7L1135 697L1139.8 687.6L1139.6 685.2L1143.4 677.1L1166.3 677.1L1166.3 673.4L367.6 673.4L367.6 1062.4Z"/>
<path fill="#e4ff00" d="M928.3 1062.4L928.5 1050.6L929.1 1038.8L930 1027L931.3 1015.2L932.9 1003.5L934.8 991.7L936.9 979.9L939.3 968.1L941.4 959.2L944.3 948.4L947.5 937.7L951 927.2L954.9 916.8L959.2 906.5L964 896.4L966.6 891.5L969.1 885.6L973.4 876.2L978.5 866.2L980.9 862L984 856.4L988 850.2L990.1 846.7L996.8 837.3L999.9 833.4L1003.2 827.8L1009.5 818.2L1012.1 814.9L1016.4 808.9L1021.5 803.1L1024 799.8L1033.2 790.6L1039.8 781.8L1041.9 779.5L1047.5 772.8L1052.9 767.7L1056.3 764.1L1066.5 755.9L1074.1 746.8L1077 744.1L1082.8 738.1L1090.6 732.3L1093.2 730L1099.7 726.3L1103.1 721.7L1104.3 720.6L1111 712.8L1116.5 708.8L1121.1 704.5L1133 699.3L1134 697.3L1134 697L1139 687.3L1138.8 685.2L1142.7 676.8L1166.3 676.8L1166.3 673.4L367.6 673.4L367.6 1062.4Z"/>
<path fill="#faff00" d="M914.9 1062.4L915.1 1050.6L915.6 1038.8L916.5 1027L917.7 1015.2L919.3 1003.5L920 998.7L922 987.6L924.3 976.7L927 965.8L930 955.1L933.4 944.6L936.6 933.9L940.1 923.3L944 912.9L948.2 902.6L950.7 897.4L952.9 892.5L956.5 885.6L958 882.5L963.6 872.7L966.6 868.1L969.7 862L974.6 853L976.4 850.2L980.5 843.4L984.1 838.4L987.1 833.9L992.8 826.6L994.3 824.6L999.9 818.3L1002.2 814.9L1008.5 806.1L1011.1 803.1L1015.9 797L1021.6 791.3L1024.3 788.1L1033.2 780.3L1041.2 770.6L1044.3 767.7L1049.8 761.8L1057.2 755.9L1059.7 753.5L1066.5 749L1069.6 745.2L1070.8 744.1L1078.1 736.5L1083.8 732.3L1088.3 728.3L1099.7 721.8L1100.7 720.6L1108.3 711.8L1112.5 708.8L1118.1 703.5L1133 697L1138.1 687L1138 685.2L1142 676.6L1166.3 676.6L1166.3 673.4L367.6 673.4L367.6 1062.4Z"/>
<path fill="#ffef00" d="M901.5 1062.4L901.6 1050.6L902.1 1038.8L902.9 1027L904.1 1015.2L905.6 1003.5L907.5 991.7L909 983.1L911.4 972.1L914 961.3L917 950.5L920.4 939.9L924.1 929.5L928.3 919.2L933.3 908.2L937.2 898.7L941.7 888.5L943.3 885.6L946.7 878.5L949.5 873.8L952.2 868.7L956.5 862L958.2 859L964.9 849.6L966.6 847.3L971 840L972.1 838.4L977.4 830.4L980.4 826.6L984.3 821.1L989.9 814.9L992.1 812.1L999.9 804.3L1007.9 794.1L1010.7 791.3L1016 785.2L1022.4 779.5L1025.2 776.7L1033.2 770.5L1035 768.3L1043.3 759.5L1047.8 755.9L1052.9 751.1L1063.4 744.1L1064.4 743.4L1066.5 742.2L1073.5 734.8L1076.9 732.3L1083.4 726.6L1094 720.6L1095.9 719.2L1099.7 717.6L1105.6 710.8L1108.5 708.8L1115.2 702.5L1127.8 697L1129.6 695.8L1133 695.1L1137.3 686.7L1137.2 685.2L1141.3 676.3L1166.3 676.3L1166.3 673.4L367.6 673.4L367.6 1062.4Z"/>
<path fill="#ffd900" d="M885.6 1062.4L885.8 1050.6L886.4 1038.8L887.3 1027L888.6 1015.2L890.8 1000.2L892.8 989.1L895.3 978.2L898.1 967.4L900.1 960.7L901.1 956.3L904.5 944.5L907.3 935.3L911 924.8L912.6 920.9L915 914.5L917.5 909.2L919.5 904.3L923 897.4L924.5 894.2L929.9 884.4L933.3 878.8L935.9 873.8L940.7 864.6L942.4 862L946.5 854.9L949.9 850.2L953 845.4L958.4 838.4L960 836.1L966.6 828.6L974.4 817.6L976.9 814.9L981.9 808.5L987.3 803.1L990.3 799.7L999.8 791.2L1007.7 782.2L1010.8 779.5L1016.5 773.6L1024.2 767.7L1026.7 765.4L1033.2 761.1L1036.8 757.2L1038.5 755.9L1046.2 748.7L1053 744.1L1057.1 740.8L1066.5 735.8L1068.9 733.2L1070.1 732.3L1078.5 724.8L1086 720.6L1090.5 717.3L1099.7 713.5L1102.9 709.9L1104.4 708.8L1112.3 701.4L1122.5 697L1126.1 694.5L1133 693.2L1136.5 686.4L1136.4 685.2L1140.6 676.1L1166.3 676.1L1166.3 673.4L367.6 673.4L367.6 1062.4Z"/>
<path fill="#ffc300" d="M869.5 1062.4L869.7 1050.6L870.2 1038.8L871.1 1027L872.3 1015.2L873.8 1003.5L875.2 994.7L877.3 983.6L879.7 972.7L882.4 961.9L885.5 951.2L889 940.6L893 930.2L897.3 920L900.1 914.2L902 909.2L906.1 899.5L907.2 897.4L910.8 889.4L913 885.6L916.1 879.5L919.6 873.8L921.9 869.7L927.1 862L928.2 860.2L933.3 853.4L935.3 850.2L941.1 841.2L943.2 838.4L947.8 831.8L952.3 826.6L955.4 822.7L963 814.9L963.8 813.9L966.6 811.3L971.7 804.9L973.5 803.1L979.7 795.9L984.9 791.3L988.8 787.3L999.1 779.2L999.9 778.7L1007.9 770.5L1011.5 767.7L1017.6 762.2L1027.1 755.9L1029 754.4L1033.2 752.1L1039.4 746.3L1042.7 744.1L1049.9 738.3L1060.9 732.3L1062.8 731L1066.5 729.5L1073.6 723.1L1078.1 720.6L1085.2 715.4L1099.7 709.4L1109.4 700.4L1117.2 697L1122.6 693.3L1133 691.2L1135.6 686.1L1135.6 685.2L1140 675.9L1166.3 675.9L1166.3 673.4L367.6 673.4L367.6 1062.4Z"/>
<path fill="#ffae00" d="M850.7 1062.4L850.9 1050.6L851.5 1038.8L852.4 1027L854.3 1010.8L856.1 999.7L858.2 988.6L860.7 977.7L863.5 966.9L866.8 956.3L869.8 945.6L873.2 935L877 924.6L878.5 920.9L881.2 914.3L883.6 909.2L885.8 904.1L889.3 897.4L890.9 894.1L896.5 884.3L900.1 878.9L902.2 874.6L907.8 864.7L909.6 862L913.8 855.1L917.5 850.2L920.5 845.7L926.6 838.4L928 836.5L933.3 830.7L935.6 827.5L936.3 826.6L942.8 818.2L946.1 814.9L950.8 809.3L957.6 803.1L959.8 800.7L966.6 795.1L969.2 792.2L970.2 791.3L977.8 783.4L982.8 779.5L987.6 775.1L998.9 767.4L999.9 766.8L1008.5 759L1013.2 755.9L1019.4 751L1032.3 743.8L1033.2 743.4L1042.7 735.7L1048.9 732.3L1055 728.3L1066.5 723.4L1068.7 721.4L1070.2 720.6L1079.8 713.5L1091.4 708.8L1094.6 707L1099.7 705.6L1106.4 699.3L1111.9 697L1119.2 692.1L1133 689.3L1134.8 685.8L1134.8 685.2L1139.3 675.6L1166.3 675.6L1166.3 673.4L367.6 673.4L367.6 1062.4Z"/>
<path fill="#ff9800" d="M830.9 1062.4L831.1 1050.6L831.7 1038.8L832.7 1027L834 1015.2L835.6 1003.5L837.5 991.7L839.4 982L841.8 971L844.6 960.2L847.8 949.6L849.6 944.5L851.3 939L853.8 932.7L855.3 928.7L858.7 920.9L859.7 918.4L864.6 908.4L866.8 904.4L869.4 898.3L874.3 888.2L875.8 885.6L879.6 878.3L882.5 873.8L885.5 868.6L890.2 862L892 859.1L900.1 849L905.8 840.4L907.4 838.4L912.8 831.1L916.9 826.6L920.6 822.1L928.1 814.9L929.3 813.4L933.3 809.9L937.8 804.7L939.5 803.1L946.3 795.9L951.9 791.3L955.9 787.5L966.8 779.6L976.1 771.1L981 767.7L986.8 763L999.9 755.4L1009.7 747.6L1016 744.1L1021.9 740.1L1033.2 735L1035.5 733.2L1037 732.3L1047.1 725.5L1058.8 720.6L1061.8 718.9L1066.5 717.5L1074.5 711.6L1081.4 708.8L1088.5 704.8L1099.7 701.8L1103.5 698.3L1106.6 697L1115.7 690.8L1133 687.4L1134 685.5L1134 685.2L1138.6 675.4L1166.3 675.4L1166.3 673.4L367.6 673.4L367.6 1062.4Z"/>
<path fill="#ff8200" d="M807.4 1062.4L807.6 1050.6L808.1 1038.8L809 1027L810.3 1015.2L811.4 1007.4L813.2 996.3L815.3 985.2L817.8 974.3L820.7 963.6L824 952.9L827.7 942.5L831.8 932.1L833.5 928.4L836.3 920.9L840.1 911.5L841.2 909.2L844.7 901.3L846.8 897.4L849.8 891.3L853.2 885.6L855.4 881.5L860.5 873.8L861.6 872L866.8 864.9L874.3 852.9L876.3 850.2L881 843.5L885.4 838.4L888.5 834.3L895.9 826.6L896.8 825.5L900.1 822.5L904.8 816.5L906.6 814.9L913 807.6L918.3 803.1L922.2 799.1L933.3 790.5L941.7 782.5L945.9 779.5L952 774.3L962.5 767.7L963.8 766.7L966.6 765.2L974.6 758.7L979.4 755.9L986.3 751.1L1000.1 744.2L1011.6 736.5L1020.7 732.3L1025.5 729.6L1033.2 726.9L1039.3 722.7L1044.4 720.6L1053.1 715.8L1066.5 711.7L1069.1 709.7L1071.5 708.8L1082.4 702.6L1099.7 698.1L1100.6 697.3L1101.3 697L1112.2 689.6L1133 685.5L1137.9 675.1L1166.3 675.1L1166.3 673.4L367.6 673.4L367.6 1062.4Z"/>
<path fill="#ff6d00" d="M780.5 1062.4L780.7 1050.6L781.3 1038.8L782.2 1027L782.8 1020.9L784.3 1009.6L786.1 998.5L788.3 987.5L790.9 976.6L793.9 965.8L797.2 955.2L800.2 947L804.4 934.2L808.3 923.8L809.5 920.9L812.6 913.5L814.8 909.2L817.3 903.4L820.7 897.4L822.6 893.5L827.5 885.6L828.5 883.8L833.5 876.4L840.4 864.5L842.2 862L846.8 854.9L850.6 850.2L853.8 845.6L860.2 838.4L861.6 836.6L866.8 831.4L869.6 827.7L870.6 826.6L877.3 818.6L881.3 814.9L885.9 809.8L894 803.1L895.6 801.5L900.1 798.2L905.1 793.1L907.4 791.3L914.7 784.7L922.3 779.5L925.7 776.8L933.3 772.2L937.1 769L939.2 767.7L948 761.1L957.6 755.9L960.8 753.8L966.6 751.2L973.3 746.5L978 744.1L986.2 739.3L999.9 733.7L1001.2 732.8L1002.2 732.3L1014.2 725.6L1028.3 720.6L1030.5 719.6L1033.2 718.9L1044.4 712.7L1057.2 708.8L1061.5 707L1066.5 706L1076.3 700.5L1089.6 697L1094.5 695.1L1099.7 694.4L1108.8 688.4L1124.8 685.2L1128.9 683.7L1133 683.7L1137.2 674.9L1166.3 674.9L1166.3 673.4L367.6 673.4L367.6 1062.4Z"/>
<path fill="#ff5700" d="M748.8 1062.4L749 1050.6L749.6 1038.8L750.6 1027L751.1 1021.4L752.6 1010.2L754.5 999L756.7 988L759.3 977.2L762.3 966.5L765.8 955.9L767 952.7L769.4 944.5L772.7 934.8L773.5 932.7L776.6 924.4L778.2 920.9L781 914.1L783.6 909.2L785.9 904.1L789.7 897.4L791.3 894.2L796.7 885.6L797.2 884.5L800.2 880.2L803.1 874.8L803.9 873.8L809 865.1L811.3 862L815.5 855.6L820 850.2L822.7 846.4L830 838.4L830.8 837.5L833.5 834.8L838.4 828.4L840.2 826.6L846.3 819.4L851.3 814.9L855.2 810.8L864.7 803.1L865.2 802.5L866.8 801.4L874.4 794L878 791.3L884.3 785.7L893.8 779.5L895.7 778L900.1 775.5L906.8 770.1L910.7 767.7L918.2 762.4L930.8 755.9L931.7 755.3L933.3 754.6L943.8 747.8L951.9 744.1L957.7 740.9L966.6 737.6L972.1 734.3L976.9 732.3L986.5 727.6L999.9 723.3L1002.9 721.6L1005.8 720.6L1017.9 715.1L1033.2 711.1L1035.7 709.7L1038.6 708.8L1051.5 703.5L1066.5 700.4L1070.2 698.3L1075.3 697L1087.1 692.5L1099.7 690.9L1105.3 687.1L1115.2 685.2L1124.1 682L1133 682L1136.5 674.6L1166.3 674.6L1166.3 673.4L367.6 673.4L367.6 1062.4Z"/>
<path fill="#ff4100" d="M709.9 1062.4L710.1 1050.6L710.6 1038.8L711.6 1027L712.4 1019.5L713.9 1008.2L715.8 997.1L718 986.1L720.7 975.3L723.7 964.6L727.1 954L731 943.6L733.7 937.4L735.3 932.7L739 922.8L739.9 920.9L743.4 912.6L745.2 909.2L748.2 902.5L751.2 897.4L753.6 892.6L758.1 885.6L759.6 883L767 872.5L772.2 863.9L773.6 862L778.6 854.4L782.1 850.2L785.8 845.1L792 838.4L793.9 836.2L800.2 830L802.3 827.4L803 826.6L810.2 818.4L814.1 814.9L819.1 809.7L827.4 803.1L829.1 801.5L833.5 798.4L838.9 793.2L841.6 791.3L848.9 785L857.5 779.5L860.4 777.2L866.8 773.7L872.1 769.6L875.3 767.7L883.7 761.9L895.9 755.9L897.4 755L900.1 753.9L910.1 747.7L918.3 744.1L924.4 740.9L933.3 737.7L939.3 734.4L944.9 732.3L954.4 728L966.6 724.3L971.1 722.1L976 720.6L987.2 716.1L999.9 713.1L1005.2 710.7L1012.4 708.8L1023 705.2L1033.2 703.4L1041.6 699.9L1056.1 697L1061.9 695.4L1066.5 694.9L1079.7 689.9L1099.7 687.3L1101.8 685.9L1105.5 685.2L1119.2 680.3L1133 680.3L1135.8 674.4L1166.3 674.4L1166.3 673.4L367.6 673.4L367.6 1062.4Z"/>
<path fill="#ff2b00" d="M658.7 1062.4L658.9 1050.6L659.5 1038.8L660.6 1027L662.1 1015.2L664.2 1003.5L666.7 991.7L667.1 989.9L669.2 979.9L671.7 969.7L674.6 959L678 948.4L679.5 944.5L681.8 937.9L684.1 932.7L686 927.7L689.3 920.9L690.8 917.5L695.3 909.2L696 907.6L700.4 900.2L701.8 897.4L706.7 887.8L708.2 885.6L712.4 878.1L715.5 873.8L718.7 868.5L723.9 862L725.8 859.2L733.6 850.2L740.5 840.8L742.8 838.4L748.2 831.8L753.5 826.6L756.7 823L767 814.2L775 805.9L778.7 803.1L784.7 797.6L793.6 791.3L795.6 789.6L800.2 786.8L806.3 781.7L809.8 779.5L817.4 773.8L828.5 767.7L830.3 766.6L833.5 765L842.4 759.1L848.9 755.9L855.7 752L866.8 747.5L870.3 745.4L873.3 744.1L884.3 738.6L900.1 733.1L900.9 732.7L916 726.2L933.3 721.3L934.2 720.9L935.3 720.6L950.7 714.9L966.6 711.4L970.1 710L975.3 708.8L988.6 704.8L999.9 703L1008.6 700.1L1026.3 697L1030.5 696L1033.2 695.8L1050 691.2L1066.5 689.5L1072.3 687.3L1088.5 685.2L1095.8 683.8L1099.7 683.8L1114.3 678.6L1133 678.6L1135.1 674.1L1166.3 674.1L1166.3 673.4L367.6 673.4L367.6 1062.4Z"/>
<path fill="#ff1600" d="M582 1062.4L582.3 1050.6L582.9 1038.8L584.1 1027L584.7 1021.4L586.4 1010.3L588.6 999.2L591.1 988.3L594.1 977.6L597.5 967L600.6 959L601.3 956.3L604.8 946L608.7 935.6L610 932.7L613.1 925.4L615.4 920.9L618 915.3L621.5 909.2L623.4 905.5L628.5 897.4L629.4 895.8L633.8 889.4L636 885.6L641.4 876.5L643.4 873.8L647.8 867L651.9 862L655 857.7L661.7 850.2L662.9 848.7L667.1 844.5L670.8 839.7L672 838.4L678.5 830.7L682.9 826.6L687.2 822L695.7 814.9L697 813.6L700.4 811.1L706.3 805.2L709.1 803.1L716.1 796.8L724.2 791.3L727.1 789L733.7 785L738.4 781.2L741.1 779.5L749.6 773.4L760.2 767.7L762.6 766.2L767 764.2L775.2 758.8L781.5 755.9L788.8 751.9L800.2 747.3L803.7 745.4L806.8 744.1L818.1 738.7L833.5 733.6L834.9 732.8L836.5 732.3L850.6 726.6L866.8 722.3L869 721.3L871.9 720.6L886.4 715.7L900.1 712.9L906 710.9L916 708.8L926 706.2L933.3 705.1L946.3 701.6L966.6 698.6L969.1 697.9L974.8 697L990.9 693.8L999.9 693.1L1013.5 690L1033.2 688.3L1038.1 686.9L1055.4 685.2L1063.4 684.1L1066.5 684.1L1086 680.3L1099.7 680.3L1109.5 676.8L1133 676.8L1134.4 673.9L1166.3 673.9L1166.3 673.4L367.6 673.4L367.6 1062.4Z"/>
<path fill="#ff0000" d="M367.6 992.9L369.9 991.7L383.5 985.5L396.3 979.9L400.9 978.1L407.5 970.4L409.7 968.1L416 961.7L421.8 956.3L425.3 953.2L434.2 945.8L435.1 944.5L442.1 935.5L449.9 926.5L458.4 917.7L467.6 909.2L474.9 900L477.4 897.4L482.9 891.1L488.5 885.6L491.6 882.4L500.7 874.3L509 864.9L512.1 862L517.7 856.2L524.7 850.2L527.2 847.8L534 842.6L536.9 839.5L538.1 838.4L545.9 830.9L551.4 826.6L555.9 822.6L567.1 814.8L576.8 806.5L581.8 803.1L587.7 798.5L600.6 790.8L610.9 783.2L617.5 779.5L623.3 775.7L633.8 770.6L636.6 768.7L638.6 767.7L649.2 761.4L661.7 755.9L663.9 754.8L667.1 753.6L677.8 747.9L687.9 744.1L693.4 741.6L700.4 739.5L709.1 735.4L718.9 732.3L726 729.6L733.7 727.7L743.3 724L756.7 720.6L762.2 718.9L767 718L780.8 713.7L800.2 709.9L801.9 709.4L805 708.8L822.1 704.7L833.5 703.2L844 700.7L866.8 697.7L868 697.4L871 697L890.8 693.7L900.1 693.1L915 690.5L933.3 689.2L940.9 687.8L966.6 686L968 685.7L974.5 685.2L994.3 683.2L999.9 683.2L1020.9 680.8L1033.2 680.8L1048.3 678.7L1066.5 678.7L1076.2 676.9L1099.7 676.9L1104.6 675.1L1133 675.1L1133.7 673.6L1166.3 673.6L1166.3 673.4L367.6 673.4Z"/>
<rect x="366.6" y="671.4" width="800.7" height="2.15" fill="#ff0000"/>
<path fill="none" stroke="#000" stroke-opacity="0.64" stroke-width="0.8" stroke-linejoin="round" d="M1145.7 1062.4L1145.7 1038.8L1145.9 1031.6L1145.9 1027L1146 1019.9L1146 1015.2L1146.2 1008.1L1146.2 1003.5L1146.5 996.4L1146.5 991.7L1146.8 984.8L1146.8 979.9L1147.1 973.1L1147.1 968.1L1147.5 961.4L1147.5 956.3L1147.9 949.8L1147.9 944.5L1148.3 938.2L1148.3 932.7L1148.8 926.6L1148.8 920.9L1149.4 915L1149.4 909.2L1150 903.4L1150 897.4L1150.6 891.8L1150.6 885.6L1151.2 880.2L1151.2 873.8L1151.9 868.7L1151.9 862L1152.6 857.1L1152.6 850.2L1153.3 845.6L1153.3 838.4L1154 834.1L1154 826.6L1154.8 822.6L1154.8 814.9L1155.6 811.1L1155.6 803.1L1156.4 799.6L1156.4 791.3L1157.2 788.1L1157.2 779.5L1158.1 776.6L1158.1 767.7L1158.9 765.1L1158.9 755.9L1159.7 753.6L1159.7 744.1L1160.5 742.1L1160.5 732.3L1161.3 730.6L1161.3 720.6L1162 719L1161.7 708.8L1162.4 707.4L1161.4 697L1162.2 695.5L1161.4 685.2L1162.1 683.7L1166.3 683.7M1109.4 1062.4L1109.5 1050.6L1109.7 1038.8L1109.9 1030.6L1110 1027L1110.3 1019L1110.4 1015.2L1110.8 1007.4L1110.9 1003.5L1111.5 995.8L1111.6 991.7L1112.2 984.3L1112.4 979.9L1113 972.8L1113.3 968.1L1114 961.4L1114.3 956.3L1115.1 949.9L1115.4 944.5L1116.2 938.6L1116.6 932.7L1117.5 927.2L1118 920.9L1118.8 915.9L1119.5 909.2L1120.3 904.6L1121 897.4L1121.8 893.4L1122.7 885.6L1123.5 882.2L1124.5 873.8L1125.2 871L1126.5 862L1127 859.9L1128.5 850.2L1128.9 848.8L1130.7 838.4L1130.9 837.7L1135.1 815.6L1135.1 814.9L1137.3 804.6L1137.3 803.1L1139.5 793.6L1139.5 791.3L1141.7 782.6L1141.7 779.5L1144 771.6L1144 767.7L1146.2 760.6L1146.2 755.9L1148.4 749.6L1148.4 744.1L1150.6 738.6L1150.6 732.3L1152.8 727.5L1152.8 720.6L1154.8 716.5L1154.5 708.8L1156.3 705.2L1155.5 697L1157.2 693.7L1156.6 685.2L1158 682.2L1166.3 682.2M1070.7 1062.4L1070.8 1050.6L1071.1 1038.8L1071.6 1027L1072.2 1015.2L1072.9 1005.7L1073.1 1003.5L1073.9 994.3L1074.1 991.7L1075.1 982.9L1075.3 979.9L1076.4 971.6L1076.7 968.1L1077.9 960.3L1078.3 956.3L1079.5 949.1L1080.1 944.5L1081.3 938L1082.1 932.7L1083.3 926.9L1084.3 920.9L1085.5 915.9L1086.7 909.2L1087.8 904.9L1089.3 897.4L1090.2 894L1092.2 885.6L1092.9 883.2L1095.3 873.8L1095.7 872.4L1098.8 861.7L1099.7 858.5L1101.7 850.9L1101.8 850.2L1104.7 840.2L1105 838.4L1107.8 829.5L1108.3 826.6L1111 818.8L1111.8 814.9L1114.3 808.2L1115.5 803.1L1117.7 797.6L1119.4 791.3L1121.3 787.1L1123.7 779.5L1125.1 776.7L1128.4 767.7L1129.1 766.3L1133 757.7L1133.5 756.1L1133.5 755.9L1137.2 745.6L1137.2 744.1L1140.8 735.1L1140.8 732.3L1144.2 724.5L1144.2 720.6L1147.5 713.9L1147.3 708.8L1150.2 703.1L1149.7 697L1152.2 692L1151.7 685.2L1153.8 680.8L1166.3 680.8M1026.6 1062.4L1026.7 1050.6L1027.1 1038.8L1027.8 1027L1028.8 1015.2L1030 1003.5L1031.5 991.7L1035.2 968.1L1037.3 956.3L1039.6 944.5L1042.3 932.7L1044.2 924.9L1045.2 920.9L1047.1 914.1L1048.4 909.2L1051.9 897.4L1055.9 885.6L1060.2 873.8L1064.9 862L1066.5 858.6L1069.1 851.2L1069.4 850.2L1073.1 840.8L1073.9 838.4L1077.3 830.5L1078.7 826.6L1081.7 820.2L1084 814.9L1089.9 803.1L1096.5 791.3L1099.7 786.2L1102.3 780.4L1102.6 779.5L1107 770.3L1108 767.7L1111.9 760.2L1113.9 755.9L1117.2 750.3L1120.6 744.1L1122.9 740.5L1128.7 732.3L1129.6 731.1L1133 727.5L1135.7 721.5L1135.7 720.6L1140.2 711.3L1140.1 708.8L1144.2 700.9L1143.8 697L1147.2 690.2L1146.9 685.2L1149.7 679.3L1166.3 679.3M973.2 1062.4L973.3 1050.6L973.8 1038.8L974.5 1027L975.6 1015.2L977 1003.5L978.6 991.7L979.8 984.6L980.7 979.9L981.9 973.5L983 968.1L984.3 962.6L986.9 951.7L989.9 941L993.2 930.4L996.8 919.9L999.9 911.9L1000.8 909.2L1004.3 898.9L1008.3 888.6L1012.6 878.3L1017.2 868.1L1022.2 858.1L1027.7 848.3L1033.2 839.6L1033.7 838.4L1038.8 828.6L1044.3 818.8L1050.3 809.1L1054.6 803.1L1056.9 799.7L1064.3 790.5L1066.5 788.1L1070.7 781L1077.1 771.5L1084 762.1L1089.6 755.9L1091.9 753.1L1099.7 745.9L1100.8 744.1L1106.9 734.9L1108.6 732.3L1113.7 725.5L1118.4 720.6L1121.8 716.6L1132.8 708.7L1133 708.6L1138.1 698.8L1137.9 697L1142.3 688.5L1142 685.2L1145.5 677.8L1166.3 677.8M901.5 1062.4L901.6 1050.6L902.1 1038.8L902.9 1027L904.1 1015.2L905.3 1005.3L907 994.1L909 983.1L911.4 972.1L914 961.3L917 950.5L919 944.5L920.4 939.9L923 932.7L924.1 929.5L927.6 920.9L928.3 919.2L932.9 909L933.3 908.2L937.2 898.7L937.8 897.4L941.7 888.5L943.3 885.6L946.7 878.5L949.5 873.8L952.2 868.7L956.5 862L958.2 859L964.5 850.2L964.9 849.6L966.6 847.3L971 840L972.1 838.4L977.4 830.4L980.4 826.6L984.3 821.1L989.9 814.9L992.1 812.1L999.9 804.3L1000.8 803.1L1007.9 794.1L1010.7 791.3L1016 785.2L1022.4 779.5L1025.2 776.7L1033.2 770.5L1035 768.3L1035.6 767.7L1043.3 759.5L1047.8 755.9L1052.9 751.1L1063.4 744.1L1064.4 743.4L1066.5 742.2L1073.5 734.8L1076.9 732.3L1083.4 726.6L1094 720.6L1095.9 719.2L1099.7 717.6L1105.6 710.8L1108.5 708.8L1115.2 702.5L1127.8 697L1129.6 695.8L1133 695.1L1137.3 686.7L1137.2 685.2L1141.3 676.3L1166.3 676.3M780.5 1062.4L780.7 1050.6L781.3 1038.8L781.7 1032.3L782.2 1027L782.8 1020.9L784.3 1009.6L786.1 998.5L788.3 987.5L790.9 976.6L793.9 965.8L797.2 955.2L800.2 947L801 944.5L804.4 934.2L805 932.7L808.3 923.8L809.5 920.9L812.6 913.5L814.8 909.2L817.3 903.4L820.7 897.4L822.6 893.5L827.5 885.6L828.5 883.8L833.5 876.4L834.7 874.2L840.4 864.5L842.2 862L846.8 854.9L850.6 850.2L853.8 845.6L860.2 838.4L861.6 836.6L866.8 831.4L869.6 827.7L870.6 826.6L877.3 818.6L881.3 814.9L885.9 809.8L894 803.1L895.6 801.5L900.1 798.2L905.1 793.1L907.4 791.3L914.7 784.7L922.3 779.5L925.7 776.8L933.3 772.2L937.1 769L939.2 767.7L948 761.1L957.6 755.9L960.8 753.8L966.6 751.2L973.3 746.5L978 744.1L986.2 739.3L999.9 733.7L1001.2 732.8L1002.2 732.3L1014.2 725.6L1028.3 720.6L1030.5 719.6L1033.2 718.9L1044.4 712.7L1057.2 708.8L1061.5 707L1066.5 706L1076.3 700.5L1089.6 697L1094.5 695.1L1099.7 694.4L1108.8 688.4L1124.8 685.2L1128.9 683.7L1133 683.7L1137.2 674.9L1166.3 674.9"/>
</g>
<g fill="#000">
<rect x="366.35" y="670.90" width="2.50" height="393.00"/>
<rect x="1165.05" y="670.90" width="2.50" height="393.00"/>
<rect x="366.35" y="670.90" width="801.20" height="3.00"/>
<rect x="366.35" y="1060.90" width="801.20" height="3.00"/>
<rect x="354.10" y="1060.90" width="13.50" height="3.00"/>
<rect x="360.90" y="1021.90" width="6.70" height="3.00"/>
<rect x="354.10" y="982.90" width="13.50" height="3.00"/>
<rect x="360.90" y="943.90" width="6.70" height="3.00"/>
<rect x="354.10" y="904.90" width="13.50" height="3.00"/>
<rect x="360.90" y="865.90" width="6.70" height="3.00"/>
<rect x="354.10" y="826.90" width="13.50" height="3.00"/>
<rect x="360.90" y="787.90" width="6.70" height="3.00"/>
<rect x="354.10" y="748.90" width="13.50" height="3.00"/>
<rect x="360.90" y="709.90" width="6.70" height="3.00"/>
<rect x="354.10" y="670.90" width="13.50" height="3.00"/>
<rect x="366.35" y="1062.40" width="2.50" height="16.40"/>
<rect x="432.91" y="1062.40" width="2.50" height="7.80"/>
<rect x="499.47" y="1062.40" width="2.50" height="16.40"/>
<rect x="566.02" y="1062.40" width="2.50" height="7.80"/>
<rect x="632.58" y="1062.40" width="2.50" height="16.40"/>
<rect x="699.14" y="1062.40" width="2.50" height="7.80"/>
<rect x="765.70" y="1062.40" width="2.50" height="16.40"/>
<rect x="832.26" y="1062.40" width="2.50" height="7.80"/>
<rect x="898.82" y="1062.40" width="2.50" height="16.40"/>
<rect x="965.38" y="1062.40" width="2.50" height="7.80"/>
<rect x="1031.93" y="1062.40" width="2.50" height="16.40"/>
<rect x="1098.49" y="1062.40" width="2.50" height="7.80"/>
<rect x="1165.05" y="1062.40" width="2.50" height="16.40"/>
</g>
<g>
<text transform="matrix(0.12500 0 0 0.13926 327.80 1070.60)">0</text>
<text transform="matrix(0.12500 0 0 0.13926 327.80 992.60)">2</text>
<text transform="matrix(0.12500 0 0 0.13926 327.30 914.60)">4</text>
<text transform="matrix(0.12500 0 0 0.13926 327.55 836.60)">6</text>
<text transform="matrix(0.12500 0 0 0.13926 327.68 758.60)">8</text>
<text transform="matrix(0.12500 0 0 0.13926 315.30 680.60)">10</text>
<text transform="matrix(0.12500 0 0 0.13926 361.35 1116.70)">0</text>
<text transform="matrix(0.12500 0 0 0.13926 494.47 1116.70)">5</text>
<text transform="matrix(0.12500 0 0 0.13926 621.33 1116.70)">10</text>
<text transform="matrix(0.12500 0 0 0.13926 754.45 1116.70)">15</text>
<text transform="matrix(0.12500 0 0 0.13926 887.57 1116.70)">20</text>
<text transform="matrix(0.12500 0 0 0.13926 1020.68 1116.70)">25</text>
<text transform="matrix(0.12500 0 0 0.13926 1153.80 1116.70)">30</text>
</g>
<text transform="matrix(0.13149 0 0 0.15344 688.97 1176.20)">X-Coordinate</text>
<text transform="matrix(0.17564 0 0 0.17197 691.02 1227.70)">(c) a/b=3</text>
<text transform="matrix(0.00000 -0.15369 0.13588 0.00000 295.00 958.36)">Y-Coordinate</text>
<g shape-rendering="crispEdges">
<rect x="1294.9" y="672.1" width="58.6" height="8" fill="#808080"/>
<rect x="1294.9" y="1046.80" width="58.6" height="8.40" fill="#0000ff"/>
<rect x="1294.9" y="1039.00" width="58.6" height="8.40" fill="#0016ff"/>
<rect x="1294.9" y="1031.19" width="58.6" height="8.40" fill="#002bff"/>
<rect x="1294.9" y="1023.39" width="58.6" height="8.40" fill="#0041ff"/>
<rect x="1294.9" y="1015.59" width="58.6" height="8.40" fill="#0057ff"/>
<rect x="1294.9" y="1007.79" width="58.6" height="8.40" fill="#006dff"/>
<rect x="1294.9" y="999.99" width="58.6" height="8.40" fill="#0082ff"/>
<rect x="1294.9" y="992.18" width="58.6" height="8.40" fill="#0098ff"/>
<rect x="1294.9" y="984.38" width="58.6" height="8.40" fill="#00aeff"/>
<rect x="1294.9" y="976.58" width="58.6" height="8.40" fill="#00c3ff"/>
<rect x="1294.9" y="968.78" width="58.6" height="8.40" fill="#00d9ff"/>
<rect x="1294.9" y="960.97" width="58.6" height="8.40" fill="#00efff"/>
<rect x="1294.9" y="953.17" width="58.6" height="8.40" fill="#00fffa"/>
<rect x="1294.9" y="945.37" width="58.6" height="8.40" fill="#00ffe4"/>
<rect x="1294.9" y="937.57" width="58.6" height="8.40" fill="#00ffce"/>
<rect x="1294.9" y="929.77" width="58.6" height="8.40" fill="#00ffb8"/>
<rect x="1294.9" y="921.96" width="58.6" height="8.40" fill="#00ffa3"/>
<rect x="1294.9" y="914.16" width="58.6" height="8.40" fill="#00ff8d"/>
<rect x="1294.9" y="906.36" width="58.6" height="8.40" fill="#00ff77"/>
<rect x="1294.9" y="898.56" width="58.6" height="8.40" fill="#00ff62"/>
<rect x="1294.9" y="890.76" width="58.6" height="8.40" fill="#00ff4c"/>
<rect x="1294.9" y="882.95" width="58.6" height="8.40" fill="#00ff36"/>
<rect x="1294.9" y="875.15" width="58.6" height="8.40" fill="#00ff21"/>
<rect x="1294.9" y="867.35" width="58.6" height="8.40" fill="#00ff0b"/>
<rect x="1294.9" y="859.55" width="58.6" height="8.40" fill="#0bff00"/>
<rect x="1294.9" y="851.75" width="58.6" height="8.40" fill="#21ff00"/>
<rect x="1294.9" y="843.94" width="58.6" height="8.40" fill="#36ff00"/>
<rect x="1294.9" y="836.14" width="58.6" height="8.40" fill="#4cff00"/>
<rect x="1294.9" y="828.34" width="58.6" height="8.40" fill="#62ff00"/>
<rect x="1294.9" y="820.54" width="58.6" height="8.40" fill="#77ff00"/>
<rect x="1294.9" y="812.74" width="58.6" height="8.40" fill="#8dff00"/>
<rect x="1294.9" y="804.93" width="58.6" height="8.40" fill="#a3ff00"/>
<rect x="1294.9" y="797.13" width="58.6" height="8.40" fill="#b8ff00"/>
<rect x="1294.9" y="789.33" width="58.6" height="8.40" fill="#ceff00"/>
<rect x="1294.9" y="781.53" width="58.6" height="8.40" fill="#e4ff00"/>
<rect x="1294.9" y="773.73" width="58.6" height="8.40" fill="#faff00"/>
<rect x="1294.9" y="765.92" width="58.6" height="8.40" fill="#ffef00"/>
<rect x="1294.9" y="758.12" width="58.6" height="8.40" fill="#ffd900"/>
<rect x="1294.9" y="750.32" width="58.6" height="8.40" fill="#ffc300"/>
<rect x="1294.9" y="742.52" width="58.6" height="8.40" fill="#ffae00"/>
<rect x="1294.9" y="734.71" width="58.6" height="8.40" fill="#ff9800"/>
<rect x="1294.9" y="726.91" width="58.6" height="8.40" fill="#ff8200"/>
<rect x="1294.9" y="719.11" width="58.6" height="8.40" fill="#ff6d00"/>
<rect x="1294.9" y="711.31" width="58.6" height="8.40" fill="#ff5700"/>
<rect x="1294.9" y="703.51" width="58.6" height="8.40" fill="#ff4100"/>
<rect x="1294.9" y="695.70" width="58.6" height="8.40" fill="#ff2b00"/>
<rect x="1294.9" y="687.90" width="58.6" height="8.40" fill="#ff1600"/>
<rect x="1294.9" y="680.10" width="58.6" height="8.40" fill="#ff0000"/>
<rect x="1294.9" y="1054.6" width="58.6" height="8" fill="#000"/>
</g>
<rect x="1294.9" y="672.1" width="58.6" height="390.5" fill="none" stroke="#111" stroke-width="1.6"/>
<path stroke="#111" stroke-width="1.9" fill="none" d="M1353.5 680.10H1366.9M1353.5 726.91H1366.9M1353.5 773.73H1366.9M1353.5 820.54H1366.9M1353.5 867.35H1366.9M1353.5 914.16H1366.9M1353.5 960.97H1366.9M1353.5 1007.79H1366.9M1353.5 1054.60H1366.9"/>
<text transform="matrix(0.11595 0 0 0.13382 1376.25 689.70)">453.0</text>
<text transform="matrix(0.11595 0 0 0.13382 1376.25 736.51)">432.6</text>
<text transform="matrix(0.11595 0 0 0.13382 1376.25 783.33)">412.1</text>
<text transform="matrix(0.11595 0 0 0.13382 1376.25 830.14)">391.7</text>
<text transform="matrix(0.11595 0 0 0.13382 1376.25 876.95)">371.3</text>
<text transform="matrix(0.11595 0 0 0.13382 1376.25 923.76)">350.8</text>
<text transform="matrix(0.11595 0 0 0.13382 1376.25 970.57)">330.4</text>
<text transform="matrix(0.11595 0 0 0.13382 1376.25 1017.39)">309.9</text>
<text transform="matrix(0.11595 0 0 0.13382 1376.25 1064.20)">289.5</text>
<text transform="matrix(0.11548 0 0 0.14122 1203.14 643.60)">Nodal Temperatures (K)</text>
<rect x="567" y="626" width="1.2" height="1.2" fill="#a0a0a0"/>
</svg>
</body></html>
